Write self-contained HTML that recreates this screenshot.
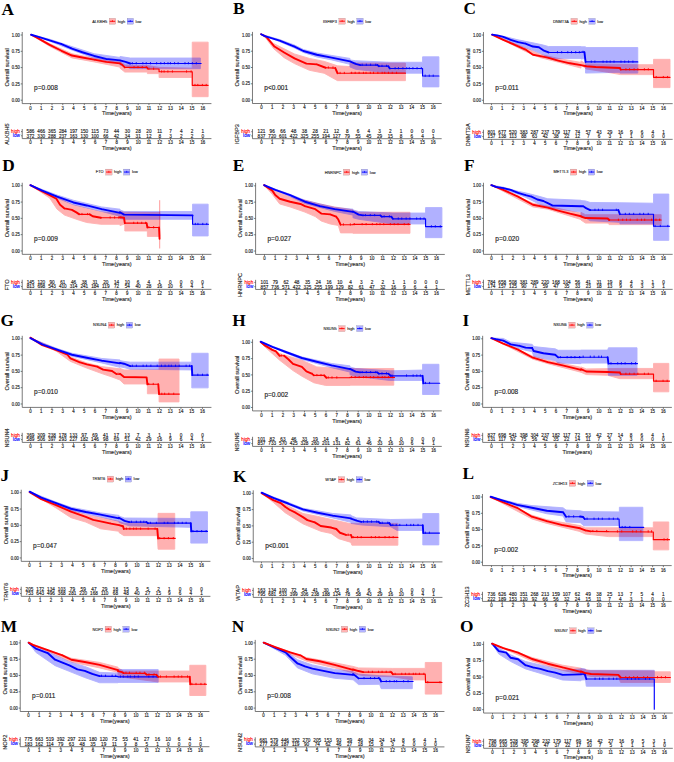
<!DOCTYPE html><html><head><meta charset="utf-8"><style>html,body{margin:0;padding:0;background:#fff;width:674px;height:762px;overflow:hidden}svg{display:block}</style></head><body>
<svg width="674" height="762" viewBox="0 0 674 762">
<style>text{stroke-linejoin:round}.t{stroke:currentColor}</style>
<rect width="674" height="762" fill="#fff"/>
<g transform="translate(0.03,0)">
<g font-family='"Liberation Sans", sans-serif' font-size="3.9" fill="#2a2a2a" stroke="#2a2a2a" stroke-width="0.12">
<text x="92.21" y="22.7">ALKBH5</text>
<rect x="109.17" y="18.3" width="6.5" height="6" fill="#ffb3b3"/>
<line x1="109.67" y1="21.3" x2="115.17" y2="21.3" stroke="#ff0000" stroke-width="0.9"/>
<line x1="112.42" y1="20.1" x2="112.42" y2="21.9" stroke="#ff0000" stroke-width="0.7"/>
<text x="117.67" y="22.7">high</text>
<rect x="127.04" y="18.3" width="6.5" height="6" fill="#b3b3ff"/>
<line x1="127.54" y1="21.3" x2="133.04" y2="21.3" stroke="#0000ff" stroke-width="0.9"/>
<line x1="130.29" y1="20.1" x2="130.29" y2="21.9" stroke="#0000ff" stroke-width="0.7"/>
<text x="135.54" y="22.7">low</text>
</g>
<g stroke="#4d4d4d" stroke-width="0.75" fill="none">
<path d="M22.2,32 V103.6 H211.4"/>
<path d="M20.7,100.2 H22.2"/>
<path d="M20.7,83.9 H22.2"/>
<path d="M20.7,67.6 H22.2"/>
<path d="M20.7,51.3 H22.2"/>
<path d="M20.7,35 H22.2"/>
<path d="M30.44,103.6 V105.1"/>
<path d="M41.21,103.6 V105.1"/>
<path d="M51.98,103.6 V105.1"/>
<path d="M62.75,103.6 V105.1"/>
<path d="M73.52,103.6 V105.1"/>
<path d="M84.29,103.6 V105.1"/>
<path d="M95.06,103.6 V105.1"/>
<path d="M105.83,103.6 V105.1"/>
<path d="M116.6,103.6 V105.1"/>
<path d="M127.37,103.6 V105.1"/>
<path d="M138.14,103.6 V105.1"/>
<path d="M148.91,103.6 V105.1"/>
<path d="M159.68,103.6 V105.1"/>
<path d="M170.45,103.6 V105.1"/>
<path d="M181.22,103.6 V105.1"/>
<path d="M191.99,103.6 V105.1"/>
<path d="M202.76,103.6 V105.1"/>
<path d="M22.2,129 V138.6 H211.4"/>
<path d="M30.44,138.6 V140.1"/>
<path d="M41.21,138.6 V140.1"/>
<path d="M51.98,138.6 V140.1"/>
<path d="M62.75,138.6 V140.1"/>
<path d="M73.52,138.6 V140.1"/>
<path d="M84.29,138.6 V140.1"/>
<path d="M95.06,138.6 V140.1"/>
<path d="M105.83,138.6 V140.1"/>
<path d="M116.6,138.6 V140.1"/>
<path d="M127.37,138.6 V140.1"/>
<path d="M138.14,138.6 V140.1"/>
<path d="M148.91,138.6 V140.1"/>
<path d="M159.68,138.6 V140.1"/>
<path d="M170.45,138.6 V140.1"/>
<path d="M181.22,138.6 V140.1"/>
<path d="M191.99,138.6 V140.1"/>
<path d="M202.76,138.6 V140.1"/>
<path d="M21,131.6 H22.2 M21,135.8 H22.2"/>
</g>
<g font-family='"Liberation Sans", sans-serif' font-size="4.8" fill="#2a2a2a" stroke="#2a2a2a" stroke-width="0.18">
<text x="19.7" y="101.85" text-anchor="end" textLength="8" lengthAdjust="spacingAndGlyphs">0.00</text>
<text x="19.7" y="85.55" text-anchor="end" textLength="8" lengthAdjust="spacingAndGlyphs">0.25</text>
<text x="19.7" y="69.25" text-anchor="end" textLength="8" lengthAdjust="spacingAndGlyphs">0.50</text>
<text x="19.7" y="52.95" text-anchor="end" textLength="8" lengthAdjust="spacingAndGlyphs">0.75</text>
<text x="19.7" y="36.65" text-anchor="end" textLength="8" lengthAdjust="spacingAndGlyphs">1.00</text>
<text x="30.44" y="109.6" text-anchor="middle" textLength="2.4" lengthAdjust="spacingAndGlyphs">0</text>
<text x="30.44" y="144.05" text-anchor="middle" textLength="2.4" lengthAdjust="spacingAndGlyphs">0</text>
<text x="41.21" y="109.6" text-anchor="middle" textLength="2.4" lengthAdjust="spacingAndGlyphs">1</text>
<text x="41.21" y="144.05" text-anchor="middle" textLength="2.4" lengthAdjust="spacingAndGlyphs">1</text>
<text x="51.98" y="109.6" text-anchor="middle" textLength="2.4" lengthAdjust="spacingAndGlyphs">2</text>
<text x="51.98" y="144.05" text-anchor="middle" textLength="2.4" lengthAdjust="spacingAndGlyphs">2</text>
<text x="62.75" y="109.6" text-anchor="middle" textLength="2.4" lengthAdjust="spacingAndGlyphs">3</text>
<text x="62.75" y="144.05" text-anchor="middle" textLength="2.4" lengthAdjust="spacingAndGlyphs">3</text>
<text x="73.52" y="109.6" text-anchor="middle" textLength="2.4" lengthAdjust="spacingAndGlyphs">4</text>
<text x="73.52" y="144.05" text-anchor="middle" textLength="2.4" lengthAdjust="spacingAndGlyphs">4</text>
<text x="84.29" y="109.6" text-anchor="middle" textLength="2.4" lengthAdjust="spacingAndGlyphs">5</text>
<text x="84.29" y="144.05" text-anchor="middle" textLength="2.4" lengthAdjust="spacingAndGlyphs">5</text>
<text x="95.06" y="109.6" text-anchor="middle" textLength="2.4" lengthAdjust="spacingAndGlyphs">6</text>
<text x="95.06" y="144.05" text-anchor="middle" textLength="2.4" lengthAdjust="spacingAndGlyphs">6</text>
<text x="105.83" y="109.6" text-anchor="middle" textLength="2.4" lengthAdjust="spacingAndGlyphs">7</text>
<text x="105.83" y="144.05" text-anchor="middle" textLength="2.4" lengthAdjust="spacingAndGlyphs">7</text>
<text x="116.6" y="109.6" text-anchor="middle" textLength="2.4" lengthAdjust="spacingAndGlyphs">8</text>
<text x="116.6" y="144.05" text-anchor="middle" textLength="2.4" lengthAdjust="spacingAndGlyphs">8</text>
<text x="127.37" y="109.6" text-anchor="middle" textLength="2.4" lengthAdjust="spacingAndGlyphs">9</text>
<text x="127.37" y="144.05" text-anchor="middle" textLength="2.4" lengthAdjust="spacingAndGlyphs">9</text>
<text x="138.14" y="109.6" text-anchor="middle" textLength="4.8" lengthAdjust="spacingAndGlyphs">10</text>
<text x="138.14" y="144.05" text-anchor="middle" textLength="4.8" lengthAdjust="spacingAndGlyphs">10</text>
<text x="148.91" y="109.6" text-anchor="middle" textLength="4.48" lengthAdjust="spacingAndGlyphs">11</text>
<text x="148.91" y="144.05" text-anchor="middle" textLength="4.48" lengthAdjust="spacingAndGlyphs">11</text>
<text x="159.68" y="109.6" text-anchor="middle" textLength="4.8" lengthAdjust="spacingAndGlyphs">12</text>
<text x="159.68" y="144.05" text-anchor="middle" textLength="4.8" lengthAdjust="spacingAndGlyphs">12</text>
<text x="170.45" y="109.6" text-anchor="middle" textLength="4.8" lengthAdjust="spacingAndGlyphs">13</text>
<text x="170.45" y="144.05" text-anchor="middle" textLength="4.8" lengthAdjust="spacingAndGlyphs">13</text>
<text x="181.22" y="109.6" text-anchor="middle" textLength="4.8" lengthAdjust="spacingAndGlyphs">14</text>
<text x="181.22" y="144.05" text-anchor="middle" textLength="4.8" lengthAdjust="spacingAndGlyphs">14</text>
<text x="191.99" y="109.6" text-anchor="middle" textLength="4.8" lengthAdjust="spacingAndGlyphs">15</text>
<text x="191.99" y="144.05" text-anchor="middle" textLength="4.8" lengthAdjust="spacingAndGlyphs">15</text>
<text x="202.76" y="109.6" text-anchor="middle" textLength="4.8" lengthAdjust="spacingAndGlyphs">16</text>
<text x="202.76" y="144.05" text-anchor="middle" textLength="4.8" lengthAdjust="spacingAndGlyphs">16</text>
</g>
<g font-family='"Liberation Sans", sans-serif' font-size="5.6" fill="#2a2a2a" stroke="#2a2a2a" stroke-width="0.14" text-anchor="middle">
<text x="116.8" y="115.25">Time(years)</text>
<text x="116.8" y="149.75">Time(years)</text>
<text transform="translate(8.6,67.5) rotate(-90)" font-size="5.6">Overall survival</text>
<text transform="translate(8.7,134.1) rotate(-90)" font-size="5.6">ALKBH5</text>
</g>
<g font-family='"Liberation Sans", sans-serif' font-size="4.7" text-anchor="end" stroke-width="0.12">
<text x="19.9" y="133" fill="#ff0000" stroke="#ff0000">high</text>
<text x="19.9" y="137" fill="#0000ff" stroke="#0000ff">low</text>
</g>
<g font-family='"Liberation Sans", sans-serif' font-size="5" fill="#222" stroke="#222" stroke-width="0.15" text-anchor="middle">
<text x="30.44" y="133.4" textLength="7.76" lengthAdjust="spacingAndGlyphs">586</text>
<text x="41.21" y="133.4" textLength="7.76" lengthAdjust="spacingAndGlyphs">466</text>
<text x="51.98" y="133.4" textLength="7.76" lengthAdjust="spacingAndGlyphs">365</text>
<text x="62.75" y="133.4" textLength="7.76" lengthAdjust="spacingAndGlyphs">284</text>
<text x="73.52" y="133.4" textLength="7.76" lengthAdjust="spacingAndGlyphs">197</text>
<text x="84.29" y="133.4" textLength="7.76" lengthAdjust="spacingAndGlyphs">150</text>
<text x="95.06" y="133.4" textLength="7.41" lengthAdjust="spacingAndGlyphs">115</text>
<text x="105.83" y="133.4" textLength="5.17" lengthAdjust="spacingAndGlyphs">73</text>
<text x="116.6" y="133.4" textLength="5.17" lengthAdjust="spacingAndGlyphs">44</text>
<text x="127.37" y="133.4" textLength="5.17" lengthAdjust="spacingAndGlyphs">30</text>
<text x="138.14" y="133.4" textLength="5.17" lengthAdjust="spacingAndGlyphs">28</text>
<text x="148.91" y="133.4" textLength="5.17" lengthAdjust="spacingAndGlyphs">20</text>
<text x="159.68" y="133.4" textLength="4.83" lengthAdjust="spacingAndGlyphs">11</text>
<text x="170.45" y="133.4" textLength="2.59" lengthAdjust="spacingAndGlyphs">7</text>
<text x="181.22" y="133.4" textLength="2.59" lengthAdjust="spacingAndGlyphs">4</text>
<text x="191.99" y="133.4" textLength="2.59" lengthAdjust="spacingAndGlyphs">2</text>
<text x="202.76" y="133.4" textLength="2.59" lengthAdjust="spacingAndGlyphs">1</text>
<text x="30.44" y="137.7" textLength="7.76" lengthAdjust="spacingAndGlyphs">372</text>
<text x="41.21" y="137.7" textLength="7.76" lengthAdjust="spacingAndGlyphs">330</text>
<text x="51.98" y="137.7" textLength="7.76" lengthAdjust="spacingAndGlyphs">288</text>
<text x="62.75" y="137.7" textLength="7.76" lengthAdjust="spacingAndGlyphs">237</text>
<text x="73.52" y="137.7" textLength="7.76" lengthAdjust="spacingAndGlyphs">163</text>
<text x="84.29" y="137.7" textLength="7.76" lengthAdjust="spacingAndGlyphs">130</text>
<text x="95.06" y="137.7" textLength="7.76" lengthAdjust="spacingAndGlyphs">100</text>
<text x="105.83" y="137.7" textLength="5.17" lengthAdjust="spacingAndGlyphs">66</text>
<text x="116.6" y="137.7" textLength="5.17" lengthAdjust="spacingAndGlyphs">42</text>
<text x="127.37" y="137.7" textLength="5.17" lengthAdjust="spacingAndGlyphs">34</text>
<text x="138.14" y="137.7" textLength="5.17" lengthAdjust="spacingAndGlyphs">31</text>
<text x="148.91" y="137.7" textLength="5.17" lengthAdjust="spacingAndGlyphs">12</text>
<text x="159.68" y="137.7" textLength="2.59" lengthAdjust="spacingAndGlyphs">8</text>
<text x="170.45" y="137.7" textLength="2.59" lengthAdjust="spacingAndGlyphs">3</text>
<text x="181.22" y="137.7" textLength="2.59" lengthAdjust="spacingAndGlyphs">2</text>
<text x="191.99" y="137.7" textLength="2.59" lengthAdjust="spacingAndGlyphs">2</text>
<text x="202.76" y="137.7" textLength="2.59" lengthAdjust="spacingAndGlyphs">0</text>
</g>
<text x="34.1" y="90.2" font-family='"Liberation Sans", sans-serif' font-size="6.5" fill="#222" stroke="#222" stroke-width="0.15">p=0.008</text>
</g>
<path d="M31.13,34.75 L49.67,43.65 L71.93,53.74 L94.18,58.19 L120,61.9 L119.97,61.16 L124.8,65.05 L147.39,65.52 L159.07,67.39 L192.26,68.17 L192.26,42.15 L208.15,42.15 L208.15,96.68 L192.26,96.68 L192.26,77.51 L159.07,77.51 L159.07,73.62 L147.39,73.62 L147.39,72.06 L124.8,72.06 L119.97,68.17 L120,67.09 L94.18,61.9 L71.93,57.89 L49.67,46.32 L31.13,34.75 Z" fill="#ff0000" stroke="#ff0000" stroke-width="0.9" stroke-linejoin="round" opacity="0.3"/>
<path d="M31.13,34.75 L49.67,39.2 L71.93,46.62 L94.18,53.74 L120,57.45 L119.97,56.48 L130.25,58.04 L200.36,58.04 L200.36,68.64 L130.25,68.64 L125.58,65.83 L119.97,65.05 L120,63.38 L94.18,58.19 L71.93,50.03 L49.67,41.13 L31.13,34.75 Z" fill="#0000ff" stroke="#0000ff" stroke-width="0.9" stroke-linejoin="round" opacity="0.3"/>
<path d="M31.13,34.75 L37.8,38.16 M37.8,38.16 L49.67,44.84 M49.67,44.84 L61.54,50.77 M61.54,50.77 L71.93,55.52 M71.93,55.52 L82.31,57.45 M82.31,57.45 L94.18,59.67 M94.18,59.67 L106.05,61.9 M106.05,61.9 L120,63.38 M119.97,63.49 L122.46,65.05 M122.46,65.05 L124.8,67.39" fill="none" stroke="#ff0000" stroke-width="1.9" stroke-linecap="round"/>
<path d="M120,63.38 L119.97,63.49 M124.8,67.39 L147.39,67.39 M147.39,67.39 L147.39,68.95 M147.39,68.95 L159.07,68.95 M159.07,68.95 L159.07,71.75 M159.07,71.75 L192.26,71.75 M192.26,71.75 L192.26,85.3 M192.26,85.3 L208.15,85.3" fill="none" stroke="#ff0000" stroke-width="1.15" stroke-linecap="round"/>
<path d="M134.05,65.99 V68.19 M138.01,65.99 V68.19 M142.29,65.99 V68.19 M146.26,65.99 V68.19 M148.86,67.55 V69.75 M153.63,67.55 V69.75 M161.63,70.35 V72.55 M164.1,70.35 V72.55 M167.89,70.35 V72.55 M172.45,70.35 V72.55 M186.55,70.35 V72.55 M191.11,70.35 V72.55 M194.97,83.9 V86.1 M197.81,83.9 V86.1 M202.4,83.9 V86.1 M206.22,83.9 V86.1" fill="none" stroke="#ff0000" stroke-width="0.9"/>
<path d="M31.13,34.75 L37.8,36.68 M37.8,36.68 L49.67,40.39 M49.67,40.39 L61.54,44.09 M61.54,44.09 L71.93,48.55 M71.93,48.55 L82.31,52.26 M82.31,52.26 L94.18,55.96 M94.18,55.96 L106.05,58.93 M106.05,58.93 L120,60.42 M119.97,60.38 L125.58,61.94 M125.58,61.94 L130.25,63.49" fill="none" stroke="#0000ff" stroke-width="1.9" stroke-linecap="round"/>
<path d="M120,60.42 L119.97,60.38 M130.25,63.49 L201.14,63.49" fill="none" stroke="#0000ff" stroke-width="1.15" stroke-linecap="round"/>
<path d="M132.28,62.09 V64.29 M136.28,62.09 V64.29 M142.85,62.09 V64.29 M146.24,62.09 V64.29 M150.48,62.09 V64.29 M156.64,62.09 V64.29 M160.8,62.09 V64.29 M164.36,62.09 V64.29 M168.01,62.09 V64.29 M170.42,62.09 V64.29 M174.58,62.09 V64.29 M178.14,62.09 V64.29 M184.97,62.09 V64.29 M188.36,62.09 V64.29 M192.34,62.09 V64.29 M196.34,62.09 V64.29" fill="none" stroke="#0000ff" stroke-width="0.9"/>
<text x="1.4" y="14.6" font-family='"Liberation Serif", serif' font-weight="bold" font-size="17.3" fill="#000">A</text>
<g transform="translate(230.28,-0.1)">
<g font-family='"Liberation Sans", sans-serif' font-size="3.9" fill="#2a2a2a" stroke="#2a2a2a" stroke-width="0.12">
<text x="92.75" y="22.7">IGFBP3</text>
<rect x="108.62" y="18.3" width="6.5" height="6" fill="#ffb3b3"/>
<line x1="109.12" y1="21.3" x2="114.62" y2="21.3" stroke="#ff0000" stroke-width="0.9"/>
<line x1="111.87" y1="20.1" x2="111.87" y2="21.9" stroke="#ff0000" stroke-width="0.7"/>
<text x="117.12" y="22.7">high</text>
<rect x="126.5" y="18.3" width="6.5" height="6" fill="#b3b3ff"/>
<line x1="127" y1="21.3" x2="132.5" y2="21.3" stroke="#0000ff" stroke-width="0.9"/>
<line x1="129.75" y1="20.1" x2="129.75" y2="21.9" stroke="#0000ff" stroke-width="0.7"/>
<text x="135" y="22.7">low</text>
</g>
<g stroke="#4d4d4d" stroke-width="0.75" fill="none">
<path d="M22.2,32 V103.6 H211.4"/>
<path d="M20.7,100.2 H22.2"/>
<path d="M20.7,83.9 H22.2"/>
<path d="M20.7,67.6 H22.2"/>
<path d="M20.7,51.3 H22.2"/>
<path d="M20.7,35 H22.2"/>
<path d="M31.19,103.6 V105.1"/>
<path d="M41.93,103.6 V105.1"/>
<path d="M52.66,103.6 V105.1"/>
<path d="M63.4,103.6 V105.1"/>
<path d="M74.13,103.6 V105.1"/>
<path d="M84.87,103.6 V105.1"/>
<path d="M95.61,103.6 V105.1"/>
<path d="M106.34,103.6 V105.1"/>
<path d="M117.08,103.6 V105.1"/>
<path d="M127.81,103.6 V105.1"/>
<path d="M138.55,103.6 V105.1"/>
<path d="M149.29,103.6 V105.1"/>
<path d="M160.02,103.6 V105.1"/>
<path d="M170.76,103.6 V105.1"/>
<path d="M181.49,103.6 V105.1"/>
<path d="M192.23,103.6 V105.1"/>
<path d="M202.97,103.6 V105.1"/>
<path d="M22.2,129.2 V138.8 H211.4"/>
<path d="M31.19,138.8 V140.3"/>
<path d="M41.93,138.8 V140.3"/>
<path d="M52.66,138.8 V140.3"/>
<path d="M63.4,138.8 V140.3"/>
<path d="M74.13,138.8 V140.3"/>
<path d="M84.87,138.8 V140.3"/>
<path d="M95.61,138.8 V140.3"/>
<path d="M106.34,138.8 V140.3"/>
<path d="M117.08,138.8 V140.3"/>
<path d="M127.81,138.8 V140.3"/>
<path d="M138.55,138.8 V140.3"/>
<path d="M149.29,138.8 V140.3"/>
<path d="M160.02,138.8 V140.3"/>
<path d="M170.76,138.8 V140.3"/>
<path d="M181.49,138.8 V140.3"/>
<path d="M192.23,138.8 V140.3"/>
<path d="M202.97,138.8 V140.3"/>
<path d="M21,131.8 H22.2 M21,136 H22.2"/>
</g>
<g font-family='"Liberation Sans", sans-serif' font-size="4.8" fill="#2a2a2a" stroke="#2a2a2a" stroke-width="0.18">
<text x="19.7" y="101.85" text-anchor="end" textLength="8" lengthAdjust="spacingAndGlyphs">0.00</text>
<text x="19.7" y="85.55" text-anchor="end" textLength="8" lengthAdjust="spacingAndGlyphs">0.25</text>
<text x="19.7" y="69.25" text-anchor="end" textLength="8" lengthAdjust="spacingAndGlyphs">0.50</text>
<text x="19.7" y="52.95" text-anchor="end" textLength="8" lengthAdjust="spacingAndGlyphs">0.75</text>
<text x="19.7" y="36.65" text-anchor="end" textLength="8" lengthAdjust="spacingAndGlyphs">1.00</text>
<text x="31.19" y="109.6" text-anchor="middle" textLength="2.4" lengthAdjust="spacingAndGlyphs">0</text>
<text x="31.19" y="144.25" text-anchor="middle" textLength="2.4" lengthAdjust="spacingAndGlyphs">0</text>
<text x="41.93" y="109.6" text-anchor="middle" textLength="2.4" lengthAdjust="spacingAndGlyphs">1</text>
<text x="41.93" y="144.25" text-anchor="middle" textLength="2.4" lengthAdjust="spacingAndGlyphs">1</text>
<text x="52.66" y="109.6" text-anchor="middle" textLength="2.4" lengthAdjust="spacingAndGlyphs">2</text>
<text x="52.66" y="144.25" text-anchor="middle" textLength="2.4" lengthAdjust="spacingAndGlyphs">2</text>
<text x="63.4" y="109.6" text-anchor="middle" textLength="2.4" lengthAdjust="spacingAndGlyphs">3</text>
<text x="63.4" y="144.25" text-anchor="middle" textLength="2.4" lengthAdjust="spacingAndGlyphs">3</text>
<text x="74.13" y="109.6" text-anchor="middle" textLength="2.4" lengthAdjust="spacingAndGlyphs">4</text>
<text x="74.13" y="144.25" text-anchor="middle" textLength="2.4" lengthAdjust="spacingAndGlyphs">4</text>
<text x="84.87" y="109.6" text-anchor="middle" textLength="2.4" lengthAdjust="spacingAndGlyphs">5</text>
<text x="84.87" y="144.25" text-anchor="middle" textLength="2.4" lengthAdjust="spacingAndGlyphs">5</text>
<text x="95.61" y="109.6" text-anchor="middle" textLength="2.4" lengthAdjust="spacingAndGlyphs">6</text>
<text x="95.61" y="144.25" text-anchor="middle" textLength="2.4" lengthAdjust="spacingAndGlyphs">6</text>
<text x="106.34" y="109.6" text-anchor="middle" textLength="2.4" lengthAdjust="spacingAndGlyphs">7</text>
<text x="106.34" y="144.25" text-anchor="middle" textLength="2.4" lengthAdjust="spacingAndGlyphs">7</text>
<text x="117.08" y="109.6" text-anchor="middle" textLength="2.4" lengthAdjust="spacingAndGlyphs">8</text>
<text x="117.08" y="144.25" text-anchor="middle" textLength="2.4" lengthAdjust="spacingAndGlyphs">8</text>
<text x="127.81" y="109.6" text-anchor="middle" textLength="2.4" lengthAdjust="spacingAndGlyphs">9</text>
<text x="127.81" y="144.25" text-anchor="middle" textLength="2.4" lengthAdjust="spacingAndGlyphs">9</text>
<text x="138.55" y="109.6" text-anchor="middle" textLength="4.8" lengthAdjust="spacingAndGlyphs">10</text>
<text x="138.55" y="144.25" text-anchor="middle" textLength="4.8" lengthAdjust="spacingAndGlyphs">10</text>
<text x="149.29" y="109.6" text-anchor="middle" textLength="4.48" lengthAdjust="spacingAndGlyphs">11</text>
<text x="149.29" y="144.25" text-anchor="middle" textLength="4.48" lengthAdjust="spacingAndGlyphs">11</text>
<text x="160.02" y="109.6" text-anchor="middle" textLength="4.8" lengthAdjust="spacingAndGlyphs">12</text>
<text x="160.02" y="144.25" text-anchor="middle" textLength="4.8" lengthAdjust="spacingAndGlyphs">12</text>
<text x="170.76" y="109.6" text-anchor="middle" textLength="4.8" lengthAdjust="spacingAndGlyphs">13</text>
<text x="170.76" y="144.25" text-anchor="middle" textLength="4.8" lengthAdjust="spacingAndGlyphs">13</text>
<text x="181.49" y="109.6" text-anchor="middle" textLength="4.8" lengthAdjust="spacingAndGlyphs">14</text>
<text x="181.49" y="144.25" text-anchor="middle" textLength="4.8" lengthAdjust="spacingAndGlyphs">14</text>
<text x="192.23" y="109.6" text-anchor="middle" textLength="4.8" lengthAdjust="spacingAndGlyphs">15</text>
<text x="192.23" y="144.25" text-anchor="middle" textLength="4.8" lengthAdjust="spacingAndGlyphs">15</text>
<text x="202.97" y="109.6" text-anchor="middle" textLength="4.8" lengthAdjust="spacingAndGlyphs">16</text>
<text x="202.97" y="144.25" text-anchor="middle" textLength="4.8" lengthAdjust="spacingAndGlyphs">16</text>
</g>
<g font-family='"Liberation Sans", sans-serif' font-size="5.6" fill="#2a2a2a" stroke="#2a2a2a" stroke-width="0.14" text-anchor="middle">
<text x="116.8" y="115.25">Time(years)</text>
<text x="116.8" y="149.95">Time(years)</text>
<text transform="translate(8.6,67.5) rotate(-90)" font-size="5.6">Overall survival</text>
<text transform="translate(8.7,134.3) rotate(-90)" font-size="5.6">IGFBP3</text>
</g>
<g font-family='"Liberation Sans", sans-serif' font-size="4.7" text-anchor="end" stroke-width="0.12">
<text x="19.9" y="133.2" fill="#ff0000" stroke="#ff0000">high</text>
<text x="19.9" y="137.2" fill="#0000ff" stroke="#0000ff">low</text>
</g>
<g font-family='"Liberation Sans", sans-serif' font-size="5" fill="#222" stroke="#222" stroke-width="0.15" text-anchor="middle">
<text x="31.19" y="133.6" textLength="7.76" lengthAdjust="spacingAndGlyphs">121</text>
<text x="41.93" y="133.6" textLength="5.17" lengthAdjust="spacingAndGlyphs">96</text>
<text x="52.66" y="133.6" textLength="5.17" lengthAdjust="spacingAndGlyphs">66</text>
<text x="63.4" y="133.6" textLength="5.17" lengthAdjust="spacingAndGlyphs">48</text>
<text x="74.13" y="133.6" textLength="5.17" lengthAdjust="spacingAndGlyphs">38</text>
<text x="84.87" y="133.6" textLength="5.17" lengthAdjust="spacingAndGlyphs">28</text>
<text x="95.61" y="133.6" textLength="5.17" lengthAdjust="spacingAndGlyphs">21</text>
<text x="106.34" y="133.6" textLength="5.17" lengthAdjust="spacingAndGlyphs">12</text>
<text x="117.08" y="133.6" textLength="2.59" lengthAdjust="spacingAndGlyphs">8</text>
<text x="127.81" y="133.6" textLength="2.59" lengthAdjust="spacingAndGlyphs">6</text>
<text x="138.55" y="133.6" textLength="2.59" lengthAdjust="spacingAndGlyphs">4</text>
<text x="149.29" y="133.6" textLength="2.59" lengthAdjust="spacingAndGlyphs">3</text>
<text x="160.02" y="133.6" textLength="2.59" lengthAdjust="spacingAndGlyphs">2</text>
<text x="170.76" y="133.6" textLength="2.59" lengthAdjust="spacingAndGlyphs">1</text>
<text x="181.49" y="133.6" textLength="2.59" lengthAdjust="spacingAndGlyphs">0</text>
<text x="192.23" y="133.6" textLength="2.59" lengthAdjust="spacingAndGlyphs">0</text>
<text x="202.97" y="133.6" textLength="2.59" lengthAdjust="spacingAndGlyphs">0</text>
<text x="31.19" y="137.9" textLength="7.76" lengthAdjust="spacingAndGlyphs">837</text>
<text x="41.93" y="137.9" textLength="7.76" lengthAdjust="spacingAndGlyphs">720</text>
<text x="52.66" y="137.9" textLength="7.76" lengthAdjust="spacingAndGlyphs">601</text>
<text x="63.4" y="137.9" textLength="7.76" lengthAdjust="spacingAndGlyphs">422</text>
<text x="74.13" y="137.9" textLength="7.76" lengthAdjust="spacingAndGlyphs">325</text>
<text x="84.87" y="137.9" textLength="7.76" lengthAdjust="spacingAndGlyphs">255</text>
<text x="95.61" y="137.9" textLength="7.76" lengthAdjust="spacingAndGlyphs">194</text>
<text x="106.34" y="137.9" textLength="7.76" lengthAdjust="spacingAndGlyphs">127</text>
<text x="117.08" y="137.9" textLength="5.17" lengthAdjust="spacingAndGlyphs">79</text>
<text x="127.81" y="137.9" textLength="5.17" lengthAdjust="spacingAndGlyphs">55</text>
<text x="138.55" y="137.9" textLength="5.17" lengthAdjust="spacingAndGlyphs">45</text>
<text x="149.29" y="137.9" textLength="5.17" lengthAdjust="spacingAndGlyphs">29</text>
<text x="160.02" y="137.9" textLength="5.17" lengthAdjust="spacingAndGlyphs">15</text>
<text x="170.76" y="137.9" textLength="2.59" lengthAdjust="spacingAndGlyphs">8</text>
<text x="181.49" y="137.9" textLength="2.59" lengthAdjust="spacingAndGlyphs">6</text>
<text x="192.23" y="137.9" textLength="2.59" lengthAdjust="spacingAndGlyphs">4</text>
<text x="202.97" y="137.9" textLength="2.59" lengthAdjust="spacingAndGlyphs">1</text>
</g>
<text x="34.1" y="90.2" font-family='"Liberation Sans", sans-serif' font-size="6.5" fill="#222" stroke="#222" stroke-width="0.15">p<0.001</text>
</g>
<path d="M261.13,34.23 L264.84,35.42 L273.74,43.58 L284.12,48.77 L294.51,53.96 L309.35,58.42 L324.18,61.38 L337.54,65.83 L350,66.58 L349.97,63.05 L405.43,63.05 L405.43,80.66 L349.97,80.66 L350,80.67 L337.54,80.67 L324.18,73.25 L309.35,70.28 L294.51,63.61 L284.12,57.67 L273.74,48.77 L264.84,36.9 L261.13,34.23 Z" fill="#ff0000" stroke="#ff0000" stroke-width="0.9" stroke-linejoin="round" opacity="0.3"/>
<path d="M261.13,34.23 L279.67,39.57 L294.51,45.06 L303.41,49.51 L316.77,52.93 L331.6,55.45 L350,58.42 L349.97,59.94 L355.58,60.72 L389.85,62.27 L422.57,62.27 L422.57,56.82 L438.92,56.82 L438.92,86.89 L422.57,86.89 L422.57,73.18 L389.85,73.18 L355.58,69.28 L349.97,66.95 L350,64.35 L331.6,59.9 L316.77,56.93 L303.41,52.48 L294.51,48.03 L279.67,41.65 L261.13,34.23 Z" fill="#0000ff" stroke="#0000ff" stroke-width="0.9" stroke-linejoin="round" opacity="0.3"/>
<path d="M261.13,34.23 L266.32,36.9 M266.32,36.9 L274.48,46.55 M274.48,46.55 L284.12,52.48 M284.12,52.48 L294.51,58.42 M294.51,58.42 L306.38,63.61 M306.38,63.61 L316.77,64.35 M316.77,64.35 L325.67,67.76 M335.31,68.06 L337.54,73.25" fill="none" stroke="#ff0000" stroke-width="1.9" stroke-linecap="round"/>
<path d="M325.67,67.76 L335.31,68.06 M337.54,73.25 L350,73.25 M350,73.25 L349.97,73.18 M349.97,73.18 L405.43,73.18" fill="none" stroke="#ff0000" stroke-width="1.15" stroke-linecap="round"/>
<path d="M328.32,66.36 V68.56 M332.99,66.36 V68.56 M340.09,71.85 V74.05 M344.34,71.85 V74.05 M351.62,71.78 V73.98 M355.17,71.78 V73.98 M359.14,71.78 V73.98 M363.45,71.78 V73.98 M366.02,71.78 V73.98 M370.33,71.78 V73.98 M373.54,71.78 V73.98 M377.85,71.78 V73.98 M382.16,71.78 V73.98 M384.73,71.78 V73.98 M388.45,71.78 V73.98 M392.25,71.78 V73.98 M396.56,71.78 V73.98" fill="none" stroke="#ff0000" stroke-width="0.9"/>
<path d="M261.13,34.23 L264.84,36.16 M264.84,36.16 L279.67,40.61 M279.67,40.61 L294.51,46.55 M294.51,46.55 L303.41,51 M303.41,51 L316.77,54.71 M316.77,54.71 L331.6,57.67 M331.6,57.67 L350,61.38 M349.97,61.49 L355.58,63.83 M355.58,63.83 L360.25,65.08 M377.39,65.08 L378.95,66.17 M388.29,66.17 L389.85,68.5" fill="none" stroke="#0000ff" stroke-width="1.9" stroke-linecap="round"/>
<path d="M350,61.38 L349.97,61.49 M360.25,65.08 L377.39,65.08 M378.95,66.17 L388.29,66.17 M389.85,68.5 L422.57,68.5 M422.57,68.5 L422.57,75.98 M422.57,75.98 L438.92,75.98" fill="none" stroke="#0000ff" stroke-width="1.15" stroke-linecap="round"/>
<path d="M362.18,63.68 V65.88 M366.31,63.68 V65.88 M370.61,63.68 V65.88 M375.77,63.68 V65.88 M381.99,64.77 V66.97 M386.51,64.77 V66.97 M395.11,67.1 V69.3 M398.42,67.1 V69.3 M402.92,67.1 V69.3 M406.76,67.1 V69.3 M409.26,67.1 V69.3 M412.92,67.1 V69.3 M417.07,67.1 V69.3 M421.32,67.1 V69.3 M425.18,74.58 V76.78 M429.28,74.58 V76.78 M433.22,74.58 V76.78" fill="none" stroke="#0000ff" stroke-width="0.9"/>
<text x="232.9" y="14.3" font-family='"Liberation Serif", serif' font-weight="bold" font-size="17.3" fill="#000">B</text>
<g transform="translate(461.26,0.05)">
<g font-family='"Liberation Sans", sans-serif' font-size="3.9" fill="#2a2a2a" stroke="#2a2a2a" stroke-width="0.12">
<text x="91.67" y="22.7">DNMT3A</text>
<rect x="109.7" y="18.3" width="6.5" height="6" fill="#ffb3b3"/>
<line x1="110.2" y1="21.3" x2="115.7" y2="21.3" stroke="#ff0000" stroke-width="0.9"/>
<line x1="112.95" y1="20.1" x2="112.95" y2="21.9" stroke="#ff0000" stroke-width="0.7"/>
<text x="118.2" y="22.7">high</text>
<rect x="127.58" y="18.3" width="6.5" height="6" fill="#b3b3ff"/>
<line x1="128.08" y1="21.3" x2="133.58" y2="21.3" stroke="#0000ff" stroke-width="0.9"/>
<line x1="130.83" y1="20.1" x2="130.83" y2="21.9" stroke="#0000ff" stroke-width="0.7"/>
<text x="136.08" y="22.7">low</text>
</g>
<g stroke="#4d4d4d" stroke-width="0.75" fill="none">
<path d="M22.2,32 V103.6 H211.4"/>
<path d="M20.7,100.2 H22.2"/>
<path d="M20.7,83.9 H22.2"/>
<path d="M20.7,67.6 H22.2"/>
<path d="M20.7,51.3 H22.2"/>
<path d="M20.7,35 H22.2"/>
<path d="M30.21,103.6 V105.1"/>
<path d="M40.96,103.6 V105.1"/>
<path d="M51.71,103.6 V105.1"/>
<path d="M62.46,103.6 V105.1"/>
<path d="M73.21,103.6 V105.1"/>
<path d="M83.96,103.6 V105.1"/>
<path d="M94.71,103.6 V105.1"/>
<path d="M105.46,103.6 V105.1"/>
<path d="M116.21,103.6 V105.1"/>
<path d="M126.96,103.6 V105.1"/>
<path d="M137.71,103.6 V105.1"/>
<path d="M148.46,103.6 V105.1"/>
<path d="M159.21,103.6 V105.1"/>
<path d="M169.96,103.6 V105.1"/>
<path d="M180.71,103.6 V105.1"/>
<path d="M191.46,103.6 V105.1"/>
<path d="M202.21,103.6 V105.1"/>
<path d="M22.2,129.7 V139.3 H211.4"/>
<path d="M30.21,139.3 V140.8"/>
<path d="M40.96,139.3 V140.8"/>
<path d="M51.71,139.3 V140.8"/>
<path d="M62.46,139.3 V140.8"/>
<path d="M73.21,139.3 V140.8"/>
<path d="M83.96,139.3 V140.8"/>
<path d="M94.71,139.3 V140.8"/>
<path d="M105.46,139.3 V140.8"/>
<path d="M116.21,139.3 V140.8"/>
<path d="M126.96,139.3 V140.8"/>
<path d="M137.71,139.3 V140.8"/>
<path d="M148.46,139.3 V140.8"/>
<path d="M159.21,139.3 V140.8"/>
<path d="M169.96,139.3 V140.8"/>
<path d="M180.71,139.3 V140.8"/>
<path d="M191.46,139.3 V140.8"/>
<path d="M202.21,139.3 V140.8"/>
<path d="M21,132.3 H22.2 M21,136.5 H22.2"/>
</g>
<g font-family='"Liberation Sans", sans-serif' font-size="4.8" fill="#2a2a2a" stroke="#2a2a2a" stroke-width="0.18">
<text x="19.7" y="101.85" text-anchor="end" textLength="8" lengthAdjust="spacingAndGlyphs">0.00</text>
<text x="19.7" y="85.55" text-anchor="end" textLength="8" lengthAdjust="spacingAndGlyphs">0.25</text>
<text x="19.7" y="69.25" text-anchor="end" textLength="8" lengthAdjust="spacingAndGlyphs">0.50</text>
<text x="19.7" y="52.95" text-anchor="end" textLength="8" lengthAdjust="spacingAndGlyphs">0.75</text>
<text x="19.7" y="36.65" text-anchor="end" textLength="8" lengthAdjust="spacingAndGlyphs">1.00</text>
<text x="30.21" y="109.6" text-anchor="middle" textLength="2.4" lengthAdjust="spacingAndGlyphs">0</text>
<text x="30.21" y="144.75" text-anchor="middle" textLength="2.4" lengthAdjust="spacingAndGlyphs">0</text>
<text x="40.96" y="109.6" text-anchor="middle" textLength="2.4" lengthAdjust="spacingAndGlyphs">1</text>
<text x="40.96" y="144.75" text-anchor="middle" textLength="2.4" lengthAdjust="spacingAndGlyphs">1</text>
<text x="51.71" y="109.6" text-anchor="middle" textLength="2.4" lengthAdjust="spacingAndGlyphs">2</text>
<text x="51.71" y="144.75" text-anchor="middle" textLength="2.4" lengthAdjust="spacingAndGlyphs">2</text>
<text x="62.46" y="109.6" text-anchor="middle" textLength="2.4" lengthAdjust="spacingAndGlyphs">3</text>
<text x="62.46" y="144.75" text-anchor="middle" textLength="2.4" lengthAdjust="spacingAndGlyphs">3</text>
<text x="73.21" y="109.6" text-anchor="middle" textLength="2.4" lengthAdjust="spacingAndGlyphs">4</text>
<text x="73.21" y="144.75" text-anchor="middle" textLength="2.4" lengthAdjust="spacingAndGlyphs">4</text>
<text x="83.96" y="109.6" text-anchor="middle" textLength="2.4" lengthAdjust="spacingAndGlyphs">5</text>
<text x="83.96" y="144.75" text-anchor="middle" textLength="2.4" lengthAdjust="spacingAndGlyphs">5</text>
<text x="94.71" y="109.6" text-anchor="middle" textLength="2.4" lengthAdjust="spacingAndGlyphs">6</text>
<text x="94.71" y="144.75" text-anchor="middle" textLength="2.4" lengthAdjust="spacingAndGlyphs">6</text>
<text x="105.46" y="109.6" text-anchor="middle" textLength="2.4" lengthAdjust="spacingAndGlyphs">7</text>
<text x="105.46" y="144.75" text-anchor="middle" textLength="2.4" lengthAdjust="spacingAndGlyphs">7</text>
<text x="116.21" y="109.6" text-anchor="middle" textLength="2.4" lengthAdjust="spacingAndGlyphs">8</text>
<text x="116.21" y="144.75" text-anchor="middle" textLength="2.4" lengthAdjust="spacingAndGlyphs">8</text>
<text x="126.96" y="109.6" text-anchor="middle" textLength="2.4" lengthAdjust="spacingAndGlyphs">9</text>
<text x="126.96" y="144.75" text-anchor="middle" textLength="2.4" lengthAdjust="spacingAndGlyphs">9</text>
<text x="137.71" y="109.6" text-anchor="middle" textLength="4.8" lengthAdjust="spacingAndGlyphs">10</text>
<text x="137.71" y="144.75" text-anchor="middle" textLength="4.8" lengthAdjust="spacingAndGlyphs">10</text>
<text x="148.46" y="109.6" text-anchor="middle" textLength="4.48" lengthAdjust="spacingAndGlyphs">11</text>
<text x="148.46" y="144.75" text-anchor="middle" textLength="4.48" lengthAdjust="spacingAndGlyphs">11</text>
<text x="159.21" y="109.6" text-anchor="middle" textLength="4.8" lengthAdjust="spacingAndGlyphs">12</text>
<text x="159.21" y="144.75" text-anchor="middle" textLength="4.8" lengthAdjust="spacingAndGlyphs">12</text>
<text x="169.96" y="109.6" text-anchor="middle" textLength="4.8" lengthAdjust="spacingAndGlyphs">13</text>
<text x="169.96" y="144.75" text-anchor="middle" textLength="4.8" lengthAdjust="spacingAndGlyphs">13</text>
<text x="180.71" y="109.6" text-anchor="middle" textLength="4.8" lengthAdjust="spacingAndGlyphs">14</text>
<text x="180.71" y="144.75" text-anchor="middle" textLength="4.8" lengthAdjust="spacingAndGlyphs">14</text>
<text x="191.46" y="109.6" text-anchor="middle" textLength="4.8" lengthAdjust="spacingAndGlyphs">15</text>
<text x="191.46" y="144.75" text-anchor="middle" textLength="4.8" lengthAdjust="spacingAndGlyphs">15</text>
<text x="202.21" y="109.6" text-anchor="middle" textLength="4.8" lengthAdjust="spacingAndGlyphs">16</text>
<text x="202.21" y="144.75" text-anchor="middle" textLength="4.8" lengthAdjust="spacingAndGlyphs">16</text>
</g>
<g font-family='"Liberation Sans", sans-serif' font-size="5.6" fill="#2a2a2a" stroke="#2a2a2a" stroke-width="0.14" text-anchor="middle">
<text x="116.8" y="115.25">Time(years)</text>
<text x="116.8" y="150.45">Time(years)</text>
<text transform="translate(8.6,67.5) rotate(-90)" font-size="5.6">Overall survival</text>
<text transform="translate(8.7,134.8) rotate(-90)" font-size="5.6">DNMT3A</text>
</g>
<g font-family='"Liberation Sans", sans-serif' font-size="4.7" text-anchor="end" stroke-width="0.12">
<text x="19.9" y="133.7" fill="#ff0000" stroke="#ff0000">high</text>
<text x="19.9" y="137.7" fill="#0000ff" stroke="#0000ff">low</text>
</g>
<g font-family='"Liberation Sans", sans-serif' font-size="5" fill="#222" stroke="#222" stroke-width="0.15" text-anchor="middle">
<text x="30.21" y="134.1" textLength="7.76" lengthAdjust="spacingAndGlyphs">801</text>
<text x="40.96" y="134.1" textLength="7.76" lengthAdjust="spacingAndGlyphs">677</text>
<text x="51.71" y="134.1" textLength="7.76" lengthAdjust="spacingAndGlyphs">520</text>
<text x="62.46" y="134.1" textLength="7.76" lengthAdjust="spacingAndGlyphs">383</text>
<text x="73.21" y="134.1" textLength="7.76" lengthAdjust="spacingAndGlyphs">287</text>
<text x="83.96" y="134.1" textLength="7.76" lengthAdjust="spacingAndGlyphs">237</text>
<text x="94.71" y="134.1" textLength="7.76" lengthAdjust="spacingAndGlyphs">179</text>
<text x="105.46" y="134.1" textLength="7.41" lengthAdjust="spacingAndGlyphs">117</text>
<text x="116.21" y="134.1" textLength="5.17" lengthAdjust="spacingAndGlyphs">74</text>
<text x="126.96" y="134.1" textLength="5.17" lengthAdjust="spacingAndGlyphs">57</text>
<text x="137.71" y="134.1" textLength="5.17" lengthAdjust="spacingAndGlyphs">43</text>
<text x="148.46" y="134.1" textLength="5.17" lengthAdjust="spacingAndGlyphs">29</text>
<text x="159.21" y="134.1" textLength="5.17" lengthAdjust="spacingAndGlyphs">16</text>
<text x="169.96" y="134.1" textLength="2.59" lengthAdjust="spacingAndGlyphs">9</text>
<text x="180.71" y="134.1" textLength="2.59" lengthAdjust="spacingAndGlyphs">6</text>
<text x="191.46" y="134.1" textLength="2.59" lengthAdjust="spacingAndGlyphs">4</text>
<text x="202.21" y="134.1" textLength="2.59" lengthAdjust="spacingAndGlyphs">1</text>
<text x="30.21" y="138.4" textLength="7.76" lengthAdjust="spacingAndGlyphs">157</text>
<text x="40.96" y="138.4" textLength="7.76" lengthAdjust="spacingAndGlyphs">138</text>
<text x="51.71" y="138.4" textLength="7.41" lengthAdjust="spacingAndGlyphs">113</text>
<text x="62.46" y="138.4" textLength="5.17" lengthAdjust="spacingAndGlyphs">88</text>
<text x="73.21" y="138.4" textLength="5.17" lengthAdjust="spacingAndGlyphs">63</text>
<text x="83.96" y="138.4" textLength="5.17" lengthAdjust="spacingAndGlyphs">42</text>
<text x="94.71" y="138.4" textLength="5.17" lengthAdjust="spacingAndGlyphs">38</text>
<text x="105.46" y="138.4" textLength="5.17" lengthAdjust="spacingAndGlyphs">22</text>
<text x="116.21" y="138.4" textLength="5.17" lengthAdjust="spacingAndGlyphs">12</text>
<text x="126.96" y="138.4" textLength="2.59" lengthAdjust="spacingAndGlyphs">7</text>
<text x="137.71" y="138.4" textLength="2.59" lengthAdjust="spacingAndGlyphs">6</text>
<text x="148.46" y="138.4" textLength="2.59" lengthAdjust="spacingAndGlyphs">3</text>
<text x="159.21" y="138.4" textLength="2.59" lengthAdjust="spacingAndGlyphs">1</text>
<text x="169.96" y="138.4" textLength="2.59" lengthAdjust="spacingAndGlyphs">1</text>
<text x="180.71" y="138.4" textLength="2.59" lengthAdjust="spacingAndGlyphs">0</text>
<text x="191.46" y="138.4" textLength="2.59" lengthAdjust="spacingAndGlyphs">0</text>
<text x="202.21" y="138.4" textLength="2.59" lengthAdjust="spacingAndGlyphs">0</text>
</g>
<text x="34.1" y="90.2" font-family='"Liberation Sans", sans-serif' font-size="6.5" fill="#222" stroke="#222" stroke-width="0.15">p=0.011</text>
</g>
<path d="M492.13,34.68 L525.51,48.03 L540.35,54.41 L558.15,58.42 L581,62.42 L580.93,60.86 L586.28,63.91 L637.78,64.68 L653.52,64.68 L653.52,59.33 L670.03,59.33 L670.03,87.6 L653.52,87.6 L653.52,74.61 L620.67,74.61 L607.68,72.32 L586.28,68.96 L580.93,64.68 L581,68.06 L558.15,62.12 L540.35,57.67 L525.51,51.44 L492.13,34.68 Z" fill="#ff0000" stroke="#ff0000" stroke-width="0.9" stroke-linejoin="round" opacity="0.3"/>
<path d="M492.13,34.68 L503.26,36.16 L518.09,39.87 L532.93,42.84 L543.31,45.06 L548.51,46.55 L581,46.55 L580.93,46.8 L585.52,46.8 L585.52,47.56 L637.78,47.56 L637.78,73.08 L619.9,73.08 L619.9,72.32 L585.52,73.08 L585.52,58.56 L580.93,59.02 L581,58.42 L548.51,58.42 L543.31,54.71 L532.93,50.26 L518.09,45.06 L503.26,38.39 L492.13,34.68 Z" fill="#0000ff" stroke="#0000ff" stroke-width="0.9" stroke-linejoin="round" opacity="0.3"/>
<path d="M492.13,34.68 L503.26,39.87 M503.26,39.87 L513.64,44.32 M513.64,44.32 L525.51,49.51 M525.51,49.51 L532.93,54.71 M532.93,54.71 L540.35,56.19 M540.35,56.19 L547.77,57.67 M547.77,57.67 L558.15,60.64 M558.15,60.64 L570.02,63.31 M570.02,63.31 L581,65.09 M580.93,65.14 L586.28,66.2 M586.28,66.2 L595.45,66.97 M595.45,66.97 L607.68,67.43 M607.68,67.43 L619.9,68.04 M619.9,68.04 L620.67,69.57" fill="none" stroke="#ff0000" stroke-width="1.9" stroke-linecap="round"/>
<path d="M581,65.09 L580.93,65.14 M620.67,69.57 L653.52,69.57 M653.52,69.57 L653.52,77.36 M653.52,77.36 L670.03,77.36" fill="none" stroke="#ff0000" stroke-width="1.15" stroke-linecap="round"/>
<path d="M625.91,68.17 V70.37 M629.58,68.17 V70.37 M634.11,68.17 V70.37 M637.86,68.17 V70.37 M644.39,68.17 V70.37 M648.32,68.17 V70.37 M656.2,75.96 V78.16 M663.34,75.96 V78.16 M667.57,75.96 V78.16" fill="none" stroke="#ff0000" stroke-width="0.9"/>
<path d="M492.13,34.68 L497.32,35.42 M497.32,35.42 L503.26,36.9 M503.26,36.9 L510.67,39.87 M510.67,39.87 L518.09,42.09 M518.09,42.09 L525.51,43.58 M525.51,43.58 L532.93,46.55 M532.93,46.55 L538.86,47.29 M538.86,47.29 L543.31,50.26 M543.31,50.26 L548.51,52.48 M584.45,52.15 L585.52,61.93" fill="none" stroke="#0000ff" stroke-width="1.9" stroke-linecap="round"/>
<path d="M548.51,52.48 L581,52.48 M581,52.48 L580.93,52.15 M580.93,52.15 L584.45,52.15 M585.52,61.93 L637.78,61.93" fill="none" stroke="#0000ff" stroke-width="1.15" stroke-linecap="round"/>
<path d="M557.45,51.08 V53.28 M561.68,51.08 V53.28 M567.79,51.08 V53.28 M571.5,51.08 V53.28 M575.72,51.08 V53.28 M579.35,51.08 V53.28 M583,50.75 V52.95 M591.31,60.53 V62.73 M594.89,60.53 V62.73 M603.07,60.53 V62.73 M606.83,60.53 V62.73 M610.2,60.53 V62.73 M614.03,60.53 V62.73 M620.99,60.53 V62.73 M624.74,60.53 V62.73 M628.58,60.53 V62.73 M632.92,60.53 V62.73" fill="none" stroke="#0000ff" stroke-width="0.9"/>
<text x="463.5" y="14.1" font-family='"Liberation Serif", serif' font-weight="bold" font-size="17.3" fill="#000">C</text>
<g transform="translate(0.03,150.75)">
<g font-family='"Liberation Sans", sans-serif' font-size="3.9" fill="#2a2a2a" stroke="#2a2a2a" stroke-width="0.12">
<text x="95.82" y="22.7">FTO</text>
<rect x="105.55" y="18.3" width="6.5" height="6" fill="#ffb3b3"/>
<line x1="106.05" y1="21.3" x2="111.55" y2="21.3" stroke="#ff0000" stroke-width="0.9"/>
<line x1="108.8" y1="20.1" x2="108.8" y2="21.9" stroke="#ff0000" stroke-width="0.7"/>
<text x="114.05" y="22.7">high</text>
<rect x="123.42" y="18.3" width="6.5" height="6" fill="#b3b3ff"/>
<line x1="123.92" y1="21.3" x2="129.42" y2="21.3" stroke="#0000ff" stroke-width="0.9"/>
<line x1="126.67" y1="20.1" x2="126.67" y2="21.9" stroke="#0000ff" stroke-width="0.7"/>
<text x="131.92" y="22.7">low</text>
</g>
<g stroke="#4d4d4d" stroke-width="0.75" fill="none">
<path d="M22.2,32 V103.6 H211.4"/>
<path d="M20.7,100.2 H22.2"/>
<path d="M20.7,83.9 H22.2"/>
<path d="M20.7,67.6 H22.2"/>
<path d="M20.7,51.3 H22.2"/>
<path d="M20.7,35 H22.2"/>
<path d="M30.53,103.6 V105.1"/>
<path d="M41.28,103.6 V105.1"/>
<path d="M52.03,103.6 V105.1"/>
<path d="M62.78,103.6 V105.1"/>
<path d="M73.53,103.6 V105.1"/>
<path d="M84.28,103.6 V105.1"/>
<path d="M95.03,103.6 V105.1"/>
<path d="M105.78,103.6 V105.1"/>
<path d="M116.53,103.6 V105.1"/>
<path d="M127.28,103.6 V105.1"/>
<path d="M138.03,103.6 V105.1"/>
<path d="M148.78,103.6 V105.1"/>
<path d="M159.53,103.6 V105.1"/>
<path d="M170.28,103.6 V105.1"/>
<path d="M181.03,103.6 V105.1"/>
<path d="M191.78,103.6 V105.1"/>
<path d="M202.53,103.6 V105.1"/>
<path d="M22.2,129 V138.6 H211.4"/>
<path d="M30.53,138.6 V140.1"/>
<path d="M41.28,138.6 V140.1"/>
<path d="M52.03,138.6 V140.1"/>
<path d="M62.78,138.6 V140.1"/>
<path d="M73.53,138.6 V140.1"/>
<path d="M84.28,138.6 V140.1"/>
<path d="M95.03,138.6 V140.1"/>
<path d="M105.78,138.6 V140.1"/>
<path d="M116.53,138.6 V140.1"/>
<path d="M127.28,138.6 V140.1"/>
<path d="M138.03,138.6 V140.1"/>
<path d="M148.78,138.6 V140.1"/>
<path d="M159.53,138.6 V140.1"/>
<path d="M170.28,138.6 V140.1"/>
<path d="M181.03,138.6 V140.1"/>
<path d="M191.78,138.6 V140.1"/>
<path d="M202.53,138.6 V140.1"/>
<path d="M21,131.6 H22.2 M21,135.8 H22.2"/>
</g>
<g font-family='"Liberation Sans", sans-serif' font-size="4.8" fill="#2a2a2a" stroke="#2a2a2a" stroke-width="0.18">
<text x="19.7" y="101.85" text-anchor="end" textLength="8" lengthAdjust="spacingAndGlyphs">0.00</text>
<text x="19.7" y="85.55" text-anchor="end" textLength="8" lengthAdjust="spacingAndGlyphs">0.25</text>
<text x="19.7" y="69.25" text-anchor="end" textLength="8" lengthAdjust="spacingAndGlyphs">0.50</text>
<text x="19.7" y="52.95" text-anchor="end" textLength="8" lengthAdjust="spacingAndGlyphs">0.75</text>
<text x="19.7" y="36.65" text-anchor="end" textLength="8" lengthAdjust="spacingAndGlyphs">1.00</text>
<text x="30.53" y="109.6" text-anchor="middle" textLength="2.4" lengthAdjust="spacingAndGlyphs">0</text>
<text x="30.53" y="144.05" text-anchor="middle" textLength="2.4" lengthAdjust="spacingAndGlyphs">0</text>
<text x="41.28" y="109.6" text-anchor="middle" textLength="2.4" lengthAdjust="spacingAndGlyphs">1</text>
<text x="41.28" y="144.05" text-anchor="middle" textLength="2.4" lengthAdjust="spacingAndGlyphs">1</text>
<text x="52.03" y="109.6" text-anchor="middle" textLength="2.4" lengthAdjust="spacingAndGlyphs">2</text>
<text x="52.03" y="144.05" text-anchor="middle" textLength="2.4" lengthAdjust="spacingAndGlyphs">2</text>
<text x="62.78" y="109.6" text-anchor="middle" textLength="2.4" lengthAdjust="spacingAndGlyphs">3</text>
<text x="62.78" y="144.05" text-anchor="middle" textLength="2.4" lengthAdjust="spacingAndGlyphs">3</text>
<text x="73.53" y="109.6" text-anchor="middle" textLength="2.4" lengthAdjust="spacingAndGlyphs">4</text>
<text x="73.53" y="144.05" text-anchor="middle" textLength="2.4" lengthAdjust="spacingAndGlyphs">4</text>
<text x="84.28" y="109.6" text-anchor="middle" textLength="2.4" lengthAdjust="spacingAndGlyphs">5</text>
<text x="84.28" y="144.05" text-anchor="middle" textLength="2.4" lengthAdjust="spacingAndGlyphs">5</text>
<text x="95.03" y="109.6" text-anchor="middle" textLength="2.4" lengthAdjust="spacingAndGlyphs">6</text>
<text x="95.03" y="144.05" text-anchor="middle" textLength="2.4" lengthAdjust="spacingAndGlyphs">6</text>
<text x="105.78" y="109.6" text-anchor="middle" textLength="2.4" lengthAdjust="spacingAndGlyphs">7</text>
<text x="105.78" y="144.05" text-anchor="middle" textLength="2.4" lengthAdjust="spacingAndGlyphs">7</text>
<text x="116.53" y="109.6" text-anchor="middle" textLength="2.4" lengthAdjust="spacingAndGlyphs">8</text>
<text x="116.53" y="144.05" text-anchor="middle" textLength="2.4" lengthAdjust="spacingAndGlyphs">8</text>
<text x="127.28" y="109.6" text-anchor="middle" textLength="2.4" lengthAdjust="spacingAndGlyphs">9</text>
<text x="127.28" y="144.05" text-anchor="middle" textLength="2.4" lengthAdjust="spacingAndGlyphs">9</text>
<text x="138.03" y="109.6" text-anchor="middle" textLength="4.8" lengthAdjust="spacingAndGlyphs">10</text>
<text x="138.03" y="144.05" text-anchor="middle" textLength="4.8" lengthAdjust="spacingAndGlyphs">10</text>
<text x="148.78" y="109.6" text-anchor="middle" textLength="4.48" lengthAdjust="spacingAndGlyphs">11</text>
<text x="148.78" y="144.05" text-anchor="middle" textLength="4.48" lengthAdjust="spacingAndGlyphs">11</text>
<text x="159.53" y="109.6" text-anchor="middle" textLength="4.8" lengthAdjust="spacingAndGlyphs">12</text>
<text x="159.53" y="144.05" text-anchor="middle" textLength="4.8" lengthAdjust="spacingAndGlyphs">12</text>
<text x="170.28" y="109.6" text-anchor="middle" textLength="4.8" lengthAdjust="spacingAndGlyphs">13</text>
<text x="170.28" y="144.05" text-anchor="middle" textLength="4.8" lengthAdjust="spacingAndGlyphs">13</text>
<text x="181.03" y="109.6" text-anchor="middle" textLength="4.8" lengthAdjust="spacingAndGlyphs">14</text>
<text x="181.03" y="144.05" text-anchor="middle" textLength="4.8" lengthAdjust="spacingAndGlyphs">14</text>
<text x="191.78" y="109.6" text-anchor="middle" textLength="4.8" lengthAdjust="spacingAndGlyphs">15</text>
<text x="191.78" y="144.05" text-anchor="middle" textLength="4.8" lengthAdjust="spacingAndGlyphs">15</text>
<text x="202.53" y="109.6" text-anchor="middle" textLength="4.8" lengthAdjust="spacingAndGlyphs">16</text>
<text x="202.53" y="144.05" text-anchor="middle" textLength="4.8" lengthAdjust="spacingAndGlyphs">16</text>
</g>
<g font-family='"Liberation Sans", sans-serif' font-size="5.6" fill="#2a2a2a" stroke="#2a2a2a" stroke-width="0.14" text-anchor="middle">
<text x="116.8" y="115.25">Time(years)</text>
<text x="116.8" y="149.75">Time(years)</text>
<text transform="translate(8.6,67.5) rotate(-90)" font-size="5.6">Overall survival</text>
<text transform="translate(8.7,134.1) rotate(-90)" font-size="5.6">FTO</text>
</g>
<g font-family='"Liberation Sans", sans-serif' font-size="4.7" text-anchor="end" stroke-width="0.12">
<text x="19.9" y="133" fill="#ff0000" stroke="#ff0000">high</text>
<text x="19.9" y="137" fill="#0000ff" stroke="#0000ff">low</text>
</g>
<g font-family='"Liberation Sans", sans-serif' font-size="5" fill="#222" stroke="#222" stroke-width="0.15" text-anchor="middle">
<text x="30.53" y="133.4" textLength="7.76" lengthAdjust="spacingAndGlyphs">145</text>
<text x="41.28" y="133.4" textLength="7.76" lengthAdjust="spacingAndGlyphs">120</text>
<text x="52.03" y="133.4" textLength="5.17" lengthAdjust="spacingAndGlyphs">90</text>
<text x="62.78" y="133.4" textLength="5.17" lengthAdjust="spacingAndGlyphs">61</text>
<text x="73.53" y="133.4" textLength="5.17" lengthAdjust="spacingAndGlyphs">46</text>
<text x="84.28" y="133.4" textLength="5.17" lengthAdjust="spacingAndGlyphs">38</text>
<text x="95.03" y="133.4" textLength="5.17" lengthAdjust="spacingAndGlyphs">31</text>
<text x="105.78" y="133.4" textLength="5.17" lengthAdjust="spacingAndGlyphs">20</text>
<text x="116.53" y="133.4" textLength="5.17" lengthAdjust="spacingAndGlyphs">14</text>
<text x="127.28" y="133.4" textLength="5.17" lengthAdjust="spacingAndGlyphs">10</text>
<text x="138.03" y="133.4" textLength="2.59" lengthAdjust="spacingAndGlyphs">6</text>
<text x="148.78" y="133.4" textLength="2.59" lengthAdjust="spacingAndGlyphs">4</text>
<text x="159.53" y="133.4" textLength="2.59" lengthAdjust="spacingAndGlyphs">1</text>
<text x="170.28" y="133.4" textLength="2.59" lengthAdjust="spacingAndGlyphs">0</text>
<text x="181.03" y="133.4" textLength="2.59" lengthAdjust="spacingAndGlyphs">0</text>
<text x="191.78" y="133.4" textLength="2.59" lengthAdjust="spacingAndGlyphs">0</text>
<text x="202.53" y="133.4" textLength="2.59" lengthAdjust="spacingAndGlyphs">0</text>
<text x="30.53" y="137.7" textLength="7.76" lengthAdjust="spacingAndGlyphs">813</text>
<text x="41.28" y="137.7" textLength="7.76" lengthAdjust="spacingAndGlyphs">698</text>
<text x="52.03" y="137.7" textLength="7.76" lengthAdjust="spacingAndGlyphs">543</text>
<text x="62.78" y="137.7" textLength="7.76" lengthAdjust="spacingAndGlyphs">410</text>
<text x="73.53" y="137.7" textLength="7.76" lengthAdjust="spacingAndGlyphs">314</text>
<text x="84.28" y="137.7" textLength="7.76" lengthAdjust="spacingAndGlyphs">241</text>
<text x="95.03" y="137.7" textLength="7.76" lengthAdjust="spacingAndGlyphs">184</text>
<text x="105.78" y="137.7" textLength="7.41" lengthAdjust="spacingAndGlyphs">119</text>
<text x="116.53" y="137.7" textLength="5.17" lengthAdjust="spacingAndGlyphs">72</text>
<text x="127.28" y="137.7" textLength="5.17" lengthAdjust="spacingAndGlyphs">54</text>
<text x="138.03" y="137.7" textLength="5.17" lengthAdjust="spacingAndGlyphs">40</text>
<text x="148.78" y="137.7" textLength="5.17" lengthAdjust="spacingAndGlyphs">28</text>
<text x="159.53" y="137.7" textLength="5.17" lengthAdjust="spacingAndGlyphs">16</text>
<text x="170.28" y="137.7" textLength="5.17" lengthAdjust="spacingAndGlyphs">10</text>
<text x="181.03" y="137.7" textLength="2.59" lengthAdjust="spacingAndGlyphs">6</text>
<text x="191.78" y="137.7" textLength="2.59" lengthAdjust="spacingAndGlyphs">4</text>
<text x="202.53" y="137.7" textLength="2.59" lengthAdjust="spacingAndGlyphs">1</text>
</g>
<text x="34.1" y="90.2" font-family='"Liberation Sans", sans-serif' font-size="6.5" fill="#222" stroke="#222" stroke-width="0.15">p=0.009</text>
</g>
<path d="M30.39,185.12 L49.67,194.32 L57.09,197.29 L71.93,204.71 L86.77,208.42 L100.86,211.83 L120,213.61 L119.97,211.49 L124.8,212.27 L159.85,212.58 L159.85,236.42 L147.39,236.42 L147.39,230.97 L124.8,230.97 L124.8,223.96 L119.97,225.51 L120,224.29 L100.86,224.29 L86.77,222.51 L79.35,220.28 L64.51,215.09 L57.09,209.16 L49.67,198.03 L30.39,185.12 Z" fill="#ff0000" stroke="#ff0000" stroke-width="0.9" stroke-linejoin="round" opacity="0.3"/>
<path d="M159.7,200.59 L159.7,248.1" fill="none" stroke="#ff0000" stroke-width="0.4" stroke-linejoin="round" stroke-linecap="round"/>
<path d="M30.39,185.12 L57.09,195.06 L73.41,200.26 L101.6,206.93 L120,209.16 L119.97,209.94 L124.02,211.49 L192.57,211.49 L192.57,204.17 L208.15,204.17 L208.15,235.95 L192.57,235.95 L192.57,219.28 L124.02,219.28 L119.97,218.5 L120,216.28 L101.6,211.38 L73.41,204.71 L57.09,198.03 L30.39,185.12 Z" fill="#0000ff" stroke="#0000ff" stroke-width="0.9" stroke-linejoin="round" opacity="0.3"/>
<path d="M30.39,185.12 L37.8,189.13 M37.8,189.13 L49.67,195.06 M49.67,195.06 L56.35,198.77 M56.35,198.77 L60.06,204.71 M60.06,204.71 L64.51,208.42 M64.51,208.42 L71.93,209.9 M71.93,209.9 L76.38,212.42 M76.38,212.42 L79.35,214.35 M89.73,214.35 L92.7,216.28 M92.7,216.28 L100.86,217.76 M119.97,217.26 L124.02,217.73 M124.02,217.73 L124.8,223.18 M146.61,223.18 L147.39,227.54 M159.07,227.54 L159.54,238.76" fill="none" stroke="#ff0000" stroke-width="1.9" stroke-linecap="round"/>
<path d="M79.35,214.35 L89.73,214.35 M100.86,217.76 L120,217.76 M120,217.76 L119.97,217.26 M124.8,223.18 L146.61,223.18 M147.39,227.54 L159.07,227.54" fill="none" stroke="#ff0000" stroke-width="1.15" stroke-linecap="round"/>
<path d="M81.97,212.95 V215.15 M87.62,212.95 V215.15 M110.17,216.36 V218.56 M114.61,216.36 V218.56 M118.72,216.36 V218.56 M133.72,221.78 V223.98 M137.55,221.78 V223.98 M141.71,221.78 V223.98 M145.54,221.78 V223.98 M148.86,226.14 V228.34 M153.63,226.14 V228.34" fill="none" stroke="#ff0000" stroke-width="0.9"/>
<path d="M30.39,185.12 L42.26,190.61 M42.26,190.61 L57.09,196.55 M57.09,196.55 L73.41,202.48 M73.41,202.48 L86.77,205.45 M86.77,205.45 L101.6,209.16 M101.6,209.16 L120,212.87 M119.97,212.27 L124.02,214.61 M124.02,214.61 L192.57,215.39" fill="none" stroke="#0000ff" stroke-width="1.9" stroke-linecap="round"/>
<path d="M120,212.87 L119.97,212.27 M192.57,215.39 L192.57,224.27 M192.57,224.27 L208.46,224.27" fill="none" stroke="#0000ff" stroke-width="1.15" stroke-linecap="round"/>
<path d="M195.34,222.87 V225.07 M197.93,222.87 V225.07 M202.77,222.87 V225.07 M206.76,222.87 V225.07" fill="none" stroke="#0000ff" stroke-width="0.9"/>
<text x="2.3" y="171" font-family='"Liberation Serif", serif' font-weight="bold" font-size="17.3" fill="#000">D</text>
<g transform="translate(233.4,150.85)">
<g font-family='"Liberation Sans", sans-serif' font-size="3.9" fill="#2a2a2a" stroke="#2a2a2a" stroke-width="0.12">
<text x="91.35" y="22.7">HNRNPC</text>
<rect x="110.03" y="18.3" width="6.5" height="6" fill="#ffb3b3"/>
<line x1="110.53" y1="21.3" x2="116.03" y2="21.3" stroke="#ff0000" stroke-width="0.9"/>
<line x1="113.28" y1="20.1" x2="113.28" y2="21.9" stroke="#ff0000" stroke-width="0.7"/>
<text x="118.53" y="22.7">high</text>
<rect x="127.9" y="18.3" width="6.5" height="6" fill="#b3b3ff"/>
<line x1="128.4" y1="21.3" x2="133.9" y2="21.3" stroke="#0000ff" stroke-width="0.9"/>
<line x1="131.15" y1="20.1" x2="131.15" y2="21.9" stroke="#0000ff" stroke-width="0.7"/>
<text x="136.4" y="22.7">low</text>
</g>
<g stroke="#4d4d4d" stroke-width="0.75" fill="none">
<path d="M22.2,32 V103.6 H211.4"/>
<path d="M20.7,100.2 H22.2"/>
<path d="M20.7,83.9 H22.2"/>
<path d="M20.7,67.6 H22.2"/>
<path d="M20.7,51.3 H22.2"/>
<path d="M20.7,35 H22.2"/>
<path d="M31.1,103.6 V105.1"/>
<path d="M41.85,103.6 V105.1"/>
<path d="M52.6,103.6 V105.1"/>
<path d="M63.34,103.6 V105.1"/>
<path d="M74.09,103.6 V105.1"/>
<path d="M84.84,103.6 V105.1"/>
<path d="M95.59,103.6 V105.1"/>
<path d="M106.34,103.6 V105.1"/>
<path d="M117.08,103.6 V105.1"/>
<path d="M127.83,103.6 V105.1"/>
<path d="M138.58,103.6 V105.1"/>
<path d="M149.33,103.6 V105.1"/>
<path d="M160.08,103.6 V105.1"/>
<path d="M170.82,103.6 V105.1"/>
<path d="M181.57,103.6 V105.1"/>
<path d="M192.32,103.6 V105.1"/>
<path d="M203.07,103.6 V105.1"/>
<path d="M22.2,129 V138.6 H211.4"/>
<path d="M31.1,138.6 V140.1"/>
<path d="M41.85,138.6 V140.1"/>
<path d="M52.6,138.6 V140.1"/>
<path d="M63.34,138.6 V140.1"/>
<path d="M74.09,138.6 V140.1"/>
<path d="M84.84,138.6 V140.1"/>
<path d="M95.59,138.6 V140.1"/>
<path d="M106.34,138.6 V140.1"/>
<path d="M117.08,138.6 V140.1"/>
<path d="M127.83,138.6 V140.1"/>
<path d="M138.58,138.6 V140.1"/>
<path d="M149.33,138.6 V140.1"/>
<path d="M160.08,138.6 V140.1"/>
<path d="M170.82,138.6 V140.1"/>
<path d="M181.57,138.6 V140.1"/>
<path d="M192.32,138.6 V140.1"/>
<path d="M203.07,138.6 V140.1"/>
<path d="M21,131.6 H22.2 M21,135.8 H22.2"/>
</g>
<g font-family='"Liberation Sans", sans-serif' font-size="4.8" fill="#2a2a2a" stroke="#2a2a2a" stroke-width="0.18">
<text x="19.7" y="101.85" text-anchor="end" textLength="8" lengthAdjust="spacingAndGlyphs">0.00</text>
<text x="19.7" y="85.55" text-anchor="end" textLength="8" lengthAdjust="spacingAndGlyphs">0.25</text>
<text x="19.7" y="69.25" text-anchor="end" textLength="8" lengthAdjust="spacingAndGlyphs">0.50</text>
<text x="19.7" y="52.95" text-anchor="end" textLength="8" lengthAdjust="spacingAndGlyphs">0.75</text>
<text x="19.7" y="36.65" text-anchor="end" textLength="8" lengthAdjust="spacingAndGlyphs">1.00</text>
<text x="31.1" y="109.6" text-anchor="middle" textLength="2.4" lengthAdjust="spacingAndGlyphs">0</text>
<text x="31.1" y="144.05" text-anchor="middle" textLength="2.4" lengthAdjust="spacingAndGlyphs">0</text>
<text x="41.85" y="109.6" text-anchor="middle" textLength="2.4" lengthAdjust="spacingAndGlyphs">1</text>
<text x="41.85" y="144.05" text-anchor="middle" textLength="2.4" lengthAdjust="spacingAndGlyphs">1</text>
<text x="52.6" y="109.6" text-anchor="middle" textLength="2.4" lengthAdjust="spacingAndGlyphs">2</text>
<text x="52.6" y="144.05" text-anchor="middle" textLength="2.4" lengthAdjust="spacingAndGlyphs">2</text>
<text x="63.34" y="109.6" text-anchor="middle" textLength="2.4" lengthAdjust="spacingAndGlyphs">3</text>
<text x="63.34" y="144.05" text-anchor="middle" textLength="2.4" lengthAdjust="spacingAndGlyphs">3</text>
<text x="74.09" y="109.6" text-anchor="middle" textLength="2.4" lengthAdjust="spacingAndGlyphs">4</text>
<text x="74.09" y="144.05" text-anchor="middle" textLength="2.4" lengthAdjust="spacingAndGlyphs">4</text>
<text x="84.84" y="109.6" text-anchor="middle" textLength="2.4" lengthAdjust="spacingAndGlyphs">5</text>
<text x="84.84" y="144.05" text-anchor="middle" textLength="2.4" lengthAdjust="spacingAndGlyphs">5</text>
<text x="95.59" y="109.6" text-anchor="middle" textLength="2.4" lengthAdjust="spacingAndGlyphs">6</text>
<text x="95.59" y="144.05" text-anchor="middle" textLength="2.4" lengthAdjust="spacingAndGlyphs">6</text>
<text x="106.34" y="109.6" text-anchor="middle" textLength="2.4" lengthAdjust="spacingAndGlyphs">7</text>
<text x="106.34" y="144.05" text-anchor="middle" textLength="2.4" lengthAdjust="spacingAndGlyphs">7</text>
<text x="117.08" y="109.6" text-anchor="middle" textLength="2.4" lengthAdjust="spacingAndGlyphs">8</text>
<text x="117.08" y="144.05" text-anchor="middle" textLength="2.4" lengthAdjust="spacingAndGlyphs">8</text>
<text x="127.83" y="109.6" text-anchor="middle" textLength="2.4" lengthAdjust="spacingAndGlyphs">9</text>
<text x="127.83" y="144.05" text-anchor="middle" textLength="2.4" lengthAdjust="spacingAndGlyphs">9</text>
<text x="138.58" y="109.6" text-anchor="middle" textLength="4.8" lengthAdjust="spacingAndGlyphs">10</text>
<text x="138.58" y="144.05" text-anchor="middle" textLength="4.8" lengthAdjust="spacingAndGlyphs">10</text>
<text x="149.33" y="109.6" text-anchor="middle" textLength="4.48" lengthAdjust="spacingAndGlyphs">11</text>
<text x="149.33" y="144.05" text-anchor="middle" textLength="4.48" lengthAdjust="spacingAndGlyphs">11</text>
<text x="160.08" y="109.6" text-anchor="middle" textLength="4.8" lengthAdjust="spacingAndGlyphs">12</text>
<text x="160.08" y="144.05" text-anchor="middle" textLength="4.8" lengthAdjust="spacingAndGlyphs">12</text>
<text x="170.82" y="109.6" text-anchor="middle" textLength="4.8" lengthAdjust="spacingAndGlyphs">13</text>
<text x="170.82" y="144.05" text-anchor="middle" textLength="4.8" lengthAdjust="spacingAndGlyphs">13</text>
<text x="181.57" y="109.6" text-anchor="middle" textLength="4.8" lengthAdjust="spacingAndGlyphs">14</text>
<text x="181.57" y="144.05" text-anchor="middle" textLength="4.8" lengthAdjust="spacingAndGlyphs">14</text>
<text x="192.32" y="109.6" text-anchor="middle" textLength="4.8" lengthAdjust="spacingAndGlyphs">15</text>
<text x="192.32" y="144.05" text-anchor="middle" textLength="4.8" lengthAdjust="spacingAndGlyphs">15</text>
<text x="203.07" y="109.6" text-anchor="middle" textLength="4.8" lengthAdjust="spacingAndGlyphs">16</text>
<text x="203.07" y="144.05" text-anchor="middle" textLength="4.8" lengthAdjust="spacingAndGlyphs">16</text>
</g>
<g font-family='"Liberation Sans", sans-serif' font-size="5.6" fill="#2a2a2a" stroke="#2a2a2a" stroke-width="0.14" text-anchor="middle">
<text x="116.8" y="115.25">Time(years)</text>
<text x="116.8" y="149.75">Time(years)</text>
<text transform="translate(8.6,67.5) rotate(-90)" font-size="5.6">Overall survival</text>
<text transform="translate(8.7,134.1) rotate(-90)" font-size="5.6">HNRNPC</text>
</g>
<g font-family='"Liberation Sans", sans-serif' font-size="4.7" text-anchor="end" stroke-width="0.12">
<text x="19.9" y="133" fill="#ff0000" stroke="#ff0000">high</text>
<text x="19.9" y="137" fill="#0000ff" stroke="#0000ff">low</text>
</g>
<g font-family='"Liberation Sans", sans-serif' font-size="5" fill="#222" stroke="#222" stroke-width="0.15" text-anchor="middle">
<text x="31.1" y="133.4" textLength="7.76" lengthAdjust="spacingAndGlyphs">101</text>
<text x="41.85" y="133.4" textLength="5.17" lengthAdjust="spacingAndGlyphs">79</text>
<text x="52.6" y="133.4" textLength="5.17" lengthAdjust="spacingAndGlyphs">62</text>
<text x="63.34" y="133.4" textLength="5.17" lengthAdjust="spacingAndGlyphs">48</text>
<text x="74.09" y="133.4" textLength="5.17" lengthAdjust="spacingAndGlyphs">35</text>
<text x="84.84" y="133.4" textLength="5.17" lengthAdjust="spacingAndGlyphs">24</text>
<text x="95.59" y="133.4" textLength="5.17" lengthAdjust="spacingAndGlyphs">16</text>
<text x="106.34" y="133.4" textLength="5.17" lengthAdjust="spacingAndGlyphs">10</text>
<text x="117.08" y="133.4" textLength="2.59" lengthAdjust="spacingAndGlyphs">4</text>
<text x="127.83" y="133.4" textLength="2.59" lengthAdjust="spacingAndGlyphs">3</text>
<text x="138.58" y="133.4" textLength="2.59" lengthAdjust="spacingAndGlyphs">2</text>
<text x="149.33" y="133.4" textLength="2.59" lengthAdjust="spacingAndGlyphs">2</text>
<text x="160.08" y="133.4" textLength="2.59" lengthAdjust="spacingAndGlyphs">1</text>
<text x="170.82" y="133.4" textLength="2.59" lengthAdjust="spacingAndGlyphs">1</text>
<text x="181.57" y="133.4" textLength="2.59" lengthAdjust="spacingAndGlyphs">0</text>
<text x="192.32" y="133.4" textLength="2.59" lengthAdjust="spacingAndGlyphs">0</text>
<text x="203.07" y="133.4" textLength="2.59" lengthAdjust="spacingAndGlyphs">0</text>
<text x="31.1" y="137.7" textLength="7.76" lengthAdjust="spacingAndGlyphs">857</text>
<text x="41.85" y="137.7" textLength="7.76" lengthAdjust="spacingAndGlyphs">736</text>
<text x="52.6" y="137.7" textLength="7.76" lengthAdjust="spacingAndGlyphs">571</text>
<text x="63.34" y="137.7" textLength="7.76" lengthAdjust="spacingAndGlyphs">422</text>
<text x="74.09" y="137.7" textLength="7.76" lengthAdjust="spacingAndGlyphs">325</text>
<text x="84.84" y="137.7" textLength="7.76" lengthAdjust="spacingAndGlyphs">255</text>
<text x="95.59" y="137.7" textLength="7.76" lengthAdjust="spacingAndGlyphs">199</text>
<text x="106.34" y="137.7" textLength="7.76" lengthAdjust="spacingAndGlyphs">129</text>
<text x="117.08" y="137.7" textLength="5.17" lengthAdjust="spacingAndGlyphs">82</text>
<text x="127.83" y="137.7" textLength="5.17" lengthAdjust="spacingAndGlyphs">61</text>
<text x="138.58" y="137.7" textLength="5.17" lengthAdjust="spacingAndGlyphs">47</text>
<text x="149.33" y="137.7" textLength="5.17" lengthAdjust="spacingAndGlyphs">32</text>
<text x="160.08" y="137.7" textLength="5.17" lengthAdjust="spacingAndGlyphs">16</text>
<text x="170.82" y="137.7" textLength="2.59" lengthAdjust="spacingAndGlyphs">9</text>
<text x="181.57" y="137.7" textLength="2.59" lengthAdjust="spacingAndGlyphs">6</text>
<text x="192.32" y="137.7" textLength="2.59" lengthAdjust="spacingAndGlyphs">4</text>
<text x="203.07" y="137.7" textLength="2.59" lengthAdjust="spacingAndGlyphs">1</text>
</g>
<text x="34.1" y="90.2" font-family='"Liberation Sans", sans-serif' font-size="6.5" fill="#222" stroke="#222" stroke-width="0.15">p=0.027</text>
</g>
<path d="M264.13,185.12 L275.26,191.35 L290.09,197.29 L304.93,200.26 L319.77,203.96 L334.6,206.93 L353,209.9 L352.97,210.72 L358.58,212.27 L409.99,212.27 L409.99,233.3 L352.97,233.3 L353,232.9 L340.54,232.9 L338.31,225.48 L330.15,223.99 L321.25,221.03 L315.31,216.58 L304.93,212.12 L290.09,206.93 L279.71,203.96 L272.29,194.32 L264.13,185.12 Z" fill="#ff0000" stroke="#ff0000" stroke-width="0.9" stroke-linejoin="round" opacity="0.3"/>
<path d="M264.13,185.12 L290.09,194.32 L304.93,200.26 L334.6,207.38 L353,209.16 L352.97,209.94 L358.58,211.49 L392.85,213.05 L425.57,213.05 L425.57,207.6 L441.92,207.6 L441.92,237.67 L425.57,237.67 L425.57,223.96 L392.85,223.96 L358.58,219.28 L352.97,217.73 L353,215.09 L334.6,211.38 L304.93,203.52 L290.09,196.55 L264.13,185.12 Z" fill="#0000ff" stroke="#0000ff" stroke-width="0.9" stroke-linejoin="round" opacity="0.3"/>
<path d="M264.13,185.12 L272.29,190.61 M272.29,190.61 L275.26,195.06 M275.26,195.06 L279.71,198.77 M279.71,198.77 L290.09,201.74 M290.09,201.74 L300.48,203.96 M300.48,203.96 L304.93,206.19 M304.93,206.19 L315.31,209.16 M315.31,209.16 L321.25,213.61 M321.25,213.61 L330.15,214.35 M330.15,214.35 L336.09,216.58 M336.09,216.58 L338.31,219.54 M338.31,219.54 L340.54,224.74" fill="none" stroke="#ff0000" stroke-width="1.9" stroke-linecap="round"/>
<path d="M340.54,224.74 L353,224.74 M353,224.74 L352.97,224.42 M352.97,224.42 L409.99,224.42" fill="none" stroke="#ff0000" stroke-width="1.15" stroke-linecap="round"/>
<path d="M343.4,223.34 V225.54 M350.34,223.34 V225.54 M354.3,223.02 V225.22 M362.14,223.02 V225.22 M366.14,223.02 V225.22 M372.34,223.02 V225.22 M376.77,223.02 V225.22 M380,223.02 V225.22 M383.77,223.02 V225.22 M390.38,223.02 V225.22 M394.22,223.02 V225.22 M398.04,223.02 V225.22 M404.24,223.02 V225.22 M408.24,223.02 V225.22" fill="none" stroke="#ff0000" stroke-width="0.9"/>
<path d="M264.13,185.12 L275.26,189.87 M275.26,189.87 L290.09,195.06 M290.09,195.06 L304.93,201.74 M304.93,201.74 L319.77,206.19 M319.77,206.19 L334.6,209.16 M334.6,209.16 L353,211.83 M352.97,211.49 L358.58,214.61 M358.58,214.61 L363.25,215.39 M380.39,215.39 L381.95,216.64 M391.29,216.64 L392.85,218.82" fill="none" stroke="#0000ff" stroke-width="1.9" stroke-linecap="round"/>
<path d="M353,211.83 L352.97,211.49 M363.25,215.39 L380.39,215.39 M381.95,216.64 L391.29,216.64 M392.85,218.82 L425.57,218.82 M425.57,218.82 L425.57,226.61 M425.57,226.61 L441.92,226.61" fill="none" stroke="#0000ff" stroke-width="1.15" stroke-linecap="round"/>
<path d="M365.38,213.99 V216.19 M370.27,213.99 V216.19 M374.66,213.99 V216.19 M384.11,215.24 V217.44 M389.4,215.24 V217.44 M398.27,217.42 V219.62 M401.75,217.42 V219.62 M406.17,217.42 V219.62 M409.91,217.42 V219.62 M416.67,217.42 V219.62 M420.32,217.42 V219.62 M424.06,217.42 V219.62 M431.4,225.21 V227.41 M435.34,225.21 V227.41 M440.3,225.21 V227.41" fill="none" stroke="#0000ff" stroke-width="0.9"/>
<text x="232.7" y="171.4" font-family='"Liberation Serif", serif' font-weight="bold" font-size="17.3" fill="#000">E</text>
<g transform="translate(461.26,150.75)">
<g font-family='"Liberation Sans", sans-serif' font-size="3.9" fill="#2a2a2a" stroke="#2a2a2a" stroke-width="0.12">
<text x="92.21" y="22.7">METTL3</text>
<rect x="109.16" y="18.3" width="6.5" height="6" fill="#ffb3b3"/>
<line x1="109.66" y1="21.3" x2="115.16" y2="21.3" stroke="#ff0000" stroke-width="0.9"/>
<line x1="112.41" y1="20.1" x2="112.41" y2="21.9" stroke="#ff0000" stroke-width="0.7"/>
<text x="117.66" y="22.7">high</text>
<rect x="127.04" y="18.3" width="6.5" height="6" fill="#b3b3ff"/>
<line x1="127.54" y1="21.3" x2="133.04" y2="21.3" stroke="#0000ff" stroke-width="0.9"/>
<line x1="130.29" y1="20.1" x2="130.29" y2="21.9" stroke="#0000ff" stroke-width="0.7"/>
<text x="135.54" y="22.7">low</text>
</g>
<g stroke="#4d4d4d" stroke-width="0.75" fill="none">
<path d="M22.2,32 V103.6 H211.4"/>
<path d="M20.7,100.2 H22.2"/>
<path d="M20.7,83.9 H22.2"/>
<path d="M20.7,67.6 H22.2"/>
<path d="M20.7,51.3 H22.2"/>
<path d="M20.7,35 H22.2"/>
<path d="M30.21,103.6 V105.1"/>
<path d="M40.96,103.6 V105.1"/>
<path d="M51.71,103.6 V105.1"/>
<path d="M62.46,103.6 V105.1"/>
<path d="M73.21,103.6 V105.1"/>
<path d="M83.96,103.6 V105.1"/>
<path d="M94.71,103.6 V105.1"/>
<path d="M105.46,103.6 V105.1"/>
<path d="M116.21,103.6 V105.1"/>
<path d="M126.96,103.6 V105.1"/>
<path d="M137.71,103.6 V105.1"/>
<path d="M148.46,103.6 V105.1"/>
<path d="M159.21,103.6 V105.1"/>
<path d="M169.96,103.6 V105.1"/>
<path d="M180.71,103.6 V105.1"/>
<path d="M191.46,103.6 V105.1"/>
<path d="M202.21,103.6 V105.1"/>
<path d="M22.2,129 V138.6 H211.4"/>
<path d="M30.21,138.6 V140.1"/>
<path d="M40.96,138.6 V140.1"/>
<path d="M51.71,138.6 V140.1"/>
<path d="M62.46,138.6 V140.1"/>
<path d="M73.21,138.6 V140.1"/>
<path d="M83.96,138.6 V140.1"/>
<path d="M94.71,138.6 V140.1"/>
<path d="M105.46,138.6 V140.1"/>
<path d="M116.21,138.6 V140.1"/>
<path d="M126.96,138.6 V140.1"/>
<path d="M137.71,138.6 V140.1"/>
<path d="M148.46,138.6 V140.1"/>
<path d="M159.21,138.6 V140.1"/>
<path d="M169.96,138.6 V140.1"/>
<path d="M180.71,138.6 V140.1"/>
<path d="M191.46,138.6 V140.1"/>
<path d="M202.21,138.6 V140.1"/>
<path d="M21,131.6 H22.2 M21,135.8 H22.2"/>
</g>
<g font-family='"Liberation Sans", sans-serif' font-size="4.8" fill="#2a2a2a" stroke="#2a2a2a" stroke-width="0.18">
<text x="19.7" y="101.85" text-anchor="end" textLength="8" lengthAdjust="spacingAndGlyphs">0.00</text>
<text x="19.7" y="85.55" text-anchor="end" textLength="8" lengthAdjust="spacingAndGlyphs">0.25</text>
<text x="19.7" y="69.25" text-anchor="end" textLength="8" lengthAdjust="spacingAndGlyphs">0.50</text>
<text x="19.7" y="52.95" text-anchor="end" textLength="8" lengthAdjust="spacingAndGlyphs">0.75</text>
<text x="19.7" y="36.65" text-anchor="end" textLength="8" lengthAdjust="spacingAndGlyphs">1.00</text>
<text x="30.21" y="109.6" text-anchor="middle" textLength="2.4" lengthAdjust="spacingAndGlyphs">0</text>
<text x="30.21" y="144.05" text-anchor="middle" textLength="2.4" lengthAdjust="spacingAndGlyphs">0</text>
<text x="40.96" y="109.6" text-anchor="middle" textLength="2.4" lengthAdjust="spacingAndGlyphs">1</text>
<text x="40.96" y="144.05" text-anchor="middle" textLength="2.4" lengthAdjust="spacingAndGlyphs">1</text>
<text x="51.71" y="109.6" text-anchor="middle" textLength="2.4" lengthAdjust="spacingAndGlyphs">2</text>
<text x="51.71" y="144.05" text-anchor="middle" textLength="2.4" lengthAdjust="spacingAndGlyphs">2</text>
<text x="62.46" y="109.6" text-anchor="middle" textLength="2.4" lengthAdjust="spacingAndGlyphs">3</text>
<text x="62.46" y="144.05" text-anchor="middle" textLength="2.4" lengthAdjust="spacingAndGlyphs">3</text>
<text x="73.21" y="109.6" text-anchor="middle" textLength="2.4" lengthAdjust="spacingAndGlyphs">4</text>
<text x="73.21" y="144.05" text-anchor="middle" textLength="2.4" lengthAdjust="spacingAndGlyphs">4</text>
<text x="83.96" y="109.6" text-anchor="middle" textLength="2.4" lengthAdjust="spacingAndGlyphs">5</text>
<text x="83.96" y="144.05" text-anchor="middle" textLength="2.4" lengthAdjust="spacingAndGlyphs">5</text>
<text x="94.71" y="109.6" text-anchor="middle" textLength="2.4" lengthAdjust="spacingAndGlyphs">6</text>
<text x="94.71" y="144.05" text-anchor="middle" textLength="2.4" lengthAdjust="spacingAndGlyphs">6</text>
<text x="105.46" y="109.6" text-anchor="middle" textLength="2.4" lengthAdjust="spacingAndGlyphs">7</text>
<text x="105.46" y="144.05" text-anchor="middle" textLength="2.4" lengthAdjust="spacingAndGlyphs">7</text>
<text x="116.21" y="109.6" text-anchor="middle" textLength="2.4" lengthAdjust="spacingAndGlyphs">8</text>
<text x="116.21" y="144.05" text-anchor="middle" textLength="2.4" lengthAdjust="spacingAndGlyphs">8</text>
<text x="126.96" y="109.6" text-anchor="middle" textLength="2.4" lengthAdjust="spacingAndGlyphs">9</text>
<text x="126.96" y="144.05" text-anchor="middle" textLength="2.4" lengthAdjust="spacingAndGlyphs">9</text>
<text x="137.71" y="109.6" text-anchor="middle" textLength="4.8" lengthAdjust="spacingAndGlyphs">10</text>
<text x="137.71" y="144.05" text-anchor="middle" textLength="4.8" lengthAdjust="spacingAndGlyphs">10</text>
<text x="148.46" y="109.6" text-anchor="middle" textLength="4.48" lengthAdjust="spacingAndGlyphs">11</text>
<text x="148.46" y="144.05" text-anchor="middle" textLength="4.48" lengthAdjust="spacingAndGlyphs">11</text>
<text x="159.21" y="109.6" text-anchor="middle" textLength="4.8" lengthAdjust="spacingAndGlyphs">12</text>
<text x="159.21" y="144.05" text-anchor="middle" textLength="4.8" lengthAdjust="spacingAndGlyphs">12</text>
<text x="169.96" y="109.6" text-anchor="middle" textLength="4.8" lengthAdjust="spacingAndGlyphs">13</text>
<text x="169.96" y="144.05" text-anchor="middle" textLength="4.8" lengthAdjust="spacingAndGlyphs">13</text>
<text x="180.71" y="109.6" text-anchor="middle" textLength="4.8" lengthAdjust="spacingAndGlyphs">14</text>
<text x="180.71" y="144.05" text-anchor="middle" textLength="4.8" lengthAdjust="spacingAndGlyphs">14</text>
<text x="191.46" y="109.6" text-anchor="middle" textLength="4.8" lengthAdjust="spacingAndGlyphs">15</text>
<text x="191.46" y="144.05" text-anchor="middle" textLength="4.8" lengthAdjust="spacingAndGlyphs">15</text>
<text x="202.21" y="109.6" text-anchor="middle" textLength="4.8" lengthAdjust="spacingAndGlyphs">16</text>
<text x="202.21" y="144.05" text-anchor="middle" textLength="4.8" lengthAdjust="spacingAndGlyphs">16</text>
</g>
<g font-family='"Liberation Sans", sans-serif' font-size="5.6" fill="#2a2a2a" stroke="#2a2a2a" stroke-width="0.14" text-anchor="middle">
<text x="116.8" y="115.25">Time(years)</text>
<text x="116.8" y="149.75">Time(years)</text>
<text transform="translate(8.6,67.5) rotate(-90)" font-size="5.6">Overall survival</text>
<text transform="translate(8.7,134.1) rotate(-90)" font-size="5.6">METTL3</text>
</g>
<g font-family='"Liberation Sans", sans-serif' font-size="4.7" text-anchor="end" stroke-width="0.12">
<text x="19.9" y="133" fill="#ff0000" stroke="#ff0000">high</text>
<text x="19.9" y="137" fill="#0000ff" stroke="#0000ff">low</text>
</g>
<g font-family='"Liberation Sans", sans-serif' font-size="5" fill="#222" stroke="#222" stroke-width="0.15" text-anchor="middle">
<text x="30.21" y="133.4" textLength="7.76" lengthAdjust="spacingAndGlyphs">784</text>
<text x="40.96" y="133.4" textLength="7.76" lengthAdjust="spacingAndGlyphs">658</text>
<text x="51.71" y="133.4" textLength="7.76" lengthAdjust="spacingAndGlyphs">508</text>
<text x="62.46" y="133.4" textLength="7.76" lengthAdjust="spacingAndGlyphs">381</text>
<text x="73.21" y="133.4" textLength="7.76" lengthAdjust="spacingAndGlyphs">289</text>
<text x="83.96" y="133.4" textLength="7.76" lengthAdjust="spacingAndGlyphs">220</text>
<text x="94.71" y="133.4" textLength="7.76" lengthAdjust="spacingAndGlyphs">168</text>
<text x="105.46" y="133.4" textLength="7.76" lengthAdjust="spacingAndGlyphs">104</text>
<text x="116.21" y="133.4" textLength="5.17" lengthAdjust="spacingAndGlyphs">56</text>
<text x="126.96" y="133.4" textLength="5.17" lengthAdjust="spacingAndGlyphs">41</text>
<text x="137.71" y="133.4" textLength="5.17" lengthAdjust="spacingAndGlyphs">31</text>
<text x="148.46" y="133.4" textLength="5.17" lengthAdjust="spacingAndGlyphs">19</text>
<text x="159.21" y="133.4" textLength="2.59" lengthAdjust="spacingAndGlyphs">8</text>
<text x="169.96" y="133.4" textLength="2.59" lengthAdjust="spacingAndGlyphs">4</text>
<text x="180.71" y="133.4" textLength="2.59" lengthAdjust="spacingAndGlyphs">3</text>
<text x="191.46" y="133.4" textLength="2.59" lengthAdjust="spacingAndGlyphs">1</text>
<text x="202.21" y="133.4" textLength="2.59" lengthAdjust="spacingAndGlyphs">0</text>
<text x="30.21" y="137.7" textLength="7.76" lengthAdjust="spacingAndGlyphs">174</text>
<text x="40.96" y="137.7" textLength="7.76" lengthAdjust="spacingAndGlyphs">157</text>
<text x="51.71" y="137.7" textLength="7.76" lengthAdjust="spacingAndGlyphs">125</text>
<text x="62.46" y="137.7" textLength="5.17" lengthAdjust="spacingAndGlyphs">90</text>
<text x="73.21" y="137.7" textLength="5.17" lengthAdjust="spacingAndGlyphs">71</text>
<text x="83.96" y="137.7" textLength="5.17" lengthAdjust="spacingAndGlyphs">59</text>
<text x="94.71" y="137.7" textLength="5.17" lengthAdjust="spacingAndGlyphs">47</text>
<text x="105.46" y="137.7" textLength="5.17" lengthAdjust="spacingAndGlyphs">35</text>
<text x="116.21" y="137.7" textLength="5.17" lengthAdjust="spacingAndGlyphs">33</text>
<text x="126.96" y="137.7" textLength="5.17" lengthAdjust="spacingAndGlyphs">23</text>
<text x="137.71" y="137.7" textLength="5.17" lengthAdjust="spacingAndGlyphs">18</text>
<text x="148.46" y="137.7" textLength="5.17" lengthAdjust="spacingAndGlyphs">13</text>
<text x="159.21" y="137.7" textLength="2.59" lengthAdjust="spacingAndGlyphs">9</text>
<text x="169.96" y="137.7" textLength="2.59" lengthAdjust="spacingAndGlyphs">6</text>
<text x="180.71" y="137.7" textLength="2.59" lengthAdjust="spacingAndGlyphs">3</text>
<text x="191.46" y="137.7" textLength="2.59" lengthAdjust="spacingAndGlyphs">3</text>
<text x="202.21" y="137.7" textLength="2.59" lengthAdjust="spacingAndGlyphs">1</text>
</g>
<text x="34.1" y="90.2" font-family='"Liberation Sans", sans-serif' font-size="6.5" fill="#222" stroke="#222" stroke-width="0.15">p=0.020</text>
</g>
<path d="M491.39,185.12 L532.93,203.22 L547.77,206.19 L581,213.31 L580.93,212.38 L585.52,214.68 L590.1,214.68 L661.16,214.68 L661.16,224.61 L609.2,224.61 L607.68,223.08 L585.52,223.08 L580.93,220.03 L581,219.54 L547.77,209.16 L532.93,206.93 L491.39,185.12 Z" fill="#ff0000" stroke="#ff0000" stroke-width="0.9" stroke-linejoin="round" opacity="0.3"/>
<path d="M491.39,185.12 L503.26,187.2 L518.09,191.35 L525.51,192.84 L537.38,195.8 L547.77,198.77 L581,200.26 L580.93,200.62 L585.52,200.92 L590.1,202.45 L619.9,202.76 L653.52,203.22 L653.52,194.05 L668.8,194.05 L668.8,240.35 L653.52,240.35 L653.52,223.85 L619.9,223.85 L619.9,222.32 L590.1,220.79 L585.52,217.73 L580.93,215.44 L581,212.12 L547.77,207.67 L537.38,203.22 L525.51,197.29 L518.09,194.32 L503.26,189.13 L491.39,185.12 Z" fill="#0000ff" stroke="#0000ff" stroke-width="0.9" stroke-linejoin="round" opacity="0.3"/>
<path d="M491.39,185.12 L503.26,189.87 M503.26,189.87 L518.09,196.55 M518.09,196.55 L532.93,204.71 M532.93,204.71 L547.77,207.67 M547.77,207.67 L558.15,210.64 M558.15,210.64 L570.02,213.61 M570.02,213.61 L581,216.28 M580.93,216.51 L585.52,218.04 M585.52,218.04 L607.68,218.5 M607.68,218.5 L609.2,220.03" fill="none" stroke="#ff0000" stroke-width="1.9" stroke-linecap="round"/>
<path d="M581,216.28 L580.93,216.51 M609.2,220.03 L661.16,220.03" fill="none" stroke="#ff0000" stroke-width="1.15" stroke-linecap="round"/>
<path d="M618.38,218.63 V220.83 M622.71,218.63 V220.83 M626.52,218.63 V220.83 M630.25,218.63 V220.83 M637.16,218.63 V220.83 M641.48,218.63 V220.83 M644.7,218.63 V220.83 M651.61,218.63 V220.83 M655.94,218.63 V220.83 M659.67,218.63 V220.83" fill="none" stroke="#ff0000" stroke-width="0.9"/>
<path d="M491.39,185.12 L495.84,186.9 M495.84,186.9 L503.26,188.09 M503.26,188.09 L510.67,189.87 M510.67,189.87 L518.09,192.84 M518.09,192.84 L525.51,195.06 M525.51,195.06 L531.45,196.55 M531.45,196.55 L537.38,199.51 M537.38,199.51 L543.31,201 M543.31,201 L547.77,203.22 M547.77,203.22 L552.22,205.45 M552.22,205.45 L581,206.19 M580.93,206.27 L583.23,206.27 M583.23,206.27 L585.52,207.8 M585.52,207.8 L590.1,210.09 M618.37,210.09 L619.9,214.22" fill="none" stroke="#0000ff" stroke-width="1.9" stroke-linecap="round"/>
<path d="M581,206.19 L580.93,206.27 M590.1,210.09 L618.37,210.09 M619.9,214.22 L653.52,214.22 M653.52,214.22 L653.52,226.29 M653.52,226.29 L669.57,226.29" fill="none" stroke="#0000ff" stroke-width="1.15" stroke-linecap="round"/>
<path d="M594.96,208.69 V210.89 M598.42,208.69 V210.89 M602.57,208.69 V210.89 M616.31,208.69 V210.89 M625.32,212.82 V215.02 M629.33,212.82 V215.02 M633.68,212.82 V215.02 M639.87,212.82 V215.02 M643.62,212.82 V215.02 M648.23,212.82 V215.02 M655.06,224.89 V227.09 M660.32,224.89 V227.09 M667.83,224.89 V227.09" fill="none" stroke="#0000ff" stroke-width="0.9"/>
<text x="463.9" y="171.4" font-family='"Liberation Serif", serif' font-weight="bold" font-size="17.3" fill="#000">F</text>
<g transform="translate(0.03,303.8)">
<g font-family='"Liberation Sans", sans-serif' font-size="3.9" fill="#2a2a2a" stroke="#2a2a2a" stroke-width="0.12">
<text x="93.08" y="22.7">NSUN4</text>
<rect x="108.3" y="18.3" width="6.5" height="6" fill="#ffb3b3"/>
<line x1="108.8" y1="21.3" x2="114.3" y2="21.3" stroke="#ff0000" stroke-width="0.9"/>
<line x1="111.55" y1="20.1" x2="111.55" y2="21.9" stroke="#ff0000" stroke-width="0.7"/>
<text x="116.8" y="22.7">high</text>
<rect x="126.17" y="18.3" width="6.5" height="6" fill="#b3b3ff"/>
<line x1="126.67" y1="21.3" x2="132.17" y2="21.3" stroke="#0000ff" stroke-width="0.9"/>
<line x1="129.42" y1="20.1" x2="129.42" y2="21.9" stroke="#0000ff" stroke-width="0.7"/>
<text x="134.67" y="22.7">low</text>
</g>
<g stroke="#4d4d4d" stroke-width="0.75" fill="none">
<path d="M22.2,32 V103.6 H211.4"/>
<path d="M20.7,100.2 H22.2"/>
<path d="M20.7,83.9 H22.2"/>
<path d="M20.7,67.6 H22.2"/>
<path d="M20.7,51.3 H22.2"/>
<path d="M20.7,35 H22.2"/>
<path d="M30.44,103.6 V105.1"/>
<path d="M41.19,103.6 V105.1"/>
<path d="M51.94,103.6 V105.1"/>
<path d="M62.69,103.6 V105.1"/>
<path d="M73.44,103.6 V105.1"/>
<path d="M84.19,103.6 V105.1"/>
<path d="M94.94,103.6 V105.1"/>
<path d="M105.69,103.6 V105.1"/>
<path d="M116.44,103.6 V105.1"/>
<path d="M127.19,103.6 V105.1"/>
<path d="M137.94,103.6 V105.1"/>
<path d="M148.69,103.6 V105.1"/>
<path d="M159.44,103.6 V105.1"/>
<path d="M170.19,103.6 V105.1"/>
<path d="M180.94,103.6 V105.1"/>
<path d="M191.69,103.6 V105.1"/>
<path d="M202.44,103.6 V105.1"/>
<path d="M22.2,129 V138.6 H211.4"/>
<path d="M30.44,138.6 V140.1"/>
<path d="M41.19,138.6 V140.1"/>
<path d="M51.94,138.6 V140.1"/>
<path d="M62.69,138.6 V140.1"/>
<path d="M73.44,138.6 V140.1"/>
<path d="M84.19,138.6 V140.1"/>
<path d="M94.94,138.6 V140.1"/>
<path d="M105.69,138.6 V140.1"/>
<path d="M116.44,138.6 V140.1"/>
<path d="M127.19,138.6 V140.1"/>
<path d="M137.94,138.6 V140.1"/>
<path d="M148.69,138.6 V140.1"/>
<path d="M159.44,138.6 V140.1"/>
<path d="M170.19,138.6 V140.1"/>
<path d="M180.94,138.6 V140.1"/>
<path d="M191.69,138.6 V140.1"/>
<path d="M202.44,138.6 V140.1"/>
<path d="M21,131.6 H22.2 M21,135.8 H22.2"/>
</g>
<g font-family='"Liberation Sans", sans-serif' font-size="4.8" fill="#2a2a2a" stroke="#2a2a2a" stroke-width="0.18">
<text x="19.7" y="101.85" text-anchor="end" textLength="8" lengthAdjust="spacingAndGlyphs">0.00</text>
<text x="19.7" y="85.55" text-anchor="end" textLength="8" lengthAdjust="spacingAndGlyphs">0.25</text>
<text x="19.7" y="69.25" text-anchor="end" textLength="8" lengthAdjust="spacingAndGlyphs">0.50</text>
<text x="19.7" y="52.95" text-anchor="end" textLength="8" lengthAdjust="spacingAndGlyphs">0.75</text>
<text x="19.7" y="36.65" text-anchor="end" textLength="8" lengthAdjust="spacingAndGlyphs">1.00</text>
<text x="30.44" y="109.6" text-anchor="middle" textLength="2.4" lengthAdjust="spacingAndGlyphs">0</text>
<text x="30.44" y="144.05" text-anchor="middle" textLength="2.4" lengthAdjust="spacingAndGlyphs">0</text>
<text x="41.19" y="109.6" text-anchor="middle" textLength="2.4" lengthAdjust="spacingAndGlyphs">1</text>
<text x="41.19" y="144.05" text-anchor="middle" textLength="2.4" lengthAdjust="spacingAndGlyphs">1</text>
<text x="51.94" y="109.6" text-anchor="middle" textLength="2.4" lengthAdjust="spacingAndGlyphs">2</text>
<text x="51.94" y="144.05" text-anchor="middle" textLength="2.4" lengthAdjust="spacingAndGlyphs">2</text>
<text x="62.69" y="109.6" text-anchor="middle" textLength="2.4" lengthAdjust="spacingAndGlyphs">3</text>
<text x="62.69" y="144.05" text-anchor="middle" textLength="2.4" lengthAdjust="spacingAndGlyphs">3</text>
<text x="73.44" y="109.6" text-anchor="middle" textLength="2.4" lengthAdjust="spacingAndGlyphs">4</text>
<text x="73.44" y="144.05" text-anchor="middle" textLength="2.4" lengthAdjust="spacingAndGlyphs">4</text>
<text x="84.19" y="109.6" text-anchor="middle" textLength="2.4" lengthAdjust="spacingAndGlyphs">5</text>
<text x="84.19" y="144.05" text-anchor="middle" textLength="2.4" lengthAdjust="spacingAndGlyphs">5</text>
<text x="94.94" y="109.6" text-anchor="middle" textLength="2.4" lengthAdjust="spacingAndGlyphs">6</text>
<text x="94.94" y="144.05" text-anchor="middle" textLength="2.4" lengthAdjust="spacingAndGlyphs">6</text>
<text x="105.69" y="109.6" text-anchor="middle" textLength="2.4" lengthAdjust="spacingAndGlyphs">7</text>
<text x="105.69" y="144.05" text-anchor="middle" textLength="2.4" lengthAdjust="spacingAndGlyphs">7</text>
<text x="116.44" y="109.6" text-anchor="middle" textLength="2.4" lengthAdjust="spacingAndGlyphs">8</text>
<text x="116.44" y="144.05" text-anchor="middle" textLength="2.4" lengthAdjust="spacingAndGlyphs">8</text>
<text x="127.19" y="109.6" text-anchor="middle" textLength="2.4" lengthAdjust="spacingAndGlyphs">9</text>
<text x="127.19" y="144.05" text-anchor="middle" textLength="2.4" lengthAdjust="spacingAndGlyphs">9</text>
<text x="137.94" y="109.6" text-anchor="middle" textLength="4.8" lengthAdjust="spacingAndGlyphs">10</text>
<text x="137.94" y="144.05" text-anchor="middle" textLength="4.8" lengthAdjust="spacingAndGlyphs">10</text>
<text x="148.69" y="109.6" text-anchor="middle" textLength="4.48" lengthAdjust="spacingAndGlyphs">11</text>
<text x="148.69" y="144.05" text-anchor="middle" textLength="4.48" lengthAdjust="spacingAndGlyphs">11</text>
<text x="159.44" y="109.6" text-anchor="middle" textLength="4.8" lengthAdjust="spacingAndGlyphs">12</text>
<text x="159.44" y="144.05" text-anchor="middle" textLength="4.8" lengthAdjust="spacingAndGlyphs">12</text>
<text x="170.19" y="109.6" text-anchor="middle" textLength="4.8" lengthAdjust="spacingAndGlyphs">13</text>
<text x="170.19" y="144.05" text-anchor="middle" textLength="4.8" lengthAdjust="spacingAndGlyphs">13</text>
<text x="180.94" y="109.6" text-anchor="middle" textLength="4.8" lengthAdjust="spacingAndGlyphs">14</text>
<text x="180.94" y="144.05" text-anchor="middle" textLength="4.8" lengthAdjust="spacingAndGlyphs">14</text>
<text x="191.69" y="109.6" text-anchor="middle" textLength="4.8" lengthAdjust="spacingAndGlyphs">15</text>
<text x="191.69" y="144.05" text-anchor="middle" textLength="4.8" lengthAdjust="spacingAndGlyphs">15</text>
<text x="202.44" y="109.6" text-anchor="middle" textLength="4.8" lengthAdjust="spacingAndGlyphs">16</text>
<text x="202.44" y="144.05" text-anchor="middle" textLength="4.8" lengthAdjust="spacingAndGlyphs">16</text>
</g>
<g font-family='"Liberation Sans", sans-serif' font-size="5.6" fill="#2a2a2a" stroke="#2a2a2a" stroke-width="0.14" text-anchor="middle">
<text x="116.8" y="115.25">Time(years)</text>
<text x="116.8" y="149.75">Time(years)</text>
<text transform="translate(8.6,67.5) rotate(-90)" font-size="5.6">Overall survival</text>
<text transform="translate(8.7,134.1) rotate(-90)" font-size="5.6">NSUN4</text>
</g>
<g font-family='"Liberation Sans", sans-serif' font-size="4.7" text-anchor="end" stroke-width="0.12">
<text x="19.9" y="133" fill="#ff0000" stroke="#ff0000">high</text>
<text x="19.9" y="137" fill="#0000ff" stroke="#0000ff">low</text>
</g>
<g font-family='"Liberation Sans", sans-serif' font-size="5" fill="#222" stroke="#222" stroke-width="0.15" text-anchor="middle">
<text x="30.44" y="133.4" textLength="7.76" lengthAdjust="spacingAndGlyphs">369</text>
<text x="41.19" y="133.4" textLength="7.76" lengthAdjust="spacingAndGlyphs">309</text>
<text x="51.94" y="133.4" textLength="7.76" lengthAdjust="spacingAndGlyphs">238</text>
<text x="62.69" y="133.4" textLength="7.76" lengthAdjust="spacingAndGlyphs">178</text>
<text x="73.44" y="133.4" textLength="7.76" lengthAdjust="spacingAndGlyphs">133</text>
<text x="84.19" y="133.4" textLength="5.17" lengthAdjust="spacingAndGlyphs">97</text>
<text x="94.94" y="133.4" textLength="5.17" lengthAdjust="spacingAndGlyphs">69</text>
<text x="105.69" y="133.4" textLength="5.17" lengthAdjust="spacingAndGlyphs">41</text>
<text x="116.44" y="133.4" textLength="5.17" lengthAdjust="spacingAndGlyphs">17</text>
<text x="127.19" y="133.4" textLength="5.17" lengthAdjust="spacingAndGlyphs">13</text>
<text x="137.94" y="133.4" textLength="2.59" lengthAdjust="spacingAndGlyphs">7</text>
<text x="148.69" y="133.4" textLength="2.59" lengthAdjust="spacingAndGlyphs">3</text>
<text x="159.44" y="133.4" textLength="2.59" lengthAdjust="spacingAndGlyphs">1</text>
<text x="170.19" y="133.4" textLength="2.59" lengthAdjust="spacingAndGlyphs">1</text>
<text x="180.94" y="133.4" textLength="2.59" lengthAdjust="spacingAndGlyphs">0</text>
<text x="191.69" y="133.4" textLength="2.59" lengthAdjust="spacingAndGlyphs">0</text>
<text x="202.44" y="133.4" textLength="2.59" lengthAdjust="spacingAndGlyphs">0</text>
<text x="30.44" y="137.7" textLength="7.76" lengthAdjust="spacingAndGlyphs">589</text>
<text x="41.19" y="137.7" textLength="7.76" lengthAdjust="spacingAndGlyphs">506</text>
<text x="51.94" y="137.7" textLength="7.76" lengthAdjust="spacingAndGlyphs">397</text>
<text x="62.69" y="137.7" textLength="7.76" lengthAdjust="spacingAndGlyphs">293</text>
<text x="73.44" y="137.7" textLength="7.76" lengthAdjust="spacingAndGlyphs">227</text>
<text x="84.19" y="137.7" textLength="7.76" lengthAdjust="spacingAndGlyphs">182</text>
<text x="94.94" y="137.7" textLength="7.76" lengthAdjust="spacingAndGlyphs">146</text>
<text x="105.69" y="137.7" textLength="5.17" lengthAdjust="spacingAndGlyphs">98</text>
<text x="116.44" y="137.7" textLength="5.17" lengthAdjust="spacingAndGlyphs">69</text>
<text x="127.19" y="137.7" textLength="5.17" lengthAdjust="spacingAndGlyphs">51</text>
<text x="137.94" y="137.7" textLength="5.17" lengthAdjust="spacingAndGlyphs">42</text>
<text x="148.69" y="137.7" textLength="5.17" lengthAdjust="spacingAndGlyphs">29</text>
<text x="159.44" y="137.7" textLength="5.17" lengthAdjust="spacingAndGlyphs">16</text>
<text x="170.19" y="137.7" textLength="2.59" lengthAdjust="spacingAndGlyphs">9</text>
<text x="180.94" y="137.7" textLength="2.59" lengthAdjust="spacingAndGlyphs">6</text>
<text x="191.69" y="137.7" textLength="2.59" lengthAdjust="spacingAndGlyphs">4</text>
<text x="202.44" y="137.7" textLength="2.59" lengthAdjust="spacingAndGlyphs">1</text>
</g>
<text x="34.1" y="90.2" font-family='"Liberation Sans", sans-serif' font-size="6.5" fill="#222" stroke="#222" stroke-width="0.15">p=0.010</text>
</g>
<path d="M30.39,337.68 L57.09,349.55 L70.45,356.96 L86.77,362.9 L101.6,366.61 L120,368.83 L119.97,368.39 L124.02,369.95 L159.07,369.95 L159.07,359.04 L179.01,359.04 L179.01,401.88 L159.07,401.88 L159.07,393.78 L147.39,393.78 L147.39,383.97 L124.02,383.97 L119.97,380.07 L120,379.96 L111.99,376.99 L103.09,374.03 L86.77,368.09 L70.45,361.42 L57.09,351.77 L30.39,337.68 Z" fill="#ff0000" stroke="#ff0000" stroke-width="0.9" stroke-linejoin="round" opacity="0.3"/>
<path d="M30.39,338.12 L57.09,348.51 L71.93,353.26 L101.6,358.45 L120,359.93 L119.97,360.6 L124.02,361.38 L130.25,362.16 L191.79,362.16 L191.79,353.28 L208.15,353.28 L208.15,387.86 L191.79,387.86 L191.79,369.95 L130.25,369.17 L124.02,367.61 L119.97,366.83 L120,367.35 L101.6,362.9 L71.93,356.22 L57.09,350.58 L30.39,338.12 Z" fill="#0000ff" stroke="#0000ff" stroke-width="0.9" stroke-linejoin="round" opacity="0.3"/>
<path d="M30.39,337.68 L42.26,345.09 M42.26,345.09 L57.09,350.29 M57.09,350.29 L67.48,354.74 M67.48,354.74 L70.45,358.45 M70.45,358.45 L79.35,362.16 M79.35,362.16 L86.77,364.38 M86.77,364.38 L97.15,366.61 M97.15,366.61 L103.09,369.58 M103.09,369.58 L111.99,371.06 M111.99,371.06 L116.44,374.03 M119.97,373.84 L124.02,376.96 M124.02,376.96 L146.61,377.42 M146.61,377.42 L147.39,384.28 M158.29,384.28 L159.07,394.09" fill="none" stroke="#ff0000" stroke-width="1.9" stroke-linecap="round"/>
<path d="M116.44,374.03 L120,374.32 M120,374.32 L119.97,373.84 M147.39,384.28 L158.29,384.28 M159.07,394.09 L179.32,394.09" fill="none" stroke="#ff0000" stroke-width="1.15" stroke-linecap="round"/>
<path d="M118.06,372.63 V374.83 M148.73,382.88 V385.08 M153.24,382.88 V385.08 M161.81,392.69 V394.89 M164.65,392.69 V394.89 M168.8,392.69 V394.89 M173.72,392.69 V394.89" fill="none" stroke="#ff0000" stroke-width="0.9"/>
<path d="M30.39,338.12 L42.26,344.35 M42.26,344.35 L57.09,349.55 M57.09,349.55 L71.93,354.74 M71.93,354.74 L86.77,357.71 M86.77,357.71 L101.6,360.67 M101.6,360.67 L120,363.34 M119.97,362.94 L124.02,363.72 M124.02,363.72 L130.25,366.05 M191.79,366.05 L192.26,375.09" fill="none" stroke="#0000ff" stroke-width="1.9" stroke-linecap="round"/>
<path d="M120,363.34 L119.97,362.94 M130.25,366.05 L191.79,366.05 M192.26,375.09 L208.46,375.09" fill="none" stroke="#0000ff" stroke-width="1.15" stroke-linecap="round"/>
<path d="M132.32,364.65 V366.85 M136.39,364.65 V366.85 M143.12,364.65 V366.85 M146.58,364.65 V366.85 M150.89,364.65 V366.85 M157.2,364.65 V366.85 M161.44,364.65 V366.85 M165.08,364.65 V366.85 M168.8,364.65 V366.85 M171.29,364.65 V366.85 M175.52,364.65 V366.85 M179.16,364.65 V366.85 M186.14,364.65 V366.85 M189.61,364.65 V366.85 M197.82,373.69 V375.89 M202.49,373.69 V375.89 M207.15,373.69 V375.89" fill="none" stroke="#0000ff" stroke-width="0.9"/>
<text x="0.5" y="326.1" font-family='"Liberation Serif", serif' font-weight="bold" font-size="17.3" fill="#000">G</text>
<g transform="translate(230.35,307.3)">
<g font-family='"Liberation Sans", sans-serif' font-size="3.9" fill="#2a2a2a" stroke="#2a2a2a" stroke-width="0.12">
<text x="93.08" y="22.7">NSUN5</text>
<rect x="108.3" y="18.3" width="6.5" height="6" fill="#ffb3b3"/>
<line x1="108.8" y1="21.3" x2="114.3" y2="21.3" stroke="#ff0000" stroke-width="0.9"/>
<line x1="111.55" y1="20.1" x2="111.55" y2="21.9" stroke="#ff0000" stroke-width="0.7"/>
<text x="116.8" y="22.7">high</text>
<rect x="126.17" y="18.3" width="6.5" height="6" fill="#b3b3ff"/>
<line x1="126.67" y1="21.3" x2="132.17" y2="21.3" stroke="#0000ff" stroke-width="0.9"/>
<line x1="129.42" y1="20.1" x2="129.42" y2="21.9" stroke="#0000ff" stroke-width="0.7"/>
<text x="134.67" y="22.7">low</text>
</g>
<g stroke="#4d4d4d" stroke-width="0.75" fill="none">
<path d="M22.2,32 V103.6 H211.4"/>
<path d="M20.7,100.2 H22.2"/>
<path d="M20.7,83.9 H22.2"/>
<path d="M20.7,67.6 H22.2"/>
<path d="M20.7,51.3 H22.2"/>
<path d="M20.7,35 H22.2"/>
<path d="M31.1,103.6 V105.1"/>
<path d="M41.86,103.6 V105.1"/>
<path d="M52.61,103.6 V105.1"/>
<path d="M63.37,103.6 V105.1"/>
<path d="M74.12,103.6 V105.1"/>
<path d="M84.88,103.6 V105.1"/>
<path d="M95.64,103.6 V105.1"/>
<path d="M106.39,103.6 V105.1"/>
<path d="M117.15,103.6 V105.1"/>
<path d="M127.9,103.6 V105.1"/>
<path d="M138.66,103.6 V105.1"/>
<path d="M149.42,103.6 V105.1"/>
<path d="M160.17,103.6 V105.1"/>
<path d="M170.93,103.6 V105.1"/>
<path d="M181.68,103.6 V105.1"/>
<path d="M192.44,103.6 V105.1"/>
<path d="M203.2,103.6 V105.1"/>
<path d="M22.2,129.5 V139.1 H211.4"/>
<path d="M31.1,139.1 V140.6"/>
<path d="M41.86,139.1 V140.6"/>
<path d="M52.61,139.1 V140.6"/>
<path d="M63.37,139.1 V140.6"/>
<path d="M74.12,139.1 V140.6"/>
<path d="M84.88,139.1 V140.6"/>
<path d="M95.64,139.1 V140.6"/>
<path d="M106.39,139.1 V140.6"/>
<path d="M117.15,139.1 V140.6"/>
<path d="M127.9,139.1 V140.6"/>
<path d="M138.66,139.1 V140.6"/>
<path d="M149.42,139.1 V140.6"/>
<path d="M160.17,139.1 V140.6"/>
<path d="M170.93,139.1 V140.6"/>
<path d="M181.68,139.1 V140.6"/>
<path d="M192.44,139.1 V140.6"/>
<path d="M203.2,139.1 V140.6"/>
<path d="M21,132.1 H22.2 M21,136.3 H22.2"/>
</g>
<g font-family='"Liberation Sans", sans-serif' font-size="4.8" fill="#2a2a2a" stroke="#2a2a2a" stroke-width="0.18">
<text x="19.7" y="101.85" text-anchor="end" textLength="8" lengthAdjust="spacingAndGlyphs">0.00</text>
<text x="19.7" y="85.55" text-anchor="end" textLength="8" lengthAdjust="spacingAndGlyphs">0.25</text>
<text x="19.7" y="69.25" text-anchor="end" textLength="8" lengthAdjust="spacingAndGlyphs">0.50</text>
<text x="19.7" y="52.95" text-anchor="end" textLength="8" lengthAdjust="spacingAndGlyphs">0.75</text>
<text x="19.7" y="36.65" text-anchor="end" textLength="8" lengthAdjust="spacingAndGlyphs">1.00</text>
<text x="31.1" y="109.6" text-anchor="middle" textLength="2.4" lengthAdjust="spacingAndGlyphs">0</text>
<text x="31.1" y="144.55" text-anchor="middle" textLength="2.4" lengthAdjust="spacingAndGlyphs">0</text>
<text x="41.86" y="109.6" text-anchor="middle" textLength="2.4" lengthAdjust="spacingAndGlyphs">1</text>
<text x="41.86" y="144.55" text-anchor="middle" textLength="2.4" lengthAdjust="spacingAndGlyphs">1</text>
<text x="52.61" y="109.6" text-anchor="middle" textLength="2.4" lengthAdjust="spacingAndGlyphs">2</text>
<text x="52.61" y="144.55" text-anchor="middle" textLength="2.4" lengthAdjust="spacingAndGlyphs">2</text>
<text x="63.37" y="109.6" text-anchor="middle" textLength="2.4" lengthAdjust="spacingAndGlyphs">3</text>
<text x="63.37" y="144.55" text-anchor="middle" textLength="2.4" lengthAdjust="spacingAndGlyphs">3</text>
<text x="74.12" y="109.6" text-anchor="middle" textLength="2.4" lengthAdjust="spacingAndGlyphs">4</text>
<text x="74.12" y="144.55" text-anchor="middle" textLength="2.4" lengthAdjust="spacingAndGlyphs">4</text>
<text x="84.88" y="109.6" text-anchor="middle" textLength="2.4" lengthAdjust="spacingAndGlyphs">5</text>
<text x="84.88" y="144.55" text-anchor="middle" textLength="2.4" lengthAdjust="spacingAndGlyphs">5</text>
<text x="95.64" y="109.6" text-anchor="middle" textLength="2.4" lengthAdjust="spacingAndGlyphs">6</text>
<text x="95.64" y="144.55" text-anchor="middle" textLength="2.4" lengthAdjust="spacingAndGlyphs">6</text>
<text x="106.39" y="109.6" text-anchor="middle" textLength="2.4" lengthAdjust="spacingAndGlyphs">7</text>
<text x="106.39" y="144.55" text-anchor="middle" textLength="2.4" lengthAdjust="spacingAndGlyphs">7</text>
<text x="117.15" y="109.6" text-anchor="middle" textLength="2.4" lengthAdjust="spacingAndGlyphs">8</text>
<text x="117.15" y="144.55" text-anchor="middle" textLength="2.4" lengthAdjust="spacingAndGlyphs">8</text>
<text x="127.9" y="109.6" text-anchor="middle" textLength="2.4" lengthAdjust="spacingAndGlyphs">9</text>
<text x="127.9" y="144.55" text-anchor="middle" textLength="2.4" lengthAdjust="spacingAndGlyphs">9</text>
<text x="138.66" y="109.6" text-anchor="middle" textLength="4.8" lengthAdjust="spacingAndGlyphs">10</text>
<text x="138.66" y="144.55" text-anchor="middle" textLength="4.8" lengthAdjust="spacingAndGlyphs">10</text>
<text x="149.42" y="109.6" text-anchor="middle" textLength="4.48" lengthAdjust="spacingAndGlyphs">11</text>
<text x="149.42" y="144.55" text-anchor="middle" textLength="4.48" lengthAdjust="spacingAndGlyphs">11</text>
<text x="160.17" y="109.6" text-anchor="middle" textLength="4.8" lengthAdjust="spacingAndGlyphs">12</text>
<text x="160.17" y="144.55" text-anchor="middle" textLength="4.8" lengthAdjust="spacingAndGlyphs">12</text>
<text x="170.93" y="109.6" text-anchor="middle" textLength="4.8" lengthAdjust="spacingAndGlyphs">13</text>
<text x="170.93" y="144.55" text-anchor="middle" textLength="4.8" lengthAdjust="spacingAndGlyphs">13</text>
<text x="181.68" y="109.6" text-anchor="middle" textLength="4.8" lengthAdjust="spacingAndGlyphs">14</text>
<text x="181.68" y="144.55" text-anchor="middle" textLength="4.8" lengthAdjust="spacingAndGlyphs">14</text>
<text x="192.44" y="109.6" text-anchor="middle" textLength="4.8" lengthAdjust="spacingAndGlyphs">15</text>
<text x="192.44" y="144.55" text-anchor="middle" textLength="4.8" lengthAdjust="spacingAndGlyphs">15</text>
<text x="203.2" y="109.6" text-anchor="middle" textLength="4.8" lengthAdjust="spacingAndGlyphs">16</text>
<text x="203.2" y="144.55" text-anchor="middle" textLength="4.8" lengthAdjust="spacingAndGlyphs">16</text>
</g>
<g font-family='"Liberation Sans", sans-serif' font-size="5.6" fill="#2a2a2a" stroke="#2a2a2a" stroke-width="0.14" text-anchor="middle">
<text x="116.8" y="115.25">Time(years)</text>
<text x="116.8" y="150.25">Time(years)</text>
<text transform="translate(8.6,67.5) rotate(-90)" font-size="5.6">Overall survival</text>
<text transform="translate(8.7,134.6) rotate(-90)" font-size="5.6">NSUN5</text>
</g>
<g font-family='"Liberation Sans", sans-serif' font-size="4.7" text-anchor="end" stroke-width="0.12">
<text x="19.9" y="133.5" fill="#ff0000" stroke="#ff0000">high</text>
<text x="19.9" y="137.5" fill="#0000ff" stroke="#0000ff">low</text>
</g>
<g font-family='"Liberation Sans", sans-serif' font-size="5" fill="#222" stroke="#222" stroke-width="0.15" text-anchor="middle">
<text x="31.1" y="133.9" textLength="7.76" lengthAdjust="spacingAndGlyphs">101</text>
<text x="41.86" y="133.9" textLength="5.17" lengthAdjust="spacingAndGlyphs">82</text>
<text x="52.61" y="133.9" textLength="5.17" lengthAdjust="spacingAndGlyphs">63</text>
<text x="63.37" y="133.9" textLength="5.17" lengthAdjust="spacingAndGlyphs">46</text>
<text x="74.12" y="133.9" textLength="5.17" lengthAdjust="spacingAndGlyphs">33</text>
<text x="84.88" y="133.9" textLength="5.17" lengthAdjust="spacingAndGlyphs">19</text>
<text x="95.64" y="133.9" textLength="5.17" lengthAdjust="spacingAndGlyphs">14</text>
<text x="106.39" y="133.9" textLength="2.59" lengthAdjust="spacingAndGlyphs">8</text>
<text x="117.15" y="133.9" textLength="2.59" lengthAdjust="spacingAndGlyphs">4</text>
<text x="127.9" y="133.9" textLength="2.59" lengthAdjust="spacingAndGlyphs">3</text>
<text x="138.66" y="133.9" textLength="2.59" lengthAdjust="spacingAndGlyphs">3</text>
<text x="149.42" y="133.9" textLength="2.59" lengthAdjust="spacingAndGlyphs">2</text>
<text x="160.17" y="133.9" textLength="2.59" lengthAdjust="spacingAndGlyphs">1</text>
<text x="170.93" y="133.9" textLength="2.59" lengthAdjust="spacingAndGlyphs">0</text>
<text x="181.68" y="133.9" textLength="2.59" lengthAdjust="spacingAndGlyphs">0</text>
<text x="192.44" y="133.9" textLength="2.59" lengthAdjust="spacingAndGlyphs">0</text>
<text x="203.2" y="133.9" textLength="2.59" lengthAdjust="spacingAndGlyphs">0</text>
<text x="31.1" y="138.2" textLength="7.76" lengthAdjust="spacingAndGlyphs">857</text>
<text x="41.86" y="138.2" textLength="7.76" lengthAdjust="spacingAndGlyphs">733</text>
<text x="52.61" y="138.2" textLength="7.76" lengthAdjust="spacingAndGlyphs">570</text>
<text x="63.37" y="138.2" textLength="7.76" lengthAdjust="spacingAndGlyphs">425</text>
<text x="74.12" y="138.2" textLength="7.76" lengthAdjust="spacingAndGlyphs">328</text>
<text x="84.88" y="138.2" textLength="7.76" lengthAdjust="spacingAndGlyphs">260</text>
<text x="95.64" y="138.2" textLength="7.76" lengthAdjust="spacingAndGlyphs">201</text>
<text x="106.39" y="138.2" textLength="7.76" lengthAdjust="spacingAndGlyphs">131</text>
<text x="117.15" y="138.2" textLength="5.17" lengthAdjust="spacingAndGlyphs">82</text>
<text x="127.9" y="138.2" textLength="5.17" lengthAdjust="spacingAndGlyphs">61</text>
<text x="138.66" y="138.2" textLength="5.17" lengthAdjust="spacingAndGlyphs">46</text>
<text x="149.42" y="138.2" textLength="5.17" lengthAdjust="spacingAndGlyphs">33</text>
<text x="160.17" y="138.2" textLength="5.17" lengthAdjust="spacingAndGlyphs">16</text>
<text x="170.93" y="138.2" textLength="5.17" lengthAdjust="spacingAndGlyphs">10</text>
<text x="181.68" y="138.2" textLength="2.59" lengthAdjust="spacingAndGlyphs">6</text>
<text x="192.44" y="138.2" textLength="2.59" lengthAdjust="spacingAndGlyphs">4</text>
<text x="203.2" y="138.2" textLength="2.59" lengthAdjust="spacingAndGlyphs">1</text>
</g>
<text x="34.1" y="90.2" font-family='"Liberation Sans", sans-serif' font-size="6.5" fill="#222" stroke="#222" stroke-width="0.15">p=0.002</text>
</g>
<path d="M260.68,342.12 L279.67,353.55 L301.93,360.22 L316.77,366.9 L350,369.12 L349.97,368.49 L393.75,368.49 L393.75,385.16 L349.97,385.16 L350,385.45 L325.67,385.45 L313.8,382.77 L301.93,376.25 L293.03,370.61 L279.67,360.22 L264.84,346.87 L260.68,342.12 Z" fill="#ff0000" stroke="#ff0000" stroke-width="0.9" stroke-linejoin="round" opacity="0.3"/>
<path d="M260.68,341.68 L287.09,351.62 L301.93,356.96 L331.6,363.49 L350,365.86 L349.97,366.94 L355.58,368.49 L390.63,370.83 L422.57,370.05 L422.57,364.29 L438.92,364.29 L438.92,394.51 L422.57,394.51 L422.57,380.49 L389.85,380.49 L355.58,376.28 L349.97,374.73 L350,372.09 L331.6,367.64 L301.93,359.48 L287.09,353.55 L260.68,341.68 Z" fill="#0000ff" stroke="#0000ff" stroke-width="0.9" stroke-linejoin="round" opacity="0.3"/>
<path d="M260.68,342.12 L264.84,345.39 M264.84,345.39 L272.26,349.84 M272.26,349.84 L275.96,351.32 M275.96,351.32 L279.67,355.77 M284.12,355.77 L288.58,359.48 M288.58,359.48 L293.03,363.93 M293.03,363.93 L301.93,366.9 M301.93,366.9 L306.38,371.35 M306.38,371.35 L312.31,373.87 M312.31,373.87 L313.8,375.36 M324.18,375.36 L326.41,377.73" fill="none" stroke="#ff0000" stroke-width="1.9" stroke-linecap="round"/>
<path d="M279.67,355.77 L284.12,355.77 M313.8,375.36 L324.18,375.36 M326.41,377.73 L350,377.73 M350,377.73 L349.97,377.37 M349.97,377.37 L394.53,377.37" fill="none" stroke="#ff0000" stroke-width="1.15" stroke-linecap="round"/>
<path d="M281.31,354.37 V356.57 M316.92,373.96 V376.16 M320.99,373.96 V376.16 M328.23,376.33 V378.53 M332.01,376.33 V378.53 M336.81,376.33 V378.53 M351.63,375.97 V378.17 M355.19,375.97 V378.17 M359.18,375.97 V378.17 M363.51,375.97 V378.17 M366.09,375.97 V378.17 M370.42,375.97 V378.17 M373.64,375.97 V378.17 M377.97,375.97 V378.17 M382.29,375.97 V378.17 M384.88,375.97 V378.17 M388.61,375.97 V378.17 M392.43,375.97 V378.17" fill="none" stroke="#ff0000" stroke-width="0.9"/>
<path d="M260.68,341.68 L272.26,346.87 M272.26,346.87 L287.09,352.51 M287.09,352.51 L301.93,358 M301.93,358 L316.77,361.71 M316.77,361.71 L331.6,365.42 M331.6,365.42 L350,369.12 M349.97,368.96 L355.58,371.61 M355.58,371.61 L360.25,372.39 M377.39,372.39 L378.95,373.64 M388.29,373.64 L390.63,375.82 M422.57,375.82 L423.35,383.29" fill="none" stroke="#0000ff" stroke-width="1.9" stroke-linecap="round"/>
<path d="M350,369.12 L349.97,368.96 M360.25,372.39 L377.39,372.39 M378.95,373.64 L388.29,373.64 M390.63,375.82 L422.57,375.82 M423.35,383.29 L439.7,383.29" fill="none" stroke="#0000ff" stroke-width="1.15" stroke-linecap="round"/>
<path d="M362.18,370.99 V373.19 M366.31,370.99 V373.19 M370.61,370.99 V373.19 M375.77,370.99 V373.19 M381.99,372.24 V374.44 M386.51,372.24 V374.44 M391.99,374.42 V376.62 M406.56,374.42 V376.62 M413.14,374.42 V376.62 M416.8,374.42 V376.62 M420.36,374.42 V376.62 M425.46,381.89 V384.09 M429.57,381.89 V384.09" fill="none" stroke="#0000ff" stroke-width="0.9"/>
<text x="232.3" y="326.3" font-family='"Liberation Serif", serif' font-weight="bold" font-size="17.3" fill="#000">H</text>
<g transform="translate(460.46,303.8)">
<g font-family='"Liberation Sans", sans-serif' font-size="3.9" fill="#2a2a2a" stroke="#2a2a2a" stroke-width="0.12">
<text x="93.08" y="22.7">NSUN6</text>
<rect x="108.3" y="18.3" width="6.5" height="6" fill="#ffb3b3"/>
<line x1="108.8" y1="21.3" x2="114.3" y2="21.3" stroke="#ff0000" stroke-width="0.9"/>
<line x1="111.55" y1="20.1" x2="111.55" y2="21.9" stroke="#ff0000" stroke-width="0.7"/>
<text x="116.8" y="22.7">high</text>
<rect x="126.17" y="18.3" width="6.5" height="6" fill="#b3b3ff"/>
<line x1="126.67" y1="21.3" x2="132.17" y2="21.3" stroke="#0000ff" stroke-width="0.9"/>
<line x1="129.42" y1="20.1" x2="129.42" y2="21.9" stroke="#0000ff" stroke-width="0.7"/>
<text x="134.67" y="22.7">low</text>
</g>
<g stroke="#4d4d4d" stroke-width="0.75" fill="none">
<path d="M22.2,32 V103.6 H211.4"/>
<path d="M20.7,100.2 H22.2"/>
<path d="M20.7,83.9 H22.2"/>
<path d="M20.7,67.6 H22.2"/>
<path d="M20.7,51.3 H22.2"/>
<path d="M20.7,35 H22.2"/>
<path d="M31.01,103.6 V105.1"/>
<path d="M41.75,103.6 V105.1"/>
<path d="M52.5,103.6 V105.1"/>
<path d="M63.24,103.6 V105.1"/>
<path d="M73.98,103.6 V105.1"/>
<path d="M84.72,103.6 V105.1"/>
<path d="M95.47,103.6 V105.1"/>
<path d="M106.21,103.6 V105.1"/>
<path d="M116.95,103.6 V105.1"/>
<path d="M127.7,103.6 V105.1"/>
<path d="M138.44,103.6 V105.1"/>
<path d="M149.18,103.6 V105.1"/>
<path d="M159.93,103.6 V105.1"/>
<path d="M170.67,103.6 V105.1"/>
<path d="M181.41,103.6 V105.1"/>
<path d="M192.16,103.6 V105.1"/>
<path d="M202.9,103.6 V105.1"/>
<path d="M22.2,129 V138.6 H211.4"/>
<path d="M31.01,138.6 V140.1"/>
<path d="M41.75,138.6 V140.1"/>
<path d="M52.5,138.6 V140.1"/>
<path d="M63.24,138.6 V140.1"/>
<path d="M73.98,138.6 V140.1"/>
<path d="M84.72,138.6 V140.1"/>
<path d="M95.47,138.6 V140.1"/>
<path d="M106.21,138.6 V140.1"/>
<path d="M116.95,138.6 V140.1"/>
<path d="M127.7,138.6 V140.1"/>
<path d="M138.44,138.6 V140.1"/>
<path d="M149.18,138.6 V140.1"/>
<path d="M159.93,138.6 V140.1"/>
<path d="M170.67,138.6 V140.1"/>
<path d="M181.41,138.6 V140.1"/>
<path d="M192.16,138.6 V140.1"/>
<path d="M202.9,138.6 V140.1"/>
<path d="M21,131.6 H22.2 M21,135.8 H22.2"/>
</g>
<g font-family='"Liberation Sans", sans-serif' font-size="4.8" fill="#2a2a2a" stroke="#2a2a2a" stroke-width="0.18">
<text x="19.7" y="101.85" text-anchor="end" textLength="8" lengthAdjust="spacingAndGlyphs">0.00</text>
<text x="19.7" y="85.55" text-anchor="end" textLength="8" lengthAdjust="spacingAndGlyphs">0.25</text>
<text x="19.7" y="69.25" text-anchor="end" textLength="8" lengthAdjust="spacingAndGlyphs">0.50</text>
<text x="19.7" y="52.95" text-anchor="end" textLength="8" lengthAdjust="spacingAndGlyphs">0.75</text>
<text x="19.7" y="36.65" text-anchor="end" textLength="8" lengthAdjust="spacingAndGlyphs">1.00</text>
<text x="31.01" y="109.6" text-anchor="middle" textLength="2.4" lengthAdjust="spacingAndGlyphs">0</text>
<text x="31.01" y="144.05" text-anchor="middle" textLength="2.4" lengthAdjust="spacingAndGlyphs">0</text>
<text x="41.75" y="109.6" text-anchor="middle" textLength="2.4" lengthAdjust="spacingAndGlyphs">1</text>
<text x="41.75" y="144.05" text-anchor="middle" textLength="2.4" lengthAdjust="spacingAndGlyphs">1</text>
<text x="52.5" y="109.6" text-anchor="middle" textLength="2.4" lengthAdjust="spacingAndGlyphs">2</text>
<text x="52.5" y="144.05" text-anchor="middle" textLength="2.4" lengthAdjust="spacingAndGlyphs">2</text>
<text x="63.24" y="109.6" text-anchor="middle" textLength="2.4" lengthAdjust="spacingAndGlyphs">3</text>
<text x="63.24" y="144.05" text-anchor="middle" textLength="2.4" lengthAdjust="spacingAndGlyphs">3</text>
<text x="73.98" y="109.6" text-anchor="middle" textLength="2.4" lengthAdjust="spacingAndGlyphs">4</text>
<text x="73.98" y="144.05" text-anchor="middle" textLength="2.4" lengthAdjust="spacingAndGlyphs">4</text>
<text x="84.72" y="109.6" text-anchor="middle" textLength="2.4" lengthAdjust="spacingAndGlyphs">5</text>
<text x="84.72" y="144.05" text-anchor="middle" textLength="2.4" lengthAdjust="spacingAndGlyphs">5</text>
<text x="95.47" y="109.6" text-anchor="middle" textLength="2.4" lengthAdjust="spacingAndGlyphs">6</text>
<text x="95.47" y="144.05" text-anchor="middle" textLength="2.4" lengthAdjust="spacingAndGlyphs">6</text>
<text x="106.21" y="109.6" text-anchor="middle" textLength="2.4" lengthAdjust="spacingAndGlyphs">7</text>
<text x="106.21" y="144.05" text-anchor="middle" textLength="2.4" lengthAdjust="spacingAndGlyphs">7</text>
<text x="116.95" y="109.6" text-anchor="middle" textLength="2.4" lengthAdjust="spacingAndGlyphs">8</text>
<text x="116.95" y="144.05" text-anchor="middle" textLength="2.4" lengthAdjust="spacingAndGlyphs">8</text>
<text x="127.7" y="109.6" text-anchor="middle" textLength="2.4" lengthAdjust="spacingAndGlyphs">9</text>
<text x="127.7" y="144.05" text-anchor="middle" textLength="2.4" lengthAdjust="spacingAndGlyphs">9</text>
<text x="138.44" y="109.6" text-anchor="middle" textLength="4.8" lengthAdjust="spacingAndGlyphs">10</text>
<text x="138.44" y="144.05" text-anchor="middle" textLength="4.8" lengthAdjust="spacingAndGlyphs">10</text>
<text x="149.18" y="109.6" text-anchor="middle" textLength="4.48" lengthAdjust="spacingAndGlyphs">11</text>
<text x="149.18" y="144.05" text-anchor="middle" textLength="4.48" lengthAdjust="spacingAndGlyphs">11</text>
<text x="159.93" y="109.6" text-anchor="middle" textLength="4.8" lengthAdjust="spacingAndGlyphs">12</text>
<text x="159.93" y="144.05" text-anchor="middle" textLength="4.8" lengthAdjust="spacingAndGlyphs">12</text>
<text x="170.67" y="109.6" text-anchor="middle" textLength="4.8" lengthAdjust="spacingAndGlyphs">13</text>
<text x="170.67" y="144.05" text-anchor="middle" textLength="4.8" lengthAdjust="spacingAndGlyphs">13</text>
<text x="181.41" y="109.6" text-anchor="middle" textLength="4.8" lengthAdjust="spacingAndGlyphs">14</text>
<text x="181.41" y="144.05" text-anchor="middle" textLength="4.8" lengthAdjust="spacingAndGlyphs">14</text>
<text x="192.16" y="109.6" text-anchor="middle" textLength="4.8" lengthAdjust="spacingAndGlyphs">15</text>
<text x="192.16" y="144.05" text-anchor="middle" textLength="4.8" lengthAdjust="spacingAndGlyphs">15</text>
<text x="202.9" y="109.6" text-anchor="middle" textLength="4.8" lengthAdjust="spacingAndGlyphs">16</text>
<text x="202.9" y="144.05" text-anchor="middle" textLength="4.8" lengthAdjust="spacingAndGlyphs">16</text>
</g>
<g font-family='"Liberation Sans", sans-serif' font-size="5.6" fill="#2a2a2a" stroke="#2a2a2a" stroke-width="0.14" text-anchor="middle">
<text x="116.8" y="115.25">Time(years)</text>
<text x="116.8" y="149.75">Time(years)</text>
<text transform="translate(8.6,67.5) rotate(-90)" font-size="5.6">Overall survival</text>
<text transform="translate(8.7,134.1) rotate(-90)" font-size="5.6">NSUN6</text>
</g>
<g font-family='"Liberation Sans", sans-serif' font-size="4.7" text-anchor="end" stroke-width="0.12">
<text x="19.9" y="133" fill="#ff0000" stroke="#ff0000">high</text>
<text x="19.9" y="137" fill="#0000ff" stroke="#0000ff">low</text>
</g>
<g font-family='"Liberation Sans", sans-serif' font-size="5" fill="#222" stroke="#222" stroke-width="0.15" text-anchor="middle">
<text x="31.01" y="133.4" textLength="7.76" lengthAdjust="spacingAndGlyphs">827</text>
<text x="41.75" y="133.4" textLength="7.76" lengthAdjust="spacingAndGlyphs">698</text>
<text x="52.5" y="133.4" textLength="7.76" lengthAdjust="spacingAndGlyphs">541</text>
<text x="63.24" y="133.4" textLength="7.76" lengthAdjust="spacingAndGlyphs">398</text>
<text x="73.98" y="133.4" textLength="7.76" lengthAdjust="spacingAndGlyphs">304</text>
<text x="84.72" y="133.4" textLength="7.76" lengthAdjust="spacingAndGlyphs">237</text>
<text x="95.47" y="133.4" textLength="7.76" lengthAdjust="spacingAndGlyphs">182</text>
<text x="106.21" y="133.4" textLength="7.41" lengthAdjust="spacingAndGlyphs">117</text>
<text x="116.95" y="133.4" textLength="5.17" lengthAdjust="spacingAndGlyphs">72</text>
<text x="127.7" y="133.4" textLength="5.17" lengthAdjust="spacingAndGlyphs">53</text>
<text x="138.44" y="133.4" textLength="5.17" lengthAdjust="spacingAndGlyphs">42</text>
<text x="149.18" y="133.4" textLength="5.17" lengthAdjust="spacingAndGlyphs">27</text>
<text x="159.93" y="133.4" textLength="5.17" lengthAdjust="spacingAndGlyphs">14</text>
<text x="170.67" y="133.4" textLength="2.59" lengthAdjust="spacingAndGlyphs">8</text>
<text x="181.41" y="133.4" textLength="2.59" lengthAdjust="spacingAndGlyphs">6</text>
<text x="192.16" y="133.4" textLength="2.59" lengthAdjust="spacingAndGlyphs">4</text>
<text x="202.9" y="133.4" textLength="2.59" lengthAdjust="spacingAndGlyphs">1</text>
<text x="31.01" y="137.7" textLength="7.76" lengthAdjust="spacingAndGlyphs">131</text>
<text x="41.75" y="137.7" textLength="7.41" lengthAdjust="spacingAndGlyphs">117</text>
<text x="52.5" y="137.7" textLength="5.17" lengthAdjust="spacingAndGlyphs">92</text>
<text x="63.24" y="137.7" textLength="5.17" lengthAdjust="spacingAndGlyphs">75</text>
<text x="73.98" y="137.7" textLength="5.17" lengthAdjust="spacingAndGlyphs">56</text>
<text x="84.72" y="137.7" textLength="5.17" lengthAdjust="spacingAndGlyphs">42</text>
<text x="95.47" y="137.7" textLength="5.17" lengthAdjust="spacingAndGlyphs">35</text>
<text x="106.21" y="137.7" textLength="5.17" lengthAdjust="spacingAndGlyphs">22</text>
<text x="116.95" y="137.7" textLength="5.17" lengthAdjust="spacingAndGlyphs">14</text>
<text x="127.7" y="137.7" textLength="4.83" lengthAdjust="spacingAndGlyphs">11</text>
<text x="138.44" y="137.7" textLength="2.59" lengthAdjust="spacingAndGlyphs">7</text>
<text x="149.18" y="137.7" textLength="2.59" lengthAdjust="spacingAndGlyphs">5</text>
<text x="159.93" y="137.7" textLength="2.59" lengthAdjust="spacingAndGlyphs">3</text>
<text x="170.67" y="137.7" textLength="2.59" lengthAdjust="spacingAndGlyphs">3</text>
<text x="181.41" y="137.7" textLength="2.59" lengthAdjust="spacingAndGlyphs">0</text>
<text x="192.16" y="137.7" textLength="2.59" lengthAdjust="spacingAndGlyphs">0</text>
<text x="202.9" y="137.7" textLength="2.59" lengthAdjust="spacingAndGlyphs">0</text>
</g>
<text x="34.1" y="90.2" font-family='"Liberation Sans", sans-serif' font-size="6.5" fill="#222" stroke="#222" stroke-width="0.15">p=0.008</text>
</g>
<path d="M491.39,338.12 L532.93,356.22 L547.77,360.38 L581,367.35 L580.93,366.91 L586.28,368.9 L619.9,368.44 L653.52,368.44 L653.52,363.4 L668.8,363.4 L668.8,391.82 L653.52,391.82 L653.52,378.68 L619.9,378.68 L607.68,375.32 L586.28,374.55 L580.93,372.26 L581,372.25 L547.77,363.64 L532.93,359.19 L491.39,338.12 Z" fill="#ff0000" stroke="#ff0000" stroke-width="0.9" stroke-linejoin="round" opacity="0.3"/>
<path d="M491.39,338.12 L503.26,338.42 L510.67,342.13 L532.19,344.35 L533.67,346.58 L555.18,348.8 L558.15,350.29 L581,350.29 L580.93,350.1 L607.68,350.1 L608.44,347.81 L637.02,347.81 L637.02,375.32 L608.44,375.32 L607.68,363.09 L580.93,363.09 L581,363.64 L558.15,362.9 L555.18,360.67 L543.31,358.45 L533.67,356.22 L532.19,351.77 L519.58,348.8 L510.67,345.84 L503.26,341.39 L491.39,338.12 Z" fill="#0000ff" stroke="#0000ff" stroke-width="0.9" stroke-linejoin="round" opacity="0.3"/>
<path d="M491.39,338.12 L503.26,343.61 M503.26,343.61 L518.09,349.55 M518.09,349.55 L532.93,357.71 M532.93,357.71 L547.77,362.16 M547.77,362.16 L562.6,365.42 M562.6,365.42 L581,369.87 M580.93,369.2 L586.28,371.5 M586.28,371.5 L607.68,371.96 M607.68,371.96 L619.9,372.57 M619.9,372.57 L620.67,374.09" fill="none" stroke="#ff0000" stroke-width="1.9" stroke-linecap="round"/>
<path d="M581,369.87 L580.93,369.2 M620.67,374.09 L653.52,374.09 M653.52,374.09 L653.52,381.12 M653.52,381.12 L669.57,381.12" fill="none" stroke="#ff0000" stroke-width="1.15" stroke-linecap="round"/>
<path d="M625.91,372.69 V374.89 M629.58,372.69 V374.89 M634.11,372.69 V374.89 M637.86,372.69 V374.89 M644.39,372.69 V374.89 M648.32,372.69 V374.89 M656.14,379.72 V381.92 M663.05,379.72 V381.92 M667.17,379.72 V381.92" fill="none" stroke="#ff0000" stroke-width="0.9"/>
<path d="M491.39,338.12 L495.84,339.16 M495.84,339.16 L503.26,340.64 M503.26,340.64 L510.67,344.35 M510.67,344.35 L519.58,345.84 M519.58,345.84 L525.51,347.62 M525.51,347.62 L532.19,348.06 M532.19,348.06 L533.67,351.03 M533.67,351.03 L543.31,353.26 M543.31,353.26 L555.18,354.74 M555.18,354.74 L558.15,357.41 M607.68,357.28 L608.44,363.55" fill="none" stroke="#0000ff" stroke-width="1.9" stroke-linecap="round"/>
<path d="M558.15,357.41 L581,357.41 M581,357.41 L580.93,356.98 M580.93,356.98 L607.68,357.28 M608.44,363.55 L637.48,363.55" fill="none" stroke="#0000ff" stroke-width="1.15" stroke-linecap="round"/>
<path d="M560.32,356.01 V358.21 M567.16,356.01 V358.21 M571.08,356.01 V358.21 M574.9,356.01 V358.21 M579.58,356.01 V358.21 M583.15,355.58 V357.78 M590.27,355.58 V357.78 M594.11,355.58 V357.78 M598.81,355.58 V357.78 M601.5,355.58 V357.78 M610.99,362.15 V364.35 M617.73,362.15 V364.35 M621.38,362.15 V364.35 M625.11,362.15 V364.35 M631.6,362.15 V364.35 M635.51,362.15 V364.35" fill="none" stroke="#0000ff" stroke-width="0.9"/>
<text x="462.6" y="326.3" font-family='"Liberation Serif", serif' font-weight="bold" font-size="17.3" fill="#000">I</text>
<g transform="translate(-0.97,457.75)">
<g font-family='"Liberation Sans", sans-serif' font-size="3.9" fill="#2a2a2a" stroke="#2a2a2a" stroke-width="0.12">
<text x="93.19" y="22.7">TRMT6</text>
<rect x="108.19" y="18.3" width="6.5" height="6" fill="#ffb3b3"/>
<line x1="108.69" y1="21.3" x2="114.19" y2="21.3" stroke="#ff0000" stroke-width="0.9"/>
<line x1="111.44" y1="20.1" x2="111.44" y2="21.9" stroke="#ff0000" stroke-width="0.7"/>
<text x="116.69" y="22.7">high</text>
<rect x="126.06" y="18.3" width="6.5" height="6" fill="#b3b3ff"/>
<line x1="126.56" y1="21.3" x2="132.06" y2="21.3" stroke="#0000ff" stroke-width="0.9"/>
<line x1="129.31" y1="20.1" x2="129.31" y2="21.9" stroke="#0000ff" stroke-width="0.7"/>
<text x="134.56" y="22.7">low</text>
</g>
<g stroke="#4d4d4d" stroke-width="0.75" fill="none">
<path d="M22.2,32 V103.6 H211.4"/>
<path d="M20.7,100.2 H22.2"/>
<path d="M20.7,83.9 H22.2"/>
<path d="M20.7,67.6 H22.2"/>
<path d="M20.7,51.3 H22.2"/>
<path d="M20.7,35 H22.2"/>
<path d="M30.44,103.6 V105.1"/>
<path d="M41.19,103.6 V105.1"/>
<path d="M51.94,103.6 V105.1"/>
<path d="M62.69,103.6 V105.1"/>
<path d="M73.44,103.6 V105.1"/>
<path d="M84.19,103.6 V105.1"/>
<path d="M94.94,103.6 V105.1"/>
<path d="M105.69,103.6 V105.1"/>
<path d="M116.44,103.6 V105.1"/>
<path d="M127.19,103.6 V105.1"/>
<path d="M137.94,103.6 V105.1"/>
<path d="M148.69,103.6 V105.1"/>
<path d="M159.44,103.6 V105.1"/>
<path d="M170.19,103.6 V105.1"/>
<path d="M180.94,103.6 V105.1"/>
<path d="M191.69,103.6 V105.1"/>
<path d="M202.44,103.6 V105.1"/>
<path d="M22.2,129 V138.6 H211.4"/>
<path d="M30.44,138.6 V140.1"/>
<path d="M41.19,138.6 V140.1"/>
<path d="M51.94,138.6 V140.1"/>
<path d="M62.69,138.6 V140.1"/>
<path d="M73.44,138.6 V140.1"/>
<path d="M84.19,138.6 V140.1"/>
<path d="M94.94,138.6 V140.1"/>
<path d="M105.69,138.6 V140.1"/>
<path d="M116.44,138.6 V140.1"/>
<path d="M127.19,138.6 V140.1"/>
<path d="M137.94,138.6 V140.1"/>
<path d="M148.69,138.6 V140.1"/>
<path d="M159.44,138.6 V140.1"/>
<path d="M170.19,138.6 V140.1"/>
<path d="M180.94,138.6 V140.1"/>
<path d="M191.69,138.6 V140.1"/>
<path d="M202.44,138.6 V140.1"/>
<path d="M21,131.6 H22.2 M21,135.8 H22.2"/>
</g>
<g font-family='"Liberation Sans", sans-serif' font-size="4.8" fill="#2a2a2a" stroke="#2a2a2a" stroke-width="0.18">
<text x="19.7" y="101.85" text-anchor="end" textLength="8" lengthAdjust="spacingAndGlyphs">0.00</text>
<text x="19.7" y="85.55" text-anchor="end" textLength="8" lengthAdjust="spacingAndGlyphs">0.25</text>
<text x="19.7" y="69.25" text-anchor="end" textLength="8" lengthAdjust="spacingAndGlyphs">0.50</text>
<text x="19.7" y="52.95" text-anchor="end" textLength="8" lengthAdjust="spacingAndGlyphs">0.75</text>
<text x="19.7" y="36.65" text-anchor="end" textLength="8" lengthAdjust="spacingAndGlyphs">1.00</text>
<text x="30.44" y="109.6" text-anchor="middle" textLength="2.4" lengthAdjust="spacingAndGlyphs">0</text>
<text x="30.44" y="144.05" text-anchor="middle" textLength="2.4" lengthAdjust="spacingAndGlyphs">0</text>
<text x="41.19" y="109.6" text-anchor="middle" textLength="2.4" lengthAdjust="spacingAndGlyphs">1</text>
<text x="41.19" y="144.05" text-anchor="middle" textLength="2.4" lengthAdjust="spacingAndGlyphs">1</text>
<text x="51.94" y="109.6" text-anchor="middle" textLength="2.4" lengthAdjust="spacingAndGlyphs">2</text>
<text x="51.94" y="144.05" text-anchor="middle" textLength="2.4" lengthAdjust="spacingAndGlyphs">2</text>
<text x="62.69" y="109.6" text-anchor="middle" textLength="2.4" lengthAdjust="spacingAndGlyphs">3</text>
<text x="62.69" y="144.05" text-anchor="middle" textLength="2.4" lengthAdjust="spacingAndGlyphs">3</text>
<text x="73.44" y="109.6" text-anchor="middle" textLength="2.4" lengthAdjust="spacingAndGlyphs">4</text>
<text x="73.44" y="144.05" text-anchor="middle" textLength="2.4" lengthAdjust="spacingAndGlyphs">4</text>
<text x="84.19" y="109.6" text-anchor="middle" textLength="2.4" lengthAdjust="spacingAndGlyphs">5</text>
<text x="84.19" y="144.05" text-anchor="middle" textLength="2.4" lengthAdjust="spacingAndGlyphs">5</text>
<text x="94.94" y="109.6" text-anchor="middle" textLength="2.4" lengthAdjust="spacingAndGlyphs">6</text>
<text x="94.94" y="144.05" text-anchor="middle" textLength="2.4" lengthAdjust="spacingAndGlyphs">6</text>
<text x="105.69" y="109.6" text-anchor="middle" textLength="2.4" lengthAdjust="spacingAndGlyphs">7</text>
<text x="105.69" y="144.05" text-anchor="middle" textLength="2.4" lengthAdjust="spacingAndGlyphs">7</text>
<text x="116.44" y="109.6" text-anchor="middle" textLength="2.4" lengthAdjust="spacingAndGlyphs">8</text>
<text x="116.44" y="144.05" text-anchor="middle" textLength="2.4" lengthAdjust="spacingAndGlyphs">8</text>
<text x="127.19" y="109.6" text-anchor="middle" textLength="2.4" lengthAdjust="spacingAndGlyphs">9</text>
<text x="127.19" y="144.05" text-anchor="middle" textLength="2.4" lengthAdjust="spacingAndGlyphs">9</text>
<text x="137.94" y="109.6" text-anchor="middle" textLength="4.8" lengthAdjust="spacingAndGlyphs">10</text>
<text x="137.94" y="144.05" text-anchor="middle" textLength="4.8" lengthAdjust="spacingAndGlyphs">10</text>
<text x="148.69" y="109.6" text-anchor="middle" textLength="4.48" lengthAdjust="spacingAndGlyphs">11</text>
<text x="148.69" y="144.05" text-anchor="middle" textLength="4.48" lengthAdjust="spacingAndGlyphs">11</text>
<text x="159.44" y="109.6" text-anchor="middle" textLength="4.8" lengthAdjust="spacingAndGlyphs">12</text>
<text x="159.44" y="144.05" text-anchor="middle" textLength="4.8" lengthAdjust="spacingAndGlyphs">12</text>
<text x="170.19" y="109.6" text-anchor="middle" textLength="4.8" lengthAdjust="spacingAndGlyphs">13</text>
<text x="170.19" y="144.05" text-anchor="middle" textLength="4.8" lengthAdjust="spacingAndGlyphs">13</text>
<text x="180.94" y="109.6" text-anchor="middle" textLength="4.8" lengthAdjust="spacingAndGlyphs">14</text>
<text x="180.94" y="144.05" text-anchor="middle" textLength="4.8" lengthAdjust="spacingAndGlyphs">14</text>
<text x="191.69" y="109.6" text-anchor="middle" textLength="4.8" lengthAdjust="spacingAndGlyphs">15</text>
<text x="191.69" y="144.05" text-anchor="middle" textLength="4.8" lengthAdjust="spacingAndGlyphs">15</text>
<text x="202.44" y="109.6" text-anchor="middle" textLength="4.8" lengthAdjust="spacingAndGlyphs">16</text>
<text x="202.44" y="144.05" text-anchor="middle" textLength="4.8" lengthAdjust="spacingAndGlyphs">16</text>
</g>
<g font-family='"Liberation Sans", sans-serif' font-size="5.6" fill="#2a2a2a" stroke="#2a2a2a" stroke-width="0.14" text-anchor="middle">
<text x="116.8" y="115.25">Time(years)</text>
<text x="116.8" y="149.75">Time(years)</text>
<text transform="translate(8.6,67.5) rotate(-90)" font-size="5.6">Overall survival</text>
<text transform="translate(8.7,134.1) rotate(-90)" font-size="5.6">TRMT6</text>
</g>
<g font-family='"Liberation Sans", sans-serif' font-size="4.7" text-anchor="end" stroke-width="0.12">
<text x="19.9" y="133" fill="#ff0000" stroke="#ff0000">high</text>
<text x="19.9" y="137" fill="#0000ff" stroke="#0000ff">low</text>
</g>
<g font-family='"Liberation Sans", sans-serif' font-size="5" fill="#222" stroke="#222" stroke-width="0.15" text-anchor="middle">
<text x="30.44" y="133.4" textLength="7.76" lengthAdjust="spacingAndGlyphs">205</text>
<text x="41.19" y="133.4" textLength="7.76" lengthAdjust="spacingAndGlyphs">172</text>
<text x="51.94" y="133.4" textLength="7.76" lengthAdjust="spacingAndGlyphs">134</text>
<text x="62.69" y="133.4" textLength="7.76" lengthAdjust="spacingAndGlyphs">103</text>
<text x="73.44" y="133.4" textLength="5.17" lengthAdjust="spacingAndGlyphs">79</text>
<text x="84.19" y="133.4" textLength="5.17" lengthAdjust="spacingAndGlyphs">59</text>
<text x="94.94" y="133.4" textLength="5.17" lengthAdjust="spacingAndGlyphs">47</text>
<text x="105.69" y="133.4" textLength="5.17" lengthAdjust="spacingAndGlyphs">29</text>
<text x="116.44" y="133.4" textLength="5.17" lengthAdjust="spacingAndGlyphs">18</text>
<text x="127.19" y="133.4" textLength="5.17" lengthAdjust="spacingAndGlyphs">15</text>
<text x="137.94" y="133.4" textLength="2.59" lengthAdjust="spacingAndGlyphs">9</text>
<text x="148.69" y="133.4" textLength="2.59" lengthAdjust="spacingAndGlyphs">5</text>
<text x="159.44" y="133.4" textLength="2.59" lengthAdjust="spacingAndGlyphs">2</text>
<text x="170.19" y="133.4" textLength="2.59" lengthAdjust="spacingAndGlyphs">1</text>
<text x="180.94" y="133.4" textLength="2.59" lengthAdjust="spacingAndGlyphs">0</text>
<text x="191.69" y="133.4" textLength="2.59" lengthAdjust="spacingAndGlyphs">0</text>
<text x="202.44" y="133.4" textLength="2.59" lengthAdjust="spacingAndGlyphs">0</text>
<text x="30.44" y="137.7" textLength="7.76" lengthAdjust="spacingAndGlyphs">753</text>
<text x="41.19" y="137.7" textLength="7.76" lengthAdjust="spacingAndGlyphs">643</text>
<text x="51.94" y="137.7" textLength="7.76" lengthAdjust="spacingAndGlyphs">496</text>
<text x="62.69" y="137.7" textLength="7.76" lengthAdjust="spacingAndGlyphs">368</text>
<text x="73.44" y="137.7" textLength="7.76" lengthAdjust="spacingAndGlyphs">281</text>
<text x="84.19" y="137.7" textLength="7.76" lengthAdjust="spacingAndGlyphs">220</text>
<text x="94.94" y="137.7" textLength="7.76" lengthAdjust="spacingAndGlyphs">168</text>
<text x="105.69" y="137.7" textLength="7.41" lengthAdjust="spacingAndGlyphs">110</text>
<text x="116.44" y="137.7" textLength="5.17" lengthAdjust="spacingAndGlyphs">68</text>
<text x="127.19" y="137.7" textLength="5.17" lengthAdjust="spacingAndGlyphs">48</text>
<text x="137.94" y="137.7" textLength="5.17" lengthAdjust="spacingAndGlyphs">40</text>
<text x="148.69" y="137.7" textLength="5.17" lengthAdjust="spacingAndGlyphs">27</text>
<text x="159.44" y="137.7" textLength="5.17" lengthAdjust="spacingAndGlyphs">15</text>
<text x="170.19" y="137.7" textLength="2.59" lengthAdjust="spacingAndGlyphs">9</text>
<text x="180.94" y="137.7" textLength="2.59" lengthAdjust="spacingAndGlyphs">6</text>
<text x="191.69" y="137.7" textLength="2.59" lengthAdjust="spacingAndGlyphs">4</text>
<text x="202.44" y="137.7" textLength="2.59" lengthAdjust="spacingAndGlyphs">1</text>
</g>
<text x="34.1" y="90.2" font-family='"Liberation Sans", sans-serif' font-size="6.5" fill="#222" stroke="#222" stroke-width="0.15">p=0.047</text>
</g>
<path d="M29.68,492.12 L56.09,503.99 L70.93,510.22 L85.77,514.67 L119,521.35 L118.97,521.61 L123.8,523.17 L158.07,523.95 L158.07,513.35 L174.74,513.35 L174.74,549.18 L158.07,549.18 L157.29,535.63 L123.8,535.63 L118.97,532.51 L119,531.29 L100.6,528.77 L85.77,522.09 L70.93,517.64 L56.09,508 L29.68,492.12 Z" fill="#ff0000" stroke="#ff0000" stroke-width="0.9" stroke-linejoin="round" opacity="0.3"/>
<path d="M29.68,491.68 L56.09,502.06 L70.93,507.26 L100.6,512.89 L119,515.42 L118.97,516.16 L124.58,518.03 L190.79,518.49 L190.79,511.8 L207.46,511.8 L207.46,543.11 L190.79,543.11 L190.79,527.37 L129.25,525.82 L124.58,524.26 L118.97,522.39 L119,521.35 L100.6,516.9 L70.93,510.52 L56.09,504.29 L29.68,491.68 Z" fill="#0000ff" stroke="#0000ff" stroke-width="0.9" stroke-linejoin="round" opacity="0.3"/>
<path d="M29.68,492.12 L41.26,499.09 M41.26,499.09 L56.09,505.03 M56.09,505.03 L70.93,511.71 M70.93,511.71 L85.77,516.9 M85.77,516.9 L93.18,519.87 M93.18,519.87 L100.6,521.35 M100.6,521.35 L110.99,523.58 M110.99,523.58 L119,525.06 M118.97,525.19 L123.02,526.28 M123.02,526.28 L123.8,528.93 M157.29,528.93 L158.07,538.43" fill="none" stroke="#ff0000" stroke-width="1.9" stroke-linecap="round"/>
<path d="M119,525.06 L118.97,525.19 M123.8,528.93 L157.29,528.93 M158.07,538.43 L175.21,538.43" fill="none" stroke="#ff0000" stroke-width="1.15" stroke-linecap="round"/>
<path d="M126.35,527.53 V529.73 M129.92,527.53 V529.73 M133.66,527.53 V529.73 M136.25,527.53 V529.73 M140.59,527.53 V529.73 M148.16,527.53 V529.73 M155.08,527.53 V529.73 M159.71,537.03 V539.23 M164.1,537.03 V539.23 M168.4,537.03 V539.23 M173.3,537.03 V539.23" fill="none" stroke="#ff0000" stroke-width="0.9"/>
<path d="M29.68,491.68 L41.26,497.61 M41.26,497.61 L56.09,503.1 M56.09,503.1 L70.93,508.74 M70.93,508.74 L85.77,512 M85.77,512 L100.6,514.67 M100.6,514.67 L119,518.38 M118.97,517.72 L124.58,520.83 M124.58,520.83 L129.25,522.08 M146.39,522.08 L147.95,523.17 M190.79,523.17 L191.26,531.42" fill="none" stroke="#0000ff" stroke-width="1.9" stroke-linecap="round"/>
<path d="M119,518.38 L118.97,517.72 M129.25,522.08 L146.39,522.08 M147.95,523.17 L190.79,523.17 M191.26,531.42 L207.46,531.42" fill="none" stroke="#0000ff" stroke-width="1.15" stroke-linecap="round"/>
<path d="M131.4,520.68 V522.88 M136.3,520.68 V522.88 M140.68,520.68 V522.88 M143.84,520.68 V522.88 M150.33,521.77 V523.97 M156.36,521.77 V523.97 M164.22,521.77 V523.97 M167.81,521.77 V523.97 M174.44,521.77 V523.97 M178.11,521.77 V523.97 M182.29,521.77 V523.97 M186.14,521.77 V523.97 M192.93,530.02 V532.22 M197,530.02 V532.22 M201.67,530.02 V532.22 M206.17,530.02 V532.22" fill="none" stroke="#0000ff" stroke-width="0.9"/>
<text x="0.5" y="481.1" font-family='"Liberation Serif", serif' font-weight="bold" font-size="17.3" fill="#000">J</text>
<g transform="translate(231.04,458.3)">
<g font-family='"Liberation Sans", sans-serif' font-size="3.9" fill="#2a2a2a" stroke="#2a2a2a" stroke-width="0.12">
<text x="94.2" y="22.7">WTAP</text>
<rect x="107.18" y="18.3" width="6.5" height="6" fill="#ffb3b3"/>
<line x1="107.68" y1="21.3" x2="113.18" y2="21.3" stroke="#ff0000" stroke-width="0.9"/>
<line x1="110.43" y1="20.1" x2="110.43" y2="21.9" stroke="#ff0000" stroke-width="0.7"/>
<text x="115.68" y="22.7">high</text>
<rect x="125.05" y="18.3" width="6.5" height="6" fill="#b3b3ff"/>
<line x1="125.55" y1="21.3" x2="131.05" y2="21.3" stroke="#0000ff" stroke-width="0.9"/>
<line x1="128.3" y1="20.1" x2="128.3" y2="21.9" stroke="#0000ff" stroke-width="0.7"/>
<text x="133.55" y="22.7">low</text>
</g>
<g stroke="#4d4d4d" stroke-width="0.75" fill="none">
<path d="M22.2,32 V103.6 H211.4"/>
<path d="M20.7,100.2 H22.2"/>
<path d="M20.7,83.9 H22.2"/>
<path d="M20.7,67.6 H22.2"/>
<path d="M20.7,51.3 H22.2"/>
<path d="M20.7,35 H22.2"/>
<path d="M30.43,103.6 V105.1"/>
<path d="M41.18,103.6 V105.1"/>
<path d="M51.93,103.6 V105.1"/>
<path d="M62.68,103.6 V105.1"/>
<path d="M73.43,103.6 V105.1"/>
<path d="M84.18,103.6 V105.1"/>
<path d="M94.93,103.6 V105.1"/>
<path d="M105.68,103.6 V105.1"/>
<path d="M116.43,103.6 V105.1"/>
<path d="M127.18,103.6 V105.1"/>
<path d="M137.93,103.6 V105.1"/>
<path d="M148.68,103.6 V105.1"/>
<path d="M159.43,103.6 V105.1"/>
<path d="M170.18,103.6 V105.1"/>
<path d="M180.93,103.6 V105.1"/>
<path d="M191.68,103.6 V105.1"/>
<path d="M202.43,103.6 V105.1"/>
<path d="M22.2,129.5 V139.1 H211.4"/>
<path d="M30.43,139.1 V140.6"/>
<path d="M41.18,139.1 V140.6"/>
<path d="M51.93,139.1 V140.6"/>
<path d="M62.68,139.1 V140.6"/>
<path d="M73.43,139.1 V140.6"/>
<path d="M84.18,139.1 V140.6"/>
<path d="M94.93,139.1 V140.6"/>
<path d="M105.68,139.1 V140.6"/>
<path d="M116.43,139.1 V140.6"/>
<path d="M127.18,139.1 V140.6"/>
<path d="M137.93,139.1 V140.6"/>
<path d="M148.68,139.1 V140.6"/>
<path d="M159.43,139.1 V140.6"/>
<path d="M170.18,139.1 V140.6"/>
<path d="M180.93,139.1 V140.6"/>
<path d="M191.68,139.1 V140.6"/>
<path d="M202.43,139.1 V140.6"/>
<path d="M21,132.1 H22.2 M21,136.3 H22.2"/>
</g>
<g font-family='"Liberation Sans", sans-serif' font-size="4.8" fill="#2a2a2a" stroke="#2a2a2a" stroke-width="0.18">
<text x="19.7" y="101.85" text-anchor="end" textLength="8" lengthAdjust="spacingAndGlyphs">0.00</text>
<text x="19.7" y="85.55" text-anchor="end" textLength="8" lengthAdjust="spacingAndGlyphs">0.25</text>
<text x="19.7" y="69.25" text-anchor="end" textLength="8" lengthAdjust="spacingAndGlyphs">0.50</text>
<text x="19.7" y="52.95" text-anchor="end" textLength="8" lengthAdjust="spacingAndGlyphs">0.75</text>
<text x="19.7" y="36.65" text-anchor="end" textLength="8" lengthAdjust="spacingAndGlyphs">1.00</text>
<text x="30.43" y="109.6" text-anchor="middle" textLength="2.4" lengthAdjust="spacingAndGlyphs">0</text>
<text x="30.43" y="144.55" text-anchor="middle" textLength="2.4" lengthAdjust="spacingAndGlyphs">0</text>
<text x="41.18" y="109.6" text-anchor="middle" textLength="2.4" lengthAdjust="spacingAndGlyphs">1</text>
<text x="41.18" y="144.55" text-anchor="middle" textLength="2.4" lengthAdjust="spacingAndGlyphs">1</text>
<text x="51.93" y="109.6" text-anchor="middle" textLength="2.4" lengthAdjust="spacingAndGlyphs">2</text>
<text x="51.93" y="144.55" text-anchor="middle" textLength="2.4" lengthAdjust="spacingAndGlyphs">2</text>
<text x="62.68" y="109.6" text-anchor="middle" textLength="2.4" lengthAdjust="spacingAndGlyphs">3</text>
<text x="62.68" y="144.55" text-anchor="middle" textLength="2.4" lengthAdjust="spacingAndGlyphs">3</text>
<text x="73.43" y="109.6" text-anchor="middle" textLength="2.4" lengthAdjust="spacingAndGlyphs">4</text>
<text x="73.43" y="144.55" text-anchor="middle" textLength="2.4" lengthAdjust="spacingAndGlyphs">4</text>
<text x="84.18" y="109.6" text-anchor="middle" textLength="2.4" lengthAdjust="spacingAndGlyphs">5</text>
<text x="84.18" y="144.55" text-anchor="middle" textLength="2.4" lengthAdjust="spacingAndGlyphs">5</text>
<text x="94.93" y="109.6" text-anchor="middle" textLength="2.4" lengthAdjust="spacingAndGlyphs">6</text>
<text x="94.93" y="144.55" text-anchor="middle" textLength="2.4" lengthAdjust="spacingAndGlyphs">6</text>
<text x="105.68" y="109.6" text-anchor="middle" textLength="2.4" lengthAdjust="spacingAndGlyphs">7</text>
<text x="105.68" y="144.55" text-anchor="middle" textLength="2.4" lengthAdjust="spacingAndGlyphs">7</text>
<text x="116.43" y="109.6" text-anchor="middle" textLength="2.4" lengthAdjust="spacingAndGlyphs">8</text>
<text x="116.43" y="144.55" text-anchor="middle" textLength="2.4" lengthAdjust="spacingAndGlyphs">8</text>
<text x="127.18" y="109.6" text-anchor="middle" textLength="2.4" lengthAdjust="spacingAndGlyphs">9</text>
<text x="127.18" y="144.55" text-anchor="middle" textLength="2.4" lengthAdjust="spacingAndGlyphs">9</text>
<text x="137.93" y="109.6" text-anchor="middle" textLength="4.8" lengthAdjust="spacingAndGlyphs">10</text>
<text x="137.93" y="144.55" text-anchor="middle" textLength="4.8" lengthAdjust="spacingAndGlyphs">10</text>
<text x="148.68" y="109.6" text-anchor="middle" textLength="4.48" lengthAdjust="spacingAndGlyphs">11</text>
<text x="148.68" y="144.55" text-anchor="middle" textLength="4.48" lengthAdjust="spacingAndGlyphs">11</text>
<text x="159.43" y="109.6" text-anchor="middle" textLength="4.8" lengthAdjust="spacingAndGlyphs">12</text>
<text x="159.43" y="144.55" text-anchor="middle" textLength="4.8" lengthAdjust="spacingAndGlyphs">12</text>
<text x="170.18" y="109.6" text-anchor="middle" textLength="4.8" lengthAdjust="spacingAndGlyphs">13</text>
<text x="170.18" y="144.55" text-anchor="middle" textLength="4.8" lengthAdjust="spacingAndGlyphs">13</text>
<text x="180.93" y="109.6" text-anchor="middle" textLength="4.8" lengthAdjust="spacingAndGlyphs">14</text>
<text x="180.93" y="144.55" text-anchor="middle" textLength="4.8" lengthAdjust="spacingAndGlyphs">14</text>
<text x="191.68" y="109.6" text-anchor="middle" textLength="4.8" lengthAdjust="spacingAndGlyphs">15</text>
<text x="191.68" y="144.55" text-anchor="middle" textLength="4.8" lengthAdjust="spacingAndGlyphs">15</text>
<text x="202.43" y="109.6" text-anchor="middle" textLength="4.8" lengthAdjust="spacingAndGlyphs">16</text>
<text x="202.43" y="144.55" text-anchor="middle" textLength="4.8" lengthAdjust="spacingAndGlyphs">16</text>
</g>
<g font-family='"Liberation Sans", sans-serif' font-size="5.6" fill="#2a2a2a" stroke="#2a2a2a" stroke-width="0.14" text-anchor="middle">
<text x="116.8" y="115.25">Time(years)</text>
<text x="116.8" y="150.25">Time(years)</text>
<text transform="translate(8.6,67.5) rotate(-90)" font-size="5.6">Overall survival</text>
<text transform="translate(8.7,134.6) rotate(-90)" font-size="5.6">WTAP</text>
</g>
<g font-family='"Liberation Sans", sans-serif' font-size="4.7" text-anchor="end" stroke-width="0.12">
<text x="19.9" y="133.5" fill="#ff0000" stroke="#ff0000">high</text>
<text x="19.9" y="137.5" fill="#0000ff" stroke="#0000ff">low</text>
</g>
<g font-family='"Liberation Sans", sans-serif' font-size="5" fill="#222" stroke="#222" stroke-width="0.15" text-anchor="middle">
<text x="30.43" y="133.9" textLength="7.76" lengthAdjust="spacingAndGlyphs">163</text>
<text x="41.18" y="133.9" textLength="7.76" lengthAdjust="spacingAndGlyphs">134</text>
<text x="51.93" y="133.9" textLength="7.76" lengthAdjust="spacingAndGlyphs">100</text>
<text x="62.68" y="133.9" textLength="5.17" lengthAdjust="spacingAndGlyphs">72</text>
<text x="73.43" y="133.9" textLength="5.17" lengthAdjust="spacingAndGlyphs">54</text>
<text x="84.18" y="133.9" textLength="5.17" lengthAdjust="spacingAndGlyphs">41</text>
<text x="94.93" y="133.9" textLength="5.17" lengthAdjust="spacingAndGlyphs">30</text>
<text x="105.68" y="133.9" textLength="5.17" lengthAdjust="spacingAndGlyphs">15</text>
<text x="116.43" y="133.9" textLength="2.59" lengthAdjust="spacingAndGlyphs">8</text>
<text x="127.18" y="133.9" textLength="2.59" lengthAdjust="spacingAndGlyphs">6</text>
<text x="137.93" y="133.9" textLength="2.59" lengthAdjust="spacingAndGlyphs">6</text>
<text x="148.68" y="133.9" textLength="2.59" lengthAdjust="spacingAndGlyphs">3</text>
<text x="159.43" y="133.9" textLength="2.59" lengthAdjust="spacingAndGlyphs">1</text>
<text x="170.18" y="133.9" textLength="2.59" lengthAdjust="spacingAndGlyphs">0</text>
<text x="180.93" y="133.9" textLength="2.59" lengthAdjust="spacingAndGlyphs">0</text>
<text x="191.68" y="133.9" textLength="2.59" lengthAdjust="spacingAndGlyphs">0</text>
<text x="202.43" y="133.9" textLength="2.59" lengthAdjust="spacingAndGlyphs">0</text>
<text x="30.43" y="138.2" textLength="7.76" lengthAdjust="spacingAndGlyphs">795</text>
<text x="41.18" y="138.2" textLength="7.76" lengthAdjust="spacingAndGlyphs">681</text>
<text x="51.93" y="138.2" textLength="7.76" lengthAdjust="spacingAndGlyphs">533</text>
<text x="62.68" y="138.2" textLength="7.76" lengthAdjust="spacingAndGlyphs">399</text>
<text x="73.43" y="138.2" textLength="7.76" lengthAdjust="spacingAndGlyphs">306</text>
<text x="84.18" y="138.2" textLength="7.76" lengthAdjust="spacingAndGlyphs">238</text>
<text x="94.93" y="138.2" textLength="7.76" lengthAdjust="spacingAndGlyphs">188</text>
<text x="105.68" y="138.2" textLength="7.76" lengthAdjust="spacingAndGlyphs">124</text>
<text x="116.43" y="138.2" textLength="5.17" lengthAdjust="spacingAndGlyphs">78</text>
<text x="127.18" y="138.2" textLength="5.17" lengthAdjust="spacingAndGlyphs">58</text>
<text x="137.93" y="138.2" textLength="5.17" lengthAdjust="spacingAndGlyphs">43</text>
<text x="148.68" y="138.2" textLength="5.17" lengthAdjust="spacingAndGlyphs">29</text>
<text x="159.43" y="138.2" textLength="5.17" lengthAdjust="spacingAndGlyphs">16</text>
<text x="170.18" y="138.2" textLength="5.17" lengthAdjust="spacingAndGlyphs">10</text>
<text x="180.93" y="138.2" textLength="2.59" lengthAdjust="spacingAndGlyphs">6</text>
<text x="191.68" y="138.2" textLength="2.59" lengthAdjust="spacingAndGlyphs">4</text>
<text x="202.43" y="138.2" textLength="2.59" lengthAdjust="spacingAndGlyphs">1</text>
</g>
<text x="34.1" y="90.2" font-family='"Liberation Sans", sans-serif' font-size="6.5" fill="#222" stroke="#222" stroke-width="0.15">p<0.001</text>
</g>
<path d="M261.68,493.12 L280.67,502.02 L302.93,513.45 L317.77,516.42 L351,523.83 L350.97,523.39 L397.86,523.39 L397.86,545.2 L351.91,545.2 L350.97,542.86 L351,542.38 L338.54,538.67 L331.12,533.48 L320.73,531.25 L302.93,523.83 L285.12,512.71 L273.26,502.32 L261.68,493.12 Z" fill="#ff0000" stroke="#ff0000" stroke-width="0.9" stroke-linejoin="round" opacity="0.3"/>
<path d="M261.68,492.68 L288.09,502.32 L302.93,508.26 L332.6,513.45 L351,514.93 L350.97,515.6 L356.58,517.94 L390.85,519.49 L422.79,519.03 L422.79,513.57 L438.83,513.57 L438.83,544.89 L422.79,544.89 L422.79,530.4 L397.08,530.4 L390.85,526.82 L361.25,524.95 L350.97,523.39 L351,522.35 L332.6,517.9 L302.93,510.93 L288.09,504.55 L261.68,492.68 Z" fill="#0000ff" stroke="#0000ff" stroke-width="0.9" stroke-linejoin="round" opacity="0.3"/>
<path d="M261.68,493.12 L273.26,500.09 M273.26,500.09 L280.67,503.06 M280.67,503.06 L285.12,506.77 M285.12,506.77 L289.58,509.74 M289.58,509.74 L295.51,512.71 M295.51,512.71 L302.93,517.16 M302.93,517.16 L307.38,520.12 M307.38,520.12 L314.8,522.35 M314.8,522.35 L320.73,526.06 M320.73,526.06 L331.12,527.54 M331.12,527.54 L336.31,529.03 M336.31,529.03 L340.02,532.74 M340.02,532.74 L345.96,534.96 M351,534.96 L351.91,537.41" fill="none" stroke="#ff0000" stroke-width="1.9" stroke-linecap="round"/>
<path d="M345.96,534.96 L351,534.96 M351.91,537.41 L397.86,537.41" fill="none" stroke="#ff0000" stroke-width="1.15" stroke-linecap="round"/>
<path d="M348.15,533.56 V535.76 M353.14,536.01 V538.21 M357.55,536.01 V538.21 M361.19,536.01 V538.21 M371.3,536.01 V538.21 M375.45,536.01 V538.21 M379.08,536.01 V538.21 M385.04,536.01 V538.21 M389.19,536.01 V538.21 M393.18,536.01 V538.21" fill="none" stroke="#ff0000" stroke-width="0.9"/>
<path d="M261.68,492.68 L273.26,497.87 M273.26,497.87 L288.09,503.51 M288.09,503.51 L302.93,509.44 M302.93,509.44 L317.77,512.71 M317.77,512.71 L332.6,515.67 M332.6,515.67 L351,518.34 M350.97,518.72 L356.58,520.58 M356.58,520.58 L361.25,521.83 M378.39,521.83 L379.95,523.08 M389.29,523.08 L390.85,525.26 M422.79,525.26 L423.26,533.05" fill="none" stroke="#0000ff" stroke-width="1.9" stroke-linecap="round"/>
<path d="M351,518.34 L350.97,518.72 M361.25,521.83 L378.39,521.83 M379.95,523.08 L389.29,523.08 M390.85,525.26 L422.79,525.26 M423.26,533.05 L439.46,533.05" fill="none" stroke="#0000ff" stroke-width="1.15" stroke-linecap="round"/>
<path d="M363.47,520.43 V522.63 M367.39,520.43 V522.63 M371.53,520.43 V522.63 M376.68,520.43 V522.63 M382.21,521.68 V523.88 M387.75,521.68 V523.88 M392.84,523.86 V526.06 M396.24,523.86 V526.06 M399.8,523.86 V526.06 M406.64,523.86 V526.06 M410.81,523.86 V526.06 M413.61,523.86 V526.06 M418.03,523.86 V526.06 M425.35,531.65 V533.85 M429.42,531.65 V533.85" fill="none" stroke="#0000ff" stroke-width="0.9"/>
<text x="233" y="482.1" font-family='"Liberation Serif", serif' font-weight="bold" font-size="17.3" fill="#000">K</text>
<g transform="translate(460.28,462)">
<g font-family='"Liberation Sans", sans-serif' font-size="3.9" fill="#2a2a2a" stroke="#2a2a2a" stroke-width="0.12">
<text x="92.43" y="22.7">ZC3H13</text>
<rect x="108.95" y="18.3" width="6.5" height="6" fill="#ffb3b3"/>
<line x1="109.45" y1="21.3" x2="114.95" y2="21.3" stroke="#ff0000" stroke-width="0.9"/>
<line x1="112.2" y1="20.1" x2="112.2" y2="21.9" stroke="#ff0000" stroke-width="0.7"/>
<text x="117.45" y="22.7">high</text>
<rect x="126.82" y="18.3" width="6.5" height="6" fill="#b3b3ff"/>
<line x1="127.32" y1="21.3" x2="132.82" y2="21.3" stroke="#0000ff" stroke-width="0.9"/>
<line x1="130.07" y1="20.1" x2="130.07" y2="21.9" stroke="#0000ff" stroke-width="0.7"/>
<text x="135.32" y="22.7">low</text>
</g>
<g stroke="#4d4d4d" stroke-width="0.75" fill="none">
<path d="M22.2,32 V103.6 H211.4"/>
<path d="M20.7,100.2 H22.2"/>
<path d="M20.7,83.9 H22.2"/>
<path d="M20.7,67.6 H22.2"/>
<path d="M20.7,51.3 H22.2"/>
<path d="M20.7,35 H22.2"/>
<path d="M31.19,103.6 V105.1"/>
<path d="M41.93,103.6 V105.1"/>
<path d="M52.68,103.6 V105.1"/>
<path d="M63.42,103.6 V105.1"/>
<path d="M74.16,103.6 V105.1"/>
<path d="M84.91,103.6 V105.1"/>
<path d="M95.65,103.6 V105.1"/>
<path d="M106.39,103.6 V105.1"/>
<path d="M117.13,103.6 V105.1"/>
<path d="M127.88,103.6 V105.1"/>
<path d="M138.62,103.6 V105.1"/>
<path d="M149.36,103.6 V105.1"/>
<path d="M160.11,103.6 V105.1"/>
<path d="M170.85,103.6 V105.1"/>
<path d="M181.59,103.6 V105.1"/>
<path d="M192.34,103.6 V105.1"/>
<path d="M203.08,103.6 V105.1"/>
<path d="M22.2,129.8 V139.4 H211.4"/>
<path d="M31.19,139.4 V140.9"/>
<path d="M41.93,139.4 V140.9"/>
<path d="M52.68,139.4 V140.9"/>
<path d="M63.42,139.4 V140.9"/>
<path d="M74.16,139.4 V140.9"/>
<path d="M84.91,139.4 V140.9"/>
<path d="M95.65,139.4 V140.9"/>
<path d="M106.39,139.4 V140.9"/>
<path d="M117.13,139.4 V140.9"/>
<path d="M127.88,139.4 V140.9"/>
<path d="M138.62,139.4 V140.9"/>
<path d="M149.36,139.4 V140.9"/>
<path d="M160.11,139.4 V140.9"/>
<path d="M170.85,139.4 V140.9"/>
<path d="M181.59,139.4 V140.9"/>
<path d="M192.34,139.4 V140.9"/>
<path d="M203.08,139.4 V140.9"/>
<path d="M21,132.4 H22.2 M21,136.6 H22.2"/>
</g>
<g font-family='"Liberation Sans", sans-serif' font-size="4.8" fill="#2a2a2a" stroke="#2a2a2a" stroke-width="0.18">
<text x="19.7" y="101.85" text-anchor="end" textLength="8" lengthAdjust="spacingAndGlyphs">0.00</text>
<text x="19.7" y="85.55" text-anchor="end" textLength="8" lengthAdjust="spacingAndGlyphs">0.25</text>
<text x="19.7" y="69.25" text-anchor="end" textLength="8" lengthAdjust="spacingAndGlyphs">0.50</text>
<text x="19.7" y="52.95" text-anchor="end" textLength="8" lengthAdjust="spacingAndGlyphs">0.75</text>
<text x="19.7" y="36.65" text-anchor="end" textLength="8" lengthAdjust="spacingAndGlyphs">1.00</text>
<text x="31.19" y="109.6" text-anchor="middle" textLength="2.4" lengthAdjust="spacingAndGlyphs">0</text>
<text x="31.19" y="144.85" text-anchor="middle" textLength="2.4" lengthAdjust="spacingAndGlyphs">0</text>
<text x="41.93" y="109.6" text-anchor="middle" textLength="2.4" lengthAdjust="spacingAndGlyphs">1</text>
<text x="41.93" y="144.85" text-anchor="middle" textLength="2.4" lengthAdjust="spacingAndGlyphs">1</text>
<text x="52.68" y="109.6" text-anchor="middle" textLength="2.4" lengthAdjust="spacingAndGlyphs">2</text>
<text x="52.68" y="144.85" text-anchor="middle" textLength="2.4" lengthAdjust="spacingAndGlyphs">2</text>
<text x="63.42" y="109.6" text-anchor="middle" textLength="2.4" lengthAdjust="spacingAndGlyphs">3</text>
<text x="63.42" y="144.85" text-anchor="middle" textLength="2.4" lengthAdjust="spacingAndGlyphs">3</text>
<text x="74.16" y="109.6" text-anchor="middle" textLength="2.4" lengthAdjust="spacingAndGlyphs">4</text>
<text x="74.16" y="144.85" text-anchor="middle" textLength="2.4" lengthAdjust="spacingAndGlyphs">4</text>
<text x="84.91" y="109.6" text-anchor="middle" textLength="2.4" lengthAdjust="spacingAndGlyphs">5</text>
<text x="84.91" y="144.85" text-anchor="middle" textLength="2.4" lengthAdjust="spacingAndGlyphs">5</text>
<text x="95.65" y="109.6" text-anchor="middle" textLength="2.4" lengthAdjust="spacingAndGlyphs">6</text>
<text x="95.65" y="144.85" text-anchor="middle" textLength="2.4" lengthAdjust="spacingAndGlyphs">6</text>
<text x="106.39" y="109.6" text-anchor="middle" textLength="2.4" lengthAdjust="spacingAndGlyphs">7</text>
<text x="106.39" y="144.85" text-anchor="middle" textLength="2.4" lengthAdjust="spacingAndGlyphs">7</text>
<text x="117.13" y="109.6" text-anchor="middle" textLength="2.4" lengthAdjust="spacingAndGlyphs">8</text>
<text x="117.13" y="144.85" text-anchor="middle" textLength="2.4" lengthAdjust="spacingAndGlyphs">8</text>
<text x="127.88" y="109.6" text-anchor="middle" textLength="2.4" lengthAdjust="spacingAndGlyphs">9</text>
<text x="127.88" y="144.85" text-anchor="middle" textLength="2.4" lengthAdjust="spacingAndGlyphs">9</text>
<text x="138.62" y="109.6" text-anchor="middle" textLength="4.8" lengthAdjust="spacingAndGlyphs">10</text>
<text x="138.62" y="144.85" text-anchor="middle" textLength="4.8" lengthAdjust="spacingAndGlyphs">10</text>
<text x="149.36" y="109.6" text-anchor="middle" textLength="4.48" lengthAdjust="spacingAndGlyphs">11</text>
<text x="149.36" y="144.85" text-anchor="middle" textLength="4.48" lengthAdjust="spacingAndGlyphs">11</text>
<text x="160.11" y="109.6" text-anchor="middle" textLength="4.8" lengthAdjust="spacingAndGlyphs">12</text>
<text x="160.11" y="144.85" text-anchor="middle" textLength="4.8" lengthAdjust="spacingAndGlyphs">12</text>
<text x="170.85" y="109.6" text-anchor="middle" textLength="4.8" lengthAdjust="spacingAndGlyphs">13</text>
<text x="170.85" y="144.85" text-anchor="middle" textLength="4.8" lengthAdjust="spacingAndGlyphs">13</text>
<text x="181.59" y="109.6" text-anchor="middle" textLength="4.8" lengthAdjust="spacingAndGlyphs">14</text>
<text x="181.59" y="144.85" text-anchor="middle" textLength="4.8" lengthAdjust="spacingAndGlyphs">14</text>
<text x="192.34" y="109.6" text-anchor="middle" textLength="4.8" lengthAdjust="spacingAndGlyphs">15</text>
<text x="192.34" y="144.85" text-anchor="middle" textLength="4.8" lengthAdjust="spacingAndGlyphs">15</text>
<text x="203.08" y="109.6" text-anchor="middle" textLength="4.8" lengthAdjust="spacingAndGlyphs">16</text>
<text x="203.08" y="144.85" text-anchor="middle" textLength="4.8" lengthAdjust="spacingAndGlyphs">16</text>
</g>
<g font-family='"Liberation Sans", sans-serif' font-size="5.6" fill="#2a2a2a" stroke="#2a2a2a" stroke-width="0.14" text-anchor="middle">
<text x="116.8" y="115.25">Time(years)</text>
<text x="116.8" y="150.55">Time(years)</text>
<text transform="translate(8.6,67.5) rotate(-90)" font-size="5.6">Overall survival</text>
<text transform="translate(8.7,134.9) rotate(-90)" font-size="5.6">ZC3H13</text>
</g>
<g font-family='"Liberation Sans", sans-serif' font-size="4.7" text-anchor="end" stroke-width="0.12">
<text x="19.9" y="133.8" fill="#ff0000" stroke="#ff0000">high</text>
<text x="19.9" y="137.8" fill="#0000ff" stroke="#0000ff">low</text>
</g>
<g font-family='"Liberation Sans", sans-serif' font-size="5" fill="#222" stroke="#222" stroke-width="0.15" text-anchor="middle">
<text x="31.19" y="134.2" textLength="7.76" lengthAdjust="spacingAndGlyphs">736</text>
<text x="41.93" y="134.2" textLength="7.76" lengthAdjust="spacingAndGlyphs">626</text>
<text x="52.68" y="134.2" textLength="7.76" lengthAdjust="spacingAndGlyphs">480</text>
<text x="63.42" y="134.2" textLength="7.76" lengthAdjust="spacingAndGlyphs">351</text>
<text x="74.16" y="134.2" textLength="7.76" lengthAdjust="spacingAndGlyphs">268</text>
<text x="84.91" y="134.2" textLength="7.76" lengthAdjust="spacingAndGlyphs">213</text>
<text x="95.65" y="134.2" textLength="7.76" lengthAdjust="spacingAndGlyphs">159</text>
<text x="106.39" y="134.2" textLength="7.76" lengthAdjust="spacingAndGlyphs">107</text>
<text x="117.13" y="134.2" textLength="5.17" lengthAdjust="spacingAndGlyphs">62</text>
<text x="127.88" y="134.2" textLength="5.17" lengthAdjust="spacingAndGlyphs">49</text>
<text x="138.62" y="134.2" textLength="5.17" lengthAdjust="spacingAndGlyphs">38</text>
<text x="149.36" y="134.2" textLength="5.17" lengthAdjust="spacingAndGlyphs">25</text>
<text x="160.11" y="134.2" textLength="5.17" lengthAdjust="spacingAndGlyphs">13</text>
<text x="170.85" y="134.2" textLength="2.59" lengthAdjust="spacingAndGlyphs">7</text>
<text x="181.59" y="134.2" textLength="2.59" lengthAdjust="spacingAndGlyphs">5</text>
<text x="192.34" y="134.2" textLength="2.59" lengthAdjust="spacingAndGlyphs">4</text>
<text x="203.08" y="134.2" textLength="2.59" lengthAdjust="spacingAndGlyphs">1</text>
<text x="31.19" y="138.5" textLength="7.76" lengthAdjust="spacingAndGlyphs">222</text>
<text x="41.93" y="138.5" textLength="7.76" lengthAdjust="spacingAndGlyphs">189</text>
<text x="52.68" y="138.5" textLength="7.76" lengthAdjust="spacingAndGlyphs">153</text>
<text x="63.42" y="138.5" textLength="7.76" lengthAdjust="spacingAndGlyphs">120</text>
<text x="74.16" y="138.5" textLength="5.17" lengthAdjust="spacingAndGlyphs">92</text>
<text x="84.91" y="138.5" textLength="5.17" lengthAdjust="spacingAndGlyphs">66</text>
<text x="95.65" y="138.5" textLength="5.17" lengthAdjust="spacingAndGlyphs">56</text>
<text x="106.39" y="138.5" textLength="5.17" lengthAdjust="spacingAndGlyphs">32</text>
<text x="117.13" y="138.5" textLength="5.17" lengthAdjust="spacingAndGlyphs">24</text>
<text x="127.88" y="138.5" textLength="5.17" lengthAdjust="spacingAndGlyphs">15</text>
<text x="138.62" y="138.5" textLength="4.83" lengthAdjust="spacingAndGlyphs">11</text>
<text x="149.36" y="138.5" textLength="2.59" lengthAdjust="spacingAndGlyphs">7</text>
<text x="160.11" y="138.5" textLength="2.59" lengthAdjust="spacingAndGlyphs">4</text>
<text x="170.85" y="138.5" textLength="2.59" lengthAdjust="spacingAndGlyphs">3</text>
<text x="181.59" y="138.5" textLength="2.59" lengthAdjust="spacingAndGlyphs">1</text>
<text x="192.34" y="138.5" textLength="2.59" lengthAdjust="spacingAndGlyphs">0</text>
<text x="203.08" y="138.5" textLength="2.59" lengthAdjust="spacingAndGlyphs">0</text>
</g>
<text x="34.1" y="90.2" font-family='"Liberation Sans", sans-serif' font-size="6.5" fill="#222" stroke="#222" stroke-width="0.15">p=0.002</text>
</g>
<path d="M490.68,497.12 L531.93,515.22 L546.77,519.67 L580,525.61 L580.03,525.49 L585.43,527.8 L653.32,527.8 L653.32,521.94 L668.75,521.94 L668.75,549.87 L653.32,549.87 L653.32,536.6 L608.58,536.6 L585.43,533.98 L580.03,531.66 L580,531.54 L546.77,523.38 L531.93,518.93 L490.68,497.12 Z" fill="#ff0000" stroke="#ff0000" stroke-width="0.9" stroke-linejoin="round" opacity="0.3"/>
<path d="M490.68,496.68 L517.09,503.35 L531.93,505.58 L563.09,507.8 L566.05,510.03 L580,510.77 L580.03,510.83 L583.89,511.6 L619.38,511.91 L619.38,507.28 L642.83,507.28 L642.83,540.61 L619.38,540.61 L619.38,525.49 L583.89,525.8 L580.03,522.4 L580,522.64 L566.05,521.9 L563.09,515.96 L546.77,513.74 L531.93,510.03 L517.09,506.32 L490.68,496.68 Z" fill="#0000ff" stroke="#0000ff" stroke-width="0.9" stroke-linejoin="round" opacity="0.3"/>
<path d="M490.68,497.12 L502.26,501.87 M502.26,501.87 L517.09,507.8 M517.09,507.8 L531.93,516.71 M531.93,516.71 L546.77,521.16 M546.77,521.16 L561.6,524.87 M561.6,524.87 L580,528.28 M580.03,528.27 L585.43,530.43 M585.43,530.43 L590.83,531.35" fill="none" stroke="#ff0000" stroke-width="1.9" stroke-linecap="round"/>
<path d="M580,528.28 L580.03,528.27 M590.83,531.35 L608.58,531.66 M608.58,531.66 L653.32,531.97 M653.32,531.97 L653.32,539.69 M653.32,539.69 L669.53,539.69" fill="none" stroke="#ff0000" stroke-width="1.15" stroke-linecap="round"/>
<path d="M592.83,529.95 V532.15 M596.83,529.95 V532.15 M606.63,529.95 V532.15 M617.41,530.26 V532.46 M621.75,530.26 V532.46 M632.7,530.26 V532.46 M636.28,530.26 V532.46 M640.88,530.26 V532.46 M648.2,530.26 V532.46 M651.57,530.26 V532.46 M664.06,538.29 V540.49 M667.36,538.29 V540.49" fill="none" stroke="#ff0000" stroke-width="0.9"/>
<path d="M490.68,496.68 L502.26,500.39 M502.26,500.39 L517.09,504.84 M517.09,504.84 L531.93,507.8 M531.93,507.8 L546.77,510.77 M546.77,510.77 L563.09,512.26 M563.09,512.26 L566.05,516.71 M580.03,516.54 L583.12,517 M583.12,517 L584.66,519.01" fill="none" stroke="#0000ff" stroke-width="1.9" stroke-linecap="round"/>
<path d="M566.05,516.71 L580,516.71 M580,516.71 L580.03,516.54 M584.66,519.01 L619.07,519.01 M619.07,519.01 L619.38,527.34 M619.38,527.34 L643.76,527.34" fill="none" stroke="#0000ff" stroke-width="1.15" stroke-linecap="round"/>
<path d="M568.9,515.31 V517.51 M573.65,515.31 V517.51 M587.05,517.61 V519.81 M594.02,517.61 V519.81 M598.46,517.61 V519.81 M602.3,517.61 V519.81 M609.08,517.61 V519.81 M613.36,517.61 V519.81 M617.79,517.61 V519.81 M622.19,525.94 V528.14 M625.13,525.94 V528.14 M629.81,525.94 V528.14" fill="none" stroke="#0000ff" stroke-width="0.9"/>
<text x="462.6" y="479.4" font-family='"Liberation Serif", serif' font-weight="bold" font-size="17.3" fill="#000">L</text>
<g transform="translate(-1.97,607.9)">
<g font-family='"Liberation Sans", sans-serif' font-size="3.9" fill="#2a2a2a" stroke="#2a2a2a" stroke-width="0.12">
<text x="94.38" y="22.7">NOP2</text>
<rect x="107" y="18.3" width="6.5" height="6" fill="#ffb3b3"/>
<line x1="107.5" y1="21.3" x2="113" y2="21.3" stroke="#ff0000" stroke-width="0.9"/>
<line x1="110.25" y1="20.1" x2="110.25" y2="21.9" stroke="#ff0000" stroke-width="0.7"/>
<text x="115.5" y="22.7">high</text>
<rect x="124.87" y="18.3" width="6.5" height="6" fill="#b3b3ff"/>
<line x1="125.37" y1="21.3" x2="130.87" y2="21.3" stroke="#0000ff" stroke-width="0.9"/>
<line x1="128.12" y1="20.1" x2="128.12" y2="21.9" stroke="#0000ff" stroke-width="0.7"/>
<text x="133.37" y="22.7">low</text>
</g>
<g stroke="#4d4d4d" stroke-width="0.75" fill="none">
<path d="M22.2,32 V103.6 H211.4"/>
<path d="M20.7,100.2 H22.2"/>
<path d="M20.7,83.9 H22.2"/>
<path d="M20.7,67.6 H22.2"/>
<path d="M20.7,51.3 H22.2"/>
<path d="M20.7,35 H22.2"/>
<path d="M30.44,103.6 V105.1"/>
<path d="M41.19,103.6 V105.1"/>
<path d="M51.94,103.6 V105.1"/>
<path d="M62.69,103.6 V105.1"/>
<path d="M73.44,103.6 V105.1"/>
<path d="M84.19,103.6 V105.1"/>
<path d="M94.94,103.6 V105.1"/>
<path d="M105.69,103.6 V105.1"/>
<path d="M116.44,103.6 V105.1"/>
<path d="M127.19,103.6 V105.1"/>
<path d="M137.94,103.6 V105.1"/>
<path d="M148.69,103.6 V105.1"/>
<path d="M159.44,103.6 V105.1"/>
<path d="M170.19,103.6 V105.1"/>
<path d="M180.94,103.6 V105.1"/>
<path d="M191.69,103.6 V105.1"/>
<path d="M202.44,103.6 V105.1"/>
<path d="M22.2,129.2 V138.8 H211.4"/>
<path d="M30.44,138.8 V140.3"/>
<path d="M41.19,138.8 V140.3"/>
<path d="M51.94,138.8 V140.3"/>
<path d="M62.69,138.8 V140.3"/>
<path d="M73.44,138.8 V140.3"/>
<path d="M84.19,138.8 V140.3"/>
<path d="M94.94,138.8 V140.3"/>
<path d="M105.69,138.8 V140.3"/>
<path d="M116.44,138.8 V140.3"/>
<path d="M127.19,138.8 V140.3"/>
<path d="M137.94,138.8 V140.3"/>
<path d="M148.69,138.8 V140.3"/>
<path d="M159.44,138.8 V140.3"/>
<path d="M170.19,138.8 V140.3"/>
<path d="M180.94,138.8 V140.3"/>
<path d="M191.69,138.8 V140.3"/>
<path d="M202.44,138.8 V140.3"/>
<path d="M21,131.8 H22.2 M21,136 H22.2"/>
</g>
<g font-family='"Liberation Sans", sans-serif' font-size="4.8" fill="#2a2a2a" stroke="#2a2a2a" stroke-width="0.18">
<text x="19.7" y="101.85" text-anchor="end" textLength="8" lengthAdjust="spacingAndGlyphs">0.00</text>
<text x="19.7" y="85.55" text-anchor="end" textLength="8" lengthAdjust="spacingAndGlyphs">0.25</text>
<text x="19.7" y="69.25" text-anchor="end" textLength="8" lengthAdjust="spacingAndGlyphs">0.50</text>
<text x="19.7" y="52.95" text-anchor="end" textLength="8" lengthAdjust="spacingAndGlyphs">0.75</text>
<text x="19.7" y="36.65" text-anchor="end" textLength="8" lengthAdjust="spacingAndGlyphs">1.00</text>
<text x="30.44" y="109.6" text-anchor="middle" textLength="2.4" lengthAdjust="spacingAndGlyphs">0</text>
<text x="30.44" y="144.25" text-anchor="middle" textLength="2.4" lengthAdjust="spacingAndGlyphs">0</text>
<text x="41.19" y="109.6" text-anchor="middle" textLength="2.4" lengthAdjust="spacingAndGlyphs">1</text>
<text x="41.19" y="144.25" text-anchor="middle" textLength="2.4" lengthAdjust="spacingAndGlyphs">1</text>
<text x="51.94" y="109.6" text-anchor="middle" textLength="2.4" lengthAdjust="spacingAndGlyphs">2</text>
<text x="51.94" y="144.25" text-anchor="middle" textLength="2.4" lengthAdjust="spacingAndGlyphs">2</text>
<text x="62.69" y="109.6" text-anchor="middle" textLength="2.4" lengthAdjust="spacingAndGlyphs">3</text>
<text x="62.69" y="144.25" text-anchor="middle" textLength="2.4" lengthAdjust="spacingAndGlyphs">3</text>
<text x="73.44" y="109.6" text-anchor="middle" textLength="2.4" lengthAdjust="spacingAndGlyphs">4</text>
<text x="73.44" y="144.25" text-anchor="middle" textLength="2.4" lengthAdjust="spacingAndGlyphs">4</text>
<text x="84.19" y="109.6" text-anchor="middle" textLength="2.4" lengthAdjust="spacingAndGlyphs">5</text>
<text x="84.19" y="144.25" text-anchor="middle" textLength="2.4" lengthAdjust="spacingAndGlyphs">5</text>
<text x="94.94" y="109.6" text-anchor="middle" textLength="2.4" lengthAdjust="spacingAndGlyphs">6</text>
<text x="94.94" y="144.25" text-anchor="middle" textLength="2.4" lengthAdjust="spacingAndGlyphs">6</text>
<text x="105.69" y="109.6" text-anchor="middle" textLength="2.4" lengthAdjust="spacingAndGlyphs">7</text>
<text x="105.69" y="144.25" text-anchor="middle" textLength="2.4" lengthAdjust="spacingAndGlyphs">7</text>
<text x="116.44" y="109.6" text-anchor="middle" textLength="2.4" lengthAdjust="spacingAndGlyphs">8</text>
<text x="116.44" y="144.25" text-anchor="middle" textLength="2.4" lengthAdjust="spacingAndGlyphs">8</text>
<text x="127.19" y="109.6" text-anchor="middle" textLength="2.4" lengthAdjust="spacingAndGlyphs">9</text>
<text x="127.19" y="144.25" text-anchor="middle" textLength="2.4" lengthAdjust="spacingAndGlyphs">9</text>
<text x="137.94" y="109.6" text-anchor="middle" textLength="4.8" lengthAdjust="spacingAndGlyphs">10</text>
<text x="137.94" y="144.25" text-anchor="middle" textLength="4.8" lengthAdjust="spacingAndGlyphs">10</text>
<text x="148.69" y="109.6" text-anchor="middle" textLength="4.48" lengthAdjust="spacingAndGlyphs">11</text>
<text x="148.69" y="144.25" text-anchor="middle" textLength="4.48" lengthAdjust="spacingAndGlyphs">11</text>
<text x="159.44" y="109.6" text-anchor="middle" textLength="4.8" lengthAdjust="spacingAndGlyphs">12</text>
<text x="159.44" y="144.25" text-anchor="middle" textLength="4.8" lengthAdjust="spacingAndGlyphs">12</text>
<text x="170.19" y="109.6" text-anchor="middle" textLength="4.8" lengthAdjust="spacingAndGlyphs">13</text>
<text x="170.19" y="144.25" text-anchor="middle" textLength="4.8" lengthAdjust="spacingAndGlyphs">13</text>
<text x="180.94" y="109.6" text-anchor="middle" textLength="4.8" lengthAdjust="spacingAndGlyphs">14</text>
<text x="180.94" y="144.25" text-anchor="middle" textLength="4.8" lengthAdjust="spacingAndGlyphs">14</text>
<text x="191.69" y="109.6" text-anchor="middle" textLength="4.8" lengthAdjust="spacingAndGlyphs">15</text>
<text x="191.69" y="144.25" text-anchor="middle" textLength="4.8" lengthAdjust="spacingAndGlyphs">15</text>
<text x="202.44" y="109.6" text-anchor="middle" textLength="4.8" lengthAdjust="spacingAndGlyphs">16</text>
<text x="202.44" y="144.25" text-anchor="middle" textLength="4.8" lengthAdjust="spacingAndGlyphs">16</text>
</g>
<g font-family='"Liberation Sans", sans-serif' font-size="5.6" fill="#2a2a2a" stroke="#2a2a2a" stroke-width="0.14" text-anchor="middle">
<text x="116.8" y="115.25">Time(years)</text>
<text x="116.8" y="149.95">Time(years)</text>
<text transform="translate(8.6,67.5) rotate(-90)" font-size="5.6">Overall survival</text>
<text transform="translate(8.7,134.3) rotate(-90)" font-size="5.6">NOP2</text>
</g>
<g font-family='"Liberation Sans", sans-serif' font-size="4.7" text-anchor="end" stroke-width="0.12">
<text x="19.9" y="133.2" fill="#ff0000" stroke="#ff0000">high</text>
<text x="19.9" y="137.2" fill="#0000ff" stroke="#0000ff">low</text>
</g>
<g font-family='"Liberation Sans", sans-serif' font-size="5" fill="#222" stroke="#222" stroke-width="0.15" text-anchor="middle">
<text x="30.44" y="133.6" textLength="7.76" lengthAdjust="spacingAndGlyphs">775</text>
<text x="41.19" y="133.6" textLength="7.76" lengthAdjust="spacingAndGlyphs">663</text>
<text x="51.94" y="133.6" textLength="7.76" lengthAdjust="spacingAndGlyphs">519</text>
<text x="62.69" y="133.6" textLength="7.76" lengthAdjust="spacingAndGlyphs">392</text>
<text x="73.44" y="133.6" textLength="7.76" lengthAdjust="spacingAndGlyphs">297</text>
<text x="84.19" y="133.6" textLength="7.76" lengthAdjust="spacingAndGlyphs">231</text>
<text x="94.94" y="133.6" textLength="7.76" lengthAdjust="spacingAndGlyphs">180</text>
<text x="105.69" y="133.6" textLength="7.76" lengthAdjust="spacingAndGlyphs">120</text>
<text x="116.44" y="133.6" textLength="5.17" lengthAdjust="spacingAndGlyphs">75</text>
<text x="127.19" y="133.6" textLength="5.17" lengthAdjust="spacingAndGlyphs">55</text>
<text x="137.94" y="133.6" textLength="5.17" lengthAdjust="spacingAndGlyphs">41</text>
<text x="148.69" y="133.6" textLength="5.17" lengthAdjust="spacingAndGlyphs">27</text>
<text x="159.44" y="133.6" textLength="5.17" lengthAdjust="spacingAndGlyphs">16</text>
<text x="170.19" y="133.6" textLength="5.17" lengthAdjust="spacingAndGlyphs">10</text>
<text x="180.94" y="133.6" textLength="2.59" lengthAdjust="spacingAndGlyphs">6</text>
<text x="191.69" y="133.6" textLength="2.59" lengthAdjust="spacingAndGlyphs">4</text>
<text x="202.44" y="133.6" textLength="2.59" lengthAdjust="spacingAndGlyphs">1</text>
<text x="30.44" y="137.9" textLength="7.76" lengthAdjust="spacingAndGlyphs">183</text>
<text x="41.19" y="137.9" textLength="7.76" lengthAdjust="spacingAndGlyphs">162</text>
<text x="51.94" y="137.9" textLength="7.41" lengthAdjust="spacingAndGlyphs">114</text>
<text x="62.69" y="137.9" textLength="5.17" lengthAdjust="spacingAndGlyphs">79</text>
<text x="73.44" y="137.9" textLength="5.17" lengthAdjust="spacingAndGlyphs">63</text>
<text x="84.19" y="137.9" textLength="5.17" lengthAdjust="spacingAndGlyphs">48</text>
<text x="94.94" y="137.9" textLength="5.17" lengthAdjust="spacingAndGlyphs">35</text>
<text x="105.69" y="137.9" textLength="5.17" lengthAdjust="spacingAndGlyphs">19</text>
<text x="116.44" y="137.9" textLength="4.83" lengthAdjust="spacingAndGlyphs">11</text>
<text x="127.19" y="137.9" textLength="2.59" lengthAdjust="spacingAndGlyphs">9</text>
<text x="137.94" y="137.9" textLength="2.59" lengthAdjust="spacingAndGlyphs">8</text>
<text x="148.69" y="137.9" textLength="2.59" lengthAdjust="spacingAndGlyphs">5</text>
<text x="159.44" y="137.9" textLength="2.59" lengthAdjust="spacingAndGlyphs">1</text>
<text x="170.19" y="137.9" textLength="2.59" lengthAdjust="spacingAndGlyphs">0</text>
<text x="180.94" y="137.9" textLength="2.59" lengthAdjust="spacingAndGlyphs">0</text>
<text x="191.69" y="137.9" textLength="2.59" lengthAdjust="spacingAndGlyphs">0</text>
<text x="202.44" y="137.9" textLength="2.59" lengthAdjust="spacingAndGlyphs">0</text>
</g>
<text x="34.1" y="90.2" font-family='"Liberation Sans", sans-serif' font-size="6.5" fill="#222" stroke="#222" stroke-width="0.15">p=0.011</text>
</g>
<path d="M28.68,642.68 L71.41,658.26 L99.6,662.41 L118,667.16 L117.97,667.94 L123.58,671.05 L158.16,671.05 L189.79,671.05 L189.79,665.29 L205.83,665.29 L205.83,695.51 L189.79,695.51 L189.79,681.96 L158.16,681.96 L123.58,677.28 L117.97,674.95 L118,672.35 L99.6,667.9 L71.41,661.96 L28.68,642.68 Z" fill="#ff0000" stroke="#ff0000" stroke-width="0.9" stroke-linejoin="round" opacity="0.3"/>
<path d="M28.68,642.68 L35.8,646.39 L55.09,655.29 L69.93,661.96 L84.77,666.42 L99.6,672.35 L118,673.09 L117.97,669.49 L158.16,669.49 L158.16,682.42 L117.97,682.42 L118,682.74 L99.6,682.74 L84.77,677.54 L69.93,671.61 L55.09,665.67 L35.8,652.32 L28.68,642.68 Z" fill="#0000ff" stroke="#0000ff" stroke-width="0.9" stroke-linejoin="round" opacity="0.3"/>
<path d="M28.68,642.68 L35.8,648.61 M35.8,648.61 L47.67,653.06 M47.67,653.06 L55.09,659.74 M55.09,659.74 L62.51,662.71 M62.51,662.71 L69.93,665.67 M69.93,665.67 L77.35,669.38 M77.35,669.38 L84.77,670.87 M84.77,670.87 L92.18,673.83 M92.18,673.83 L99.6,676.06" fill="none" stroke="#0000ff" stroke-width="1.9" stroke-linecap="round"/>
<path d="M99.6,676.06 L118,676.36 M118,676.36 L117.97,676.82 M117.97,676.82 L158.16,676.82" fill="none" stroke="#0000ff" stroke-width="1.15" stroke-linecap="round"/>
<path d="M101.41,674.66 V676.86 M105.54,674.66 V676.86 M112.13,674.66 V676.86 M115.73,674.66 V676.86 M120.36,675.42 V677.62 M123.27,675.42 V677.62 M127.79,675.42 V677.62 M130.31,675.42 V677.62 M134.58,675.42 V677.62 M138.25,675.42 V677.62 M148.81,675.42 V677.62 M153.07,675.42 V677.62 M157,675.42 V677.62" fill="none" stroke="#0000ff" stroke-width="0.9"/>
<path d="M28.68,642.68 L32.84,644.9 M32.84,644.9 L47.67,650.09 M47.67,650.09 L62.51,655.29 M62.51,655.29 L71.41,659.74 M71.41,659.74 L84.77,661.96 M84.77,661.96 L99.6,664.93 M99.6,664.93 L118,670.12 M117.97,671.05 L122.02,672.14 M122.02,672.14 L123.58,673.08 M145.39,673.39 L146.95,674.64 M156.29,674.64 L158.16,676.82 M189.79,676.82 L190.26,684.29" fill="none" stroke="#ff0000" stroke-width="1.9" stroke-linecap="round"/>
<path d="M118,670.12 L117.97,671.05 M123.58,673.08 L145.39,673.39 M146.95,674.64 L156.29,674.64 M158.16,676.82 L189.79,676.82 M190.26,684.29 L206.46,684.29" fill="none" stroke="#ff0000" stroke-width="1.15" stroke-linecap="round"/>
<path d="M125.96,671.68 V673.88 M129.44,671.68 V673.88 M136.19,671.68 V673.88 M139.93,671.68 V673.88 M144.35,671.68 V673.88 M148.97,673.24 V675.44 M154.08,673.24 V675.44 M160.46,675.42 V677.62 M166.38,675.42 V677.62 M174.12,675.42 V677.62 M178.25,675.42 V677.62 M181.78,675.42 V677.62 M187.53,675.42 V677.62 M191.87,682.89 V685.09 M196.02,682.89 V685.09 M200.94,682.89 V685.09 M204.84,682.89 V685.09" fill="none" stroke="#ff0000" stroke-width="0.9"/>
<text x="0.7" y="631.6" font-family='"Liberation Serif", serif' font-weight="bold" font-size="17.3" fill="#000">M</text>
<g transform="translate(233.04,607.9)">
<g font-family='"Liberation Sans", sans-serif' font-size="3.9" fill="#2a2a2a" stroke="#2a2a2a" stroke-width="0.12">
<text x="93.08" y="22.7">NSUN2</text>
<rect x="108.3" y="18.3" width="6.5" height="6" fill="#ffb3b3"/>
<line x1="108.8" y1="21.3" x2="114.3" y2="21.3" stroke="#ff0000" stroke-width="0.9"/>
<line x1="111.55" y1="20.1" x2="111.55" y2="21.9" stroke="#ff0000" stroke-width="0.7"/>
<text x="116.8" y="22.7">high</text>
<rect x="126.17" y="18.3" width="6.5" height="6" fill="#b3b3ff"/>
<line x1="126.67" y1="21.3" x2="132.17" y2="21.3" stroke="#0000ff" stroke-width="0.9"/>
<line x1="129.42" y1="20.1" x2="129.42" y2="21.9" stroke="#0000ff" stroke-width="0.7"/>
<text x="134.67" y="22.7">low</text>
</g>
<g stroke="#4d4d4d" stroke-width="0.75" fill="none">
<path d="M22.2,32 V103.6 H211.4"/>
<path d="M20.7,100.2 H22.2"/>
<path d="M20.7,83.9 H22.2"/>
<path d="M20.7,67.6 H22.2"/>
<path d="M20.7,51.3 H22.2"/>
<path d="M20.7,35 H22.2"/>
<path d="M30.43,103.6 V105.1"/>
<path d="M41.18,103.6 V105.1"/>
<path d="M51.93,103.6 V105.1"/>
<path d="M62.68,103.6 V105.1"/>
<path d="M73.43,103.6 V105.1"/>
<path d="M84.18,103.6 V105.1"/>
<path d="M94.93,103.6 V105.1"/>
<path d="M105.68,103.6 V105.1"/>
<path d="M116.43,103.6 V105.1"/>
<path d="M127.18,103.6 V105.1"/>
<path d="M137.93,103.6 V105.1"/>
<path d="M148.68,103.6 V105.1"/>
<path d="M159.43,103.6 V105.1"/>
<path d="M170.18,103.6 V105.1"/>
<path d="M180.93,103.6 V105.1"/>
<path d="M191.68,103.6 V105.1"/>
<path d="M202.43,103.6 V105.1"/>
<path d="M22.2,129.4 V139 H211.4"/>
<path d="M30.43,139 V140.5"/>
<path d="M41.18,139 V140.5"/>
<path d="M51.93,139 V140.5"/>
<path d="M62.68,139 V140.5"/>
<path d="M73.43,139 V140.5"/>
<path d="M84.18,139 V140.5"/>
<path d="M94.93,139 V140.5"/>
<path d="M105.68,139 V140.5"/>
<path d="M116.43,139 V140.5"/>
<path d="M127.18,139 V140.5"/>
<path d="M137.93,139 V140.5"/>
<path d="M148.68,139 V140.5"/>
<path d="M159.43,139 V140.5"/>
<path d="M170.18,139 V140.5"/>
<path d="M180.93,139 V140.5"/>
<path d="M191.68,139 V140.5"/>
<path d="M202.43,139 V140.5"/>
<path d="M21,132 H22.2 M21,136.2 H22.2"/>
</g>
<g font-family='"Liberation Sans", sans-serif' font-size="4.8" fill="#2a2a2a" stroke="#2a2a2a" stroke-width="0.18">
<text x="19.7" y="101.85" text-anchor="end" textLength="8" lengthAdjust="spacingAndGlyphs">0.00</text>
<text x="19.7" y="85.55" text-anchor="end" textLength="8" lengthAdjust="spacingAndGlyphs">0.25</text>
<text x="19.7" y="69.25" text-anchor="end" textLength="8" lengthAdjust="spacingAndGlyphs">0.50</text>
<text x="19.7" y="52.95" text-anchor="end" textLength="8" lengthAdjust="spacingAndGlyphs">0.75</text>
<text x="19.7" y="36.65" text-anchor="end" textLength="8" lengthAdjust="spacingAndGlyphs">1.00</text>
<text x="30.43" y="109.6" text-anchor="middle" textLength="2.4" lengthAdjust="spacingAndGlyphs">0</text>
<text x="30.43" y="144.45" text-anchor="middle" textLength="2.4" lengthAdjust="spacingAndGlyphs">0</text>
<text x="41.18" y="109.6" text-anchor="middle" textLength="2.4" lengthAdjust="spacingAndGlyphs">1</text>
<text x="41.18" y="144.45" text-anchor="middle" textLength="2.4" lengthAdjust="spacingAndGlyphs">1</text>
<text x="51.93" y="109.6" text-anchor="middle" textLength="2.4" lengthAdjust="spacingAndGlyphs">2</text>
<text x="51.93" y="144.45" text-anchor="middle" textLength="2.4" lengthAdjust="spacingAndGlyphs">2</text>
<text x="62.68" y="109.6" text-anchor="middle" textLength="2.4" lengthAdjust="spacingAndGlyphs">3</text>
<text x="62.68" y="144.45" text-anchor="middle" textLength="2.4" lengthAdjust="spacingAndGlyphs">3</text>
<text x="73.43" y="109.6" text-anchor="middle" textLength="2.4" lengthAdjust="spacingAndGlyphs">4</text>
<text x="73.43" y="144.45" text-anchor="middle" textLength="2.4" lengthAdjust="spacingAndGlyphs">4</text>
<text x="84.18" y="109.6" text-anchor="middle" textLength="2.4" lengthAdjust="spacingAndGlyphs">5</text>
<text x="84.18" y="144.45" text-anchor="middle" textLength="2.4" lengthAdjust="spacingAndGlyphs">5</text>
<text x="94.93" y="109.6" text-anchor="middle" textLength="2.4" lengthAdjust="spacingAndGlyphs">6</text>
<text x="94.93" y="144.45" text-anchor="middle" textLength="2.4" lengthAdjust="spacingAndGlyphs">6</text>
<text x="105.68" y="109.6" text-anchor="middle" textLength="2.4" lengthAdjust="spacingAndGlyphs">7</text>
<text x="105.68" y="144.45" text-anchor="middle" textLength="2.4" lengthAdjust="spacingAndGlyphs">7</text>
<text x="116.43" y="109.6" text-anchor="middle" textLength="2.4" lengthAdjust="spacingAndGlyphs">8</text>
<text x="116.43" y="144.45" text-anchor="middle" textLength="2.4" lengthAdjust="spacingAndGlyphs">8</text>
<text x="127.18" y="109.6" text-anchor="middle" textLength="2.4" lengthAdjust="spacingAndGlyphs">9</text>
<text x="127.18" y="144.45" text-anchor="middle" textLength="2.4" lengthAdjust="spacingAndGlyphs">9</text>
<text x="137.93" y="109.6" text-anchor="middle" textLength="4.8" lengthAdjust="spacingAndGlyphs">10</text>
<text x="137.93" y="144.45" text-anchor="middle" textLength="4.8" lengthAdjust="spacingAndGlyphs">10</text>
<text x="148.68" y="109.6" text-anchor="middle" textLength="4.48" lengthAdjust="spacingAndGlyphs">11</text>
<text x="148.68" y="144.45" text-anchor="middle" textLength="4.48" lengthAdjust="spacingAndGlyphs">11</text>
<text x="159.43" y="109.6" text-anchor="middle" textLength="4.8" lengthAdjust="spacingAndGlyphs">12</text>
<text x="159.43" y="144.45" text-anchor="middle" textLength="4.8" lengthAdjust="spacingAndGlyphs">12</text>
<text x="170.18" y="109.6" text-anchor="middle" textLength="4.8" lengthAdjust="spacingAndGlyphs">13</text>
<text x="170.18" y="144.45" text-anchor="middle" textLength="4.8" lengthAdjust="spacingAndGlyphs">13</text>
<text x="180.93" y="109.6" text-anchor="middle" textLength="4.8" lengthAdjust="spacingAndGlyphs">14</text>
<text x="180.93" y="144.45" text-anchor="middle" textLength="4.8" lengthAdjust="spacingAndGlyphs">14</text>
<text x="191.68" y="109.6" text-anchor="middle" textLength="4.8" lengthAdjust="spacingAndGlyphs">15</text>
<text x="191.68" y="144.45" text-anchor="middle" textLength="4.8" lengthAdjust="spacingAndGlyphs">15</text>
<text x="202.43" y="109.6" text-anchor="middle" textLength="4.8" lengthAdjust="spacingAndGlyphs">16</text>
<text x="202.43" y="144.45" text-anchor="middle" textLength="4.8" lengthAdjust="spacingAndGlyphs">16</text>
</g>
<g font-family='"Liberation Sans", sans-serif' font-size="5.6" fill="#2a2a2a" stroke="#2a2a2a" stroke-width="0.14" text-anchor="middle">
<text x="116.8" y="115.25">Time(years)</text>
<text x="116.8" y="150.15">Time(years)</text>
<text transform="translate(8.6,67.5) rotate(-90)" font-size="5.6">Overall survival</text>
<text transform="translate(8.7,134.5) rotate(-90)" font-size="5.6">NSUN2</text>
</g>
<g font-family='"Liberation Sans", sans-serif' font-size="4.7" text-anchor="end" stroke-width="0.12">
<text x="19.9" y="133.4" fill="#ff0000" stroke="#ff0000">high</text>
<text x="19.9" y="137.4" fill="#0000ff" stroke="#0000ff">low</text>
</g>
<g font-family='"Liberation Sans", sans-serif' font-size="5" fill="#222" stroke="#222" stroke-width="0.15" text-anchor="middle">
<text x="30.43" y="133.8" textLength="7.76" lengthAdjust="spacingAndGlyphs">681</text>
<text x="41.18" y="133.8" textLength="7.76" lengthAdjust="spacingAndGlyphs">579</text>
<text x="51.93" y="133.8" textLength="7.76" lengthAdjust="spacingAndGlyphs">446</text>
<text x="62.68" y="133.8" textLength="7.76" lengthAdjust="spacingAndGlyphs">352</text>
<text x="73.43" y="133.8" textLength="7.76" lengthAdjust="spacingAndGlyphs">270</text>
<text x="84.18" y="133.8" textLength="7.76" lengthAdjust="spacingAndGlyphs">205</text>
<text x="94.93" y="133.8" textLength="7.76" lengthAdjust="spacingAndGlyphs">153</text>
<text x="105.68" y="133.8" textLength="5.17" lengthAdjust="spacingAndGlyphs">93</text>
<text x="116.43" y="133.8" textLength="5.17" lengthAdjust="spacingAndGlyphs">59</text>
<text x="127.18" y="133.8" textLength="5.17" lengthAdjust="spacingAndGlyphs">46</text>
<text x="137.93" y="133.8" textLength="5.17" lengthAdjust="spacingAndGlyphs">34</text>
<text x="148.68" y="133.8" textLength="5.17" lengthAdjust="spacingAndGlyphs">24</text>
<text x="159.43" y="133.8" textLength="5.17" lengthAdjust="spacingAndGlyphs">14</text>
<text x="170.18" y="133.8" textLength="2.59" lengthAdjust="spacingAndGlyphs">8</text>
<text x="180.93" y="133.8" textLength="2.59" lengthAdjust="spacingAndGlyphs">6</text>
<text x="191.68" y="133.8" textLength="2.59" lengthAdjust="spacingAndGlyphs">4</text>
<text x="202.43" y="133.8" textLength="2.59" lengthAdjust="spacingAndGlyphs">1</text>
<text x="30.43" y="138.1" textLength="7.76" lengthAdjust="spacingAndGlyphs">277</text>
<text x="41.18" y="138.1" textLength="7.76" lengthAdjust="spacingAndGlyphs">236</text>
<text x="51.93" y="138.1" textLength="7.76" lengthAdjust="spacingAndGlyphs">187</text>
<text x="62.68" y="138.1" textLength="7.41" lengthAdjust="spacingAndGlyphs">119</text>
<text x="73.43" y="138.1" textLength="5.17" lengthAdjust="spacingAndGlyphs">90</text>
<text x="84.18" y="138.1" textLength="5.17" lengthAdjust="spacingAndGlyphs">74</text>
<text x="94.93" y="138.1" textLength="5.17" lengthAdjust="spacingAndGlyphs">62</text>
<text x="105.68" y="138.1" textLength="5.17" lengthAdjust="spacingAndGlyphs">46</text>
<text x="116.43" y="138.1" textLength="5.17" lengthAdjust="spacingAndGlyphs">27</text>
<text x="127.18" y="138.1" textLength="5.17" lengthAdjust="spacingAndGlyphs">18</text>
<text x="137.93" y="138.1" textLength="5.17" lengthAdjust="spacingAndGlyphs">15</text>
<text x="148.68" y="138.1" textLength="2.59" lengthAdjust="spacingAndGlyphs">8</text>
<text x="159.43" y="138.1" textLength="2.59" lengthAdjust="spacingAndGlyphs">3</text>
<text x="170.18" y="138.1" textLength="2.59" lengthAdjust="spacingAndGlyphs">2</text>
<text x="180.93" y="138.1" textLength="2.59" lengthAdjust="spacingAndGlyphs">0</text>
<text x="191.68" y="138.1" textLength="2.59" lengthAdjust="spacingAndGlyphs">0</text>
<text x="202.43" y="138.1" textLength="2.59" lengthAdjust="spacingAndGlyphs">0</text>
</g>
<text x="34.1" y="90.2" font-family='"Liberation Sans", sans-serif' font-size="6.5" fill="#222" stroke="#222" stroke-width="0.15">p=0.008</text>
</g>
<path d="M263.68,642.68 L306.41,657.51 L334.6,662.71 L353,666.42 L352.97,666.38 L358.58,667.94 L392.85,668.4 L425.26,668.4 L425.26,662.48 L441.61,662.48 L441.61,694.11 L425.26,694.11 L425.26,679.93 L412.32,679.93 L392.85,676.82 L363.25,675.73 L352.97,673.39 L353,672.8 L334.6,667.9 L306.41,661.22 L263.68,642.68 Z" fill="#ff0000" stroke="#ff0000" stroke-width="0.9" stroke-linejoin="round" opacity="0.3"/>
<path d="M263.68,642.68 L285.64,650.84 L297.51,659.74 L312.35,664.93 L334.6,669.38 L353,671.61 L352.97,671.83 L358.58,674.17 L379.61,675.73 L412.32,676.82 L412.32,688.66 L381.17,688.66 L379.61,684.29 L358.58,684.61 L352.97,679.62 L353,679.77 L334.6,678.28 L312.35,673.83 L297.51,667.9 L285.64,655.29 L263.68,642.68 Z" fill="#0000ff" stroke="#0000ff" stroke-width="0.9" stroke-linejoin="round" opacity="0.3"/>
<path d="M263.68,642.68 L275.26,647.87 M275.26,647.87 L285.64,652.32 M285.64,652.32 L290.09,656.77 M290.09,656.77 L297.51,663.45 M297.51,663.45 L304.93,666.42 M304.93,666.42 L312.35,668.64 M312.35,668.64 L327.18,671.61 M327.18,671.61 L334.6,673.09 M334.6,673.09 L353,674.87 M352.97,674.17 L355.46,675.73 M355.46,675.73 L358.58,678.37 M379.61,678.37 L381.17,681.49" fill="none" stroke="#0000ff" stroke-width="1.9" stroke-linecap="round"/>
<path d="M353,674.87 L352.97,674.17 M358.58,678.37 L379.61,678.37 M381.17,681.49 L413.1,681.49" fill="none" stroke="#0000ff" stroke-width="1.15" stroke-linecap="round"/>
<path d="M364.02,676.97 V679.17 M370.51,676.97 V679.17 M374.63,676.97 V679.17 M378.41,676.97 V679.17 M386.27,680.09 V682.29 M389.83,680.09 V682.29 M394.26,680.09 V682.29 M396.67,680.09 V682.29 M403.64,680.09 V682.29 M408.06,680.09 V682.29" fill="none" stroke="#0000ff" stroke-width="0.9"/>
<path d="M263.68,642.68 L275.26,647.13 M275.26,647.13 L290.09,652.32 M290.09,652.32 L300.48,655.29 M300.48,655.29 L306.41,659 M306.41,659 L319.77,661.22 M319.77,661.22 L334.6,664.93 M334.6,664.93 L353,669.83 M352.97,669.49 L358.58,671.05 M358.58,671.05 L363.25,672.14 M391.29,672.14 L392.85,674.17" fill="none" stroke="#ff0000" stroke-width="1.9" stroke-linecap="round"/>
<path d="M353,669.83 L352.97,669.49 M363.25,672.14 L391.29,672.14 M392.85,674.17 L425.26,674.17 M425.26,674.17 L425.57,682.42 M425.57,682.42 L441.92,682.42" fill="none" stroke="#ff0000" stroke-width="1.15" stroke-linecap="round"/>
<path d="M368.44,670.74 V672.94 M372.4,670.74 V672.94 M378.46,670.74 V672.94 M382.07,670.74 V672.94 M386.19,670.74 V672.94 M390.15,670.74 V672.94 M395.09,672.77 V674.97 M401.77,672.77 V674.97 M405.39,672.77 V674.97 M409.1,672.77 V674.97 M413.31,672.77 V674.97 M415.78,672.77 V674.97 M419.4,672.77 V674.97 M423.87,672.77 V674.97 M427.78,681.02 V683.22 M439.99,681.02 V683.22" fill="none" stroke="#ff0000" stroke-width="0.9"/>
<text x="231.8" y="631.8" font-family='"Liberation Serif", serif' font-weight="bold" font-size="17.3" fill="#000">N</text>
<g transform="translate(461.4,609.45)">
<g font-family='"Liberation Sans", sans-serif' font-size="3.9" fill="#2a2a2a" stroke="#2a2a2a" stroke-width="0.12">
<text x="93.08" y="22.7">NSUN7</text>
<rect x="108.3" y="18.3" width="6.5" height="6" fill="#ffb3b3"/>
<line x1="108.8" y1="21.3" x2="114.3" y2="21.3" stroke="#ff0000" stroke-width="0.9"/>
<line x1="111.55" y1="20.1" x2="111.55" y2="21.9" stroke="#ff0000" stroke-width="0.7"/>
<text x="116.8" y="22.7">high</text>
<rect x="126.17" y="18.3" width="6.5" height="6" fill="#b3b3ff"/>
<line x1="126.67" y1="21.3" x2="132.17" y2="21.3" stroke="#0000ff" stroke-width="0.9"/>
<line x1="129.42" y1="20.1" x2="129.42" y2="21.9" stroke="#0000ff" stroke-width="0.7"/>
<text x="134.67" y="22.7">low</text>
</g>
<g stroke="#4d4d4d" stroke-width="0.75" fill="none">
<path d="M22.2,32 V103.6 H211.4"/>
<path d="M20.7,100.2 H22.2"/>
<path d="M20.7,83.9 H22.2"/>
<path d="M20.7,67.6 H22.2"/>
<path d="M20.7,51.3 H22.2"/>
<path d="M20.7,35 H22.2"/>
<path d="M31.1,103.6 V105.1"/>
<path d="M41.85,103.6 V105.1"/>
<path d="M52.6,103.6 V105.1"/>
<path d="M63.34,103.6 V105.1"/>
<path d="M74.09,103.6 V105.1"/>
<path d="M84.84,103.6 V105.1"/>
<path d="M95.59,103.6 V105.1"/>
<path d="M106.34,103.6 V105.1"/>
<path d="M117.08,103.6 V105.1"/>
<path d="M127.83,103.6 V105.1"/>
<path d="M138.58,103.6 V105.1"/>
<path d="M149.33,103.6 V105.1"/>
<path d="M160.08,103.6 V105.1"/>
<path d="M170.82,103.6 V105.1"/>
<path d="M181.57,103.6 V105.1"/>
<path d="M192.32,103.6 V105.1"/>
<path d="M203.07,103.6 V105.1"/>
<path d="M22.2,129.25 V138.85 H211.4"/>
<path d="M31.1,138.85 V140.35"/>
<path d="M41.85,138.85 V140.35"/>
<path d="M52.6,138.85 V140.35"/>
<path d="M63.34,138.85 V140.35"/>
<path d="M74.09,138.85 V140.35"/>
<path d="M84.84,138.85 V140.35"/>
<path d="M95.59,138.85 V140.35"/>
<path d="M106.34,138.85 V140.35"/>
<path d="M117.08,138.85 V140.35"/>
<path d="M127.83,138.85 V140.35"/>
<path d="M138.58,138.85 V140.35"/>
<path d="M149.33,138.85 V140.35"/>
<path d="M160.08,138.85 V140.35"/>
<path d="M170.82,138.85 V140.35"/>
<path d="M181.57,138.85 V140.35"/>
<path d="M192.32,138.85 V140.35"/>
<path d="M203.07,138.85 V140.35"/>
<path d="M21,131.85 H22.2 M21,136.05 H22.2"/>
</g>
<g font-family='"Liberation Sans", sans-serif' font-size="4.8" fill="#2a2a2a" stroke="#2a2a2a" stroke-width="0.18">
<text x="19.7" y="101.85" text-anchor="end" textLength="8" lengthAdjust="spacingAndGlyphs">0.00</text>
<text x="19.7" y="85.55" text-anchor="end" textLength="8" lengthAdjust="spacingAndGlyphs">0.25</text>
<text x="19.7" y="69.25" text-anchor="end" textLength="8" lengthAdjust="spacingAndGlyphs">0.50</text>
<text x="19.7" y="52.95" text-anchor="end" textLength="8" lengthAdjust="spacingAndGlyphs">0.75</text>
<text x="19.7" y="36.65" text-anchor="end" textLength="8" lengthAdjust="spacingAndGlyphs">1.00</text>
<text x="31.1" y="109.6" text-anchor="middle" textLength="2.4" lengthAdjust="spacingAndGlyphs">0</text>
<text x="31.1" y="144.3" text-anchor="middle" textLength="2.4" lengthAdjust="spacingAndGlyphs">0</text>
<text x="41.85" y="109.6" text-anchor="middle" textLength="2.4" lengthAdjust="spacingAndGlyphs">1</text>
<text x="41.85" y="144.3" text-anchor="middle" textLength="2.4" lengthAdjust="spacingAndGlyphs">1</text>
<text x="52.6" y="109.6" text-anchor="middle" textLength="2.4" lengthAdjust="spacingAndGlyphs">2</text>
<text x="52.6" y="144.3" text-anchor="middle" textLength="2.4" lengthAdjust="spacingAndGlyphs">2</text>
<text x="63.34" y="109.6" text-anchor="middle" textLength="2.4" lengthAdjust="spacingAndGlyphs">3</text>
<text x="63.34" y="144.3" text-anchor="middle" textLength="2.4" lengthAdjust="spacingAndGlyphs">3</text>
<text x="74.09" y="109.6" text-anchor="middle" textLength="2.4" lengthAdjust="spacingAndGlyphs">4</text>
<text x="74.09" y="144.3" text-anchor="middle" textLength="2.4" lengthAdjust="spacingAndGlyphs">4</text>
<text x="84.84" y="109.6" text-anchor="middle" textLength="2.4" lengthAdjust="spacingAndGlyphs">5</text>
<text x="84.84" y="144.3" text-anchor="middle" textLength="2.4" lengthAdjust="spacingAndGlyphs">5</text>
<text x="95.59" y="109.6" text-anchor="middle" textLength="2.4" lengthAdjust="spacingAndGlyphs">6</text>
<text x="95.59" y="144.3" text-anchor="middle" textLength="2.4" lengthAdjust="spacingAndGlyphs">6</text>
<text x="106.34" y="109.6" text-anchor="middle" textLength="2.4" lengthAdjust="spacingAndGlyphs">7</text>
<text x="106.34" y="144.3" text-anchor="middle" textLength="2.4" lengthAdjust="spacingAndGlyphs">7</text>
<text x="117.08" y="109.6" text-anchor="middle" textLength="2.4" lengthAdjust="spacingAndGlyphs">8</text>
<text x="117.08" y="144.3" text-anchor="middle" textLength="2.4" lengthAdjust="spacingAndGlyphs">8</text>
<text x="127.83" y="109.6" text-anchor="middle" textLength="2.4" lengthAdjust="spacingAndGlyphs">9</text>
<text x="127.83" y="144.3" text-anchor="middle" textLength="2.4" lengthAdjust="spacingAndGlyphs">9</text>
<text x="138.58" y="109.6" text-anchor="middle" textLength="4.8" lengthAdjust="spacingAndGlyphs">10</text>
<text x="138.58" y="144.3" text-anchor="middle" textLength="4.8" lengthAdjust="spacingAndGlyphs">10</text>
<text x="149.33" y="109.6" text-anchor="middle" textLength="4.48" lengthAdjust="spacingAndGlyphs">11</text>
<text x="149.33" y="144.3" text-anchor="middle" textLength="4.48" lengthAdjust="spacingAndGlyphs">11</text>
<text x="160.08" y="109.6" text-anchor="middle" textLength="4.8" lengthAdjust="spacingAndGlyphs">12</text>
<text x="160.08" y="144.3" text-anchor="middle" textLength="4.8" lengthAdjust="spacingAndGlyphs">12</text>
<text x="170.82" y="109.6" text-anchor="middle" textLength="4.8" lengthAdjust="spacingAndGlyphs">13</text>
<text x="170.82" y="144.3" text-anchor="middle" textLength="4.8" lengthAdjust="spacingAndGlyphs">13</text>
<text x="181.57" y="109.6" text-anchor="middle" textLength="4.8" lengthAdjust="spacingAndGlyphs">14</text>
<text x="181.57" y="144.3" text-anchor="middle" textLength="4.8" lengthAdjust="spacingAndGlyphs">14</text>
<text x="192.32" y="109.6" text-anchor="middle" textLength="4.8" lengthAdjust="spacingAndGlyphs">15</text>
<text x="192.32" y="144.3" text-anchor="middle" textLength="4.8" lengthAdjust="spacingAndGlyphs">15</text>
<text x="203.07" y="109.6" text-anchor="middle" textLength="4.8" lengthAdjust="spacingAndGlyphs">16</text>
<text x="203.07" y="144.3" text-anchor="middle" textLength="4.8" lengthAdjust="spacingAndGlyphs">16</text>
</g>
<g font-family='"Liberation Sans", sans-serif' font-size="5.6" fill="#2a2a2a" stroke="#2a2a2a" stroke-width="0.14" text-anchor="middle">
<text x="116.8" y="115.25">Time(years)</text>
<text x="116.8" y="150">Time(years)</text>
<text transform="translate(8.6,67.5) rotate(-90)" font-size="5.6">Overall survival</text>
<text transform="translate(8.7,134.35) rotate(-90)" font-size="5.6">NSUN7</text>
</g>
<g font-family='"Liberation Sans", sans-serif' font-size="4.7" text-anchor="end" stroke-width="0.12">
<text x="19.9" y="133.25" fill="#ff0000" stroke="#ff0000">high</text>
<text x="19.9" y="137.25" fill="#0000ff" stroke="#0000ff">low</text>
</g>
<g font-family='"Liberation Sans", sans-serif' font-size="5" fill="#222" stroke="#222" stroke-width="0.15" text-anchor="middle">
<text x="31.1" y="133.65" textLength="7.76" lengthAdjust="spacingAndGlyphs">798</text>
<text x="41.85" y="133.65" textLength="7.76" lengthAdjust="spacingAndGlyphs">665</text>
<text x="52.6" y="133.65" textLength="7.76" lengthAdjust="spacingAndGlyphs">528</text>
<text x="63.34" y="133.65" textLength="7.76" lengthAdjust="spacingAndGlyphs">395</text>
<text x="74.09" y="133.65" textLength="7.76" lengthAdjust="spacingAndGlyphs">298</text>
<text x="84.84" y="133.65" textLength="7.76" lengthAdjust="spacingAndGlyphs">232</text>
<text x="95.59" y="133.65" textLength="7.76" lengthAdjust="spacingAndGlyphs">179</text>
<text x="106.34" y="133.65" textLength="7.41" lengthAdjust="spacingAndGlyphs">117</text>
<text x="117.08" y="133.65" textLength="5.17" lengthAdjust="spacingAndGlyphs">69</text>
<text x="127.83" y="133.65" textLength="5.17" lengthAdjust="spacingAndGlyphs">54</text>
<text x="138.58" y="133.65" textLength="5.17" lengthAdjust="spacingAndGlyphs">42</text>
<text x="149.33" y="133.65" textLength="5.17" lengthAdjust="spacingAndGlyphs">27</text>
<text x="160.08" y="133.65" textLength="5.17" lengthAdjust="spacingAndGlyphs">16</text>
<text x="170.82" y="133.65" textLength="2.59" lengthAdjust="spacingAndGlyphs">9</text>
<text x="181.57" y="133.65" textLength="2.59" lengthAdjust="spacingAndGlyphs">5</text>
<text x="192.32" y="133.65" textLength="2.59" lengthAdjust="spacingAndGlyphs">3</text>
<text x="203.07" y="133.65" textLength="2.59" lengthAdjust="spacingAndGlyphs">1</text>
<text x="31.1" y="137.95" textLength="7.76" lengthAdjust="spacingAndGlyphs">160</text>
<text x="41.85" y="137.95" textLength="7.76" lengthAdjust="spacingAndGlyphs">130</text>
<text x="52.6" y="137.95" textLength="7.76" lengthAdjust="spacingAndGlyphs">105</text>
<text x="63.34" y="137.95" textLength="5.17" lengthAdjust="spacingAndGlyphs">76</text>
<text x="74.09" y="137.95" textLength="5.17" lengthAdjust="spacingAndGlyphs">62</text>
<text x="84.84" y="137.95" textLength="5.17" lengthAdjust="spacingAndGlyphs">47</text>
<text x="95.59" y="137.95" textLength="5.17" lengthAdjust="spacingAndGlyphs">37</text>
<text x="106.34" y="137.95" textLength="5.17" lengthAdjust="spacingAndGlyphs">22</text>
<text x="117.08" y="137.95" textLength="5.17" lengthAdjust="spacingAndGlyphs">17</text>
<text x="127.83" y="137.95" textLength="5.17" lengthAdjust="spacingAndGlyphs">10</text>
<text x="138.58" y="137.95" textLength="2.59" lengthAdjust="spacingAndGlyphs">7</text>
<text x="149.33" y="137.95" textLength="2.59" lengthAdjust="spacingAndGlyphs">5</text>
<text x="160.08" y="137.95" textLength="2.59" lengthAdjust="spacingAndGlyphs">1</text>
<text x="170.82" y="137.95" textLength="2.59" lengthAdjust="spacingAndGlyphs">1</text>
<text x="181.57" y="137.95" textLength="2.59" lengthAdjust="spacingAndGlyphs">1</text>
<text x="192.32" y="137.95" textLength="2.59" lengthAdjust="spacingAndGlyphs">1</text>
<text x="203.07" y="137.95" textLength="2.59" lengthAdjust="spacingAndGlyphs">0</text>
</g>
<text x="34.1" y="90.2" font-family='"Liberation Sans", sans-serif' font-size="6.5" fill="#222" stroke="#222" stroke-width="0.15">p=0.021</text>
</g>
<path d="M492.13,643.68 L532.93,657.77 L562.6,665.19 L581,668.16 L580.93,668.79 L590.87,670.62 L654.29,670.93 L654.29,671.84 L670.33,671.84 L670.33,682.54 L654.29,682.54 L620.67,682.54 L618.37,677.04 L590.87,676.43 L580.93,674.44 L581,674.09 L562.6,670.38 L532.93,661.48 L492.13,643.68 Z" fill="#ff0000" stroke="#ff0000" stroke-width="0.9" stroke-linejoin="round" opacity="0.3"/>
<path d="M492.13,643.68 L510.67,654.8 L525.51,661.48 L547.77,666.67 L562.6,670.38 L581,668.9 L580.93,668.33 L585.52,669.09 L586.28,670.31 L654.29,670.31 L654.29,686.21 L586.28,686.21 L585.52,679.79 L580.93,680.09 L581,680.77 L562.6,680.03 L547.77,675.58 L525.51,668.9 L510.67,661.48 L498.8,654.06 L492.13,643.68 Z" fill="#0000ff" stroke="#0000ff" stroke-width="0.9" stroke-linejoin="round" opacity="0.3"/>
<path d="M492.13,643.68 L498.8,651.09 M498.8,651.09 L506.22,652.58 M506.22,652.58 L510.67,657.77 M510.67,657.77 L518.09,659.26 M518.09,659.26 L525.51,665.19 M525.51,665.19 L532.93,667.42 M532.93,667.42 L540.35,668.9 M540.35,668.9 L547.77,671.12 M547.77,671.12 L555.18,672.61 M555.18,672.61 L562.6,674.83 M562.6,674.83 L581,674.39 M584.75,674.14 L586.28,679.03" fill="none" stroke="#0000ff" stroke-width="1.9" stroke-linecap="round"/>
<path d="M581,674.39 L580.93,674.14 M580.93,674.14 L584.75,674.14 M586.28,679.03 L654.29,679.03 M654.29,679.03 L654.29,709.13" fill="none" stroke="#0000ff" stroke-width="1.15" stroke-linecap="round"/>
<path d="M583.15,672.74 V674.94 M595.05,677.63 V679.83 M599.5,677.63 V679.83 M602.93,677.63 V679.83 M608.97,677.63 V679.83 M613.42,677.63 V679.83 M616.85,677.63 V679.83 M627.35,677.63 V679.83 M631.54,677.63 V679.83 M635.22,677.63 V679.83 M638.82,677.63 V679.83 M645.47,677.63 V679.83 M649.66,677.63 V679.83" fill="none" stroke="#0000ff" stroke-width="0.9"/>
<path d="M492.13,643.68 L503.26,648.13 M503.26,648.13 L518.09,652.58 M518.09,652.58 L532.93,659.26 M532.93,659.26 L547.77,663.71 M547.77,663.71 L562.6,667.42 M562.6,667.42 L581,671.87 M580.93,671.38 L584.75,672.91 M584.75,672.91 L590.87,673.98 M590.87,673.98 L618.37,674.9 M618.37,674.9 L620.67,677.5" fill="none" stroke="#ff0000" stroke-width="1.9" stroke-linecap="round"/>
<path d="M581,671.87 L580.93,671.38 M620.67,677.5 L670.33,677.5" fill="none" stroke="#ff0000" stroke-width="1.15" stroke-linecap="round"/>
<path d="M625.76,676.1 V678.3 M629.33,676.1 V678.3 M633.74,676.1 V678.3 M637.4,676.1 V678.3 M643.72,676.1 V678.3 M647.54,676.1 V678.3 M657.52,676.1 V678.3 M661.34,676.1 V678.3 M665.5,676.1 V678.3" fill="none" stroke="#ff0000" stroke-width="0.9"/>
<text x="459.9" y="631.8" font-family='"Liberation Serif", serif' font-weight="bold" font-size="17.3" fill="#000">O</text>
</svg></body></html>
